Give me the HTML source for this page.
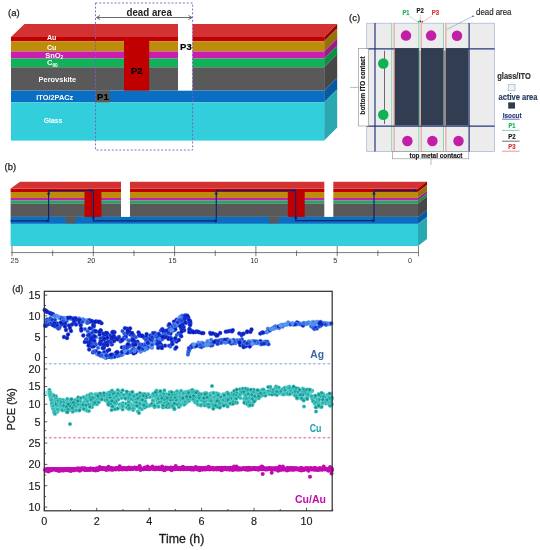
<!DOCTYPE html>
<html lang="en"><head><meta charset="utf-8"><title>Figure</title>
<style>
html,body{margin:0;padding:0;background:#fff;}
body{width:540px;height:550px;overflow:hidden;}
svg{display:block;font-family:'Liberation Sans', sans-serif;}
</style></head><body>
<svg width="540" height="550" viewBox="0 0 540 550">
<rect x="0" y="0" width="540" height="550" fill="#ffffff"/>
<polygon points="11.00,37.00 324.20,37.00 337.20,24.00 24.50,24.00" fill="#d23232" />
<rect x="11.00" y="37.00" width="313.20" height="4.30" fill="#c00000" />
<polygon points="324.20,37.00 337.20,24.00 337.20,28.30 324.20,41.30" fill="#9a0000" />
<rect x="11.00" y="41.30" width="313.20" height="10.20" fill="#bc8c0a" />
<polygon points="324.20,41.30 337.20,28.30 337.20,38.50 324.20,51.50" fill="#96700a" />
<rect x="11.00" y="51.50" width="313.20" height="7.00" fill="#c81fae" />
<polygon points="324.20,51.50 337.20,38.50 337.20,45.50 324.20,58.50" fill="#a0188a" />
<rect x="11.00" y="58.50" width="313.20" height="8.80" fill="#0fb257" />
<polygon points="324.20,58.50 337.20,45.50 337.20,54.30 324.20,67.30" fill="#0c8e46" />
<rect x="11.00" y="67.30" width="313.20" height="23.30" fill="#595959" />
<polygon points="324.20,67.30 337.20,54.30 337.20,77.60 324.20,90.60" fill="#474747" />
<rect x="11.00" y="90.60" width="313.20" height="11.70" fill="#0a6fc2" />
<polygon points="324.20,90.60 337.20,77.60 337.20,89.30 324.20,102.30" fill="#0859a0" />
<rect x="11.00" y="102.30" width="313.20" height="38.30" fill="#33cedb" />
<polygon points="324.20,102.30 337.20,89.30 337.20,127.60 324.20,140.60" fill="#29a8b2" />
<rect x="124.00" y="40.00" width="25.20" height="50.60" fill="#c00000" />
<rect x="178.00" y="22.00" width="14.50" height="68.60" fill="#ffffff" />
<rect x="95.60" y="90.60" width="14.30" height="11.70" fill="#595959" />
<rect x="95.5" y="3" width="97.1" height="147" fill="none" stroke="#8458c4" stroke-width="0.9" stroke-dasharray="2 1.8"/>
<line x1="97.00" y1="17.50" x2="191.50" y2="17.50" stroke="#444" stroke-width="0.8" />
<path d="M100 15.5 L96.5 17.5 L100 19.5 M188.5 15.5 L192 17.5 L188.5 19.5" fill="none" stroke="#444" stroke-width="0.8"/>
<text x="149.20" y="15.70" font-size="10.5" fill="#222" font-weight="bold" text-anchor="middle" textLength="45.5" lengthAdjust="spacingAndGlyphs">dead area</text>
<text x="51.60" y="40.40" font-size="7.5" fill="#fff" font-weight="bold" text-anchor="middle" textLength="9.4" lengthAdjust="spacingAndGlyphs">Au</text>
<text x="51.60" y="49.50" font-size="7.5" fill="#fff" font-weight="bold" text-anchor="middle" textLength="9.4" lengthAdjust="spacingAndGlyphs">Cu</text>
<text x="45.2" y="57.6" font-size="7.5" fill="#fff" font-weight="bold" text-anchor="start">SnO<tspan font-size="4.8" dy="1.5">2</tspan></text>
<text x="47" y="65" font-size="7.5" fill="#fff" font-weight="bold" text-anchor="start">C<tspan font-size="4.8" dy="1.5">60</tspan></text>
<text x="57.40" y="82.30" font-size="7.5" fill="#fff" font-weight="bold" text-anchor="middle" textLength="37.6" lengthAdjust="spacingAndGlyphs">Perovskite</text>
<text x="54.80" y="100.40" font-size="7.5" fill="#fff" font-weight="bold" text-anchor="middle" textLength="37" lengthAdjust="spacingAndGlyphs">ITO/2PACz</text>
<text x="53.00" y="123.00" font-size="7.5" fill="#fff" font-weight="bold" text-anchor="middle" textLength="18.6" lengthAdjust="spacingAndGlyphs">Glass</text>
<text x="136.70" y="73.50" font-size="9.5" fill="#000" font-weight="bold" text-anchor="middle" stroke="#000" stroke-width="0.2">P2</text>
<text x="185.90" y="49.80" font-size="9.5" fill="#000" font-weight="bold" text-anchor="middle" stroke="#000" stroke-width="0.2">P3</text>
<text x="102.90" y="100.00" font-size="9.5" fill="#000" font-weight="bold" text-anchor="middle" stroke="#000" stroke-width="0.2">P1</text>
<text x="8.00" y="16.30" font-size="9.5" fill="#222" font-weight="normal" text-anchor="start" stroke="#222" stroke-width="0.25">(a)</text>
<polygon points="10.60,188.60 418.00,188.60 427.00,181.80 20.10,181.80" fill="#d23232" />
<rect x="10.60" y="188.60" width="407.40" height="3.40" fill="#c00000" />
<polygon points="418.00,188.60 427.00,181.60 427.00,185.00 418.00,192.00" fill="#9a0000" />
<rect x="10.60" y="192.00" width="407.40" height="6.00" fill="#bc8c0a" />
<polygon points="418.00,192.00 427.00,185.00 427.00,191.00 418.00,198.00" fill="#96700a" />
<rect x="10.60" y="198.00" width="407.40" height="2.60" fill="#c81fae" />
<polygon points="418.00,198.00 427.00,191.00 427.00,193.60 418.00,200.60" fill="#a0188a" />
<rect x="10.60" y="200.60" width="407.40" height="2.80" fill="#0fb257" />
<polygon points="418.00,200.60 427.00,193.60 427.00,196.40 418.00,203.40" fill="#0c8e46" />
<rect x="10.60" y="203.40" width="407.40" height="13.50" fill="#595959" />
<polygon points="418.00,203.40 427.00,196.40 427.00,209.90 418.00,216.90" fill="#474747" />
<rect x="10.60" y="216.90" width="407.40" height="7.00" fill="#0a6fc2" />
<polygon points="418.00,216.90 427.00,209.90 427.00,216.90 418.00,223.90" fill="#0859a0" />
<rect x="10.60" y="223.90" width="407.40" height="22.10" fill="#33cedb" />
<polygon points="418.00,223.90 427.00,216.90 427.00,239.00 418.00,246.00" fill="#29a8b2" />
<rect x="65.70" y="216.90" width="9.80" height="6.40" fill="#595959" />
<rect x="84.50" y="190.00" width="16.90" height="26.90" fill="#c00000" />
<rect x="121.00" y="175.00" width="9.00" height="41.90" fill="#ffffff" />
<rect x="269.00" y="216.90" width="9.80" height="6.40" fill="#595959" />
<rect x="287.80" y="190.00" width="16.90" height="26.90" fill="#c00000" />
<rect x="324.30" y="175.00" width="9.00" height="41.90" fill="#ffffff" />
<polyline points="10.6,220.8 48.6,220.8 48.6,190.5 93.4,190.5 93.4,220.9 216.3,220.9 216.3,190.4 295.7,190.4 295.7,220.6 374,220.6 374,190.4 415,190.4" fill="none" stroke="#0b2272" stroke-width="1.15" stroke-linejoin="miter"/>
<polygon points="46.90,194.38 50.30,194.38 48.60,191.00" fill="#0b2272" />
<polygon points="214.60,194.38 218.00,194.38 216.30,191.00" fill="#0b2272" />
<polygon points="372.30,194.38 375.70,194.38 374.00,191.00" fill="#0b2272" />
<polygon points="91.70,217.22 95.10,217.22 93.40,220.60" fill="#0b2272" />
<polygon points="294.00,217.02 297.40,217.02 295.70,220.40" fill="#0b2272" />
<polygon points="89.82,188.80 89.82,192.20 93.20,190.50" fill="#0b2272" />
<polygon points="292.22,188.70 292.22,192.10 295.60,190.40" fill="#0b2272" />
<polygon points="414.12,188.70 414.12,192.10 417.50,190.40" fill="#0b2272" />
<circle cx="47.9" cy="220.8" r="1.3" fill="#0b2272"/>
<circle cx="215.6" cy="220.9" r="1.3" fill="#0b2272"/>
<circle cx="373.3" cy="220.6" r="1.3" fill="#0b2272"/>
<line x1="11.10" y1="252.60" x2="418.00" y2="252.60" stroke="#444" stroke-width="0.7" />
<line x1="12.00" y1="246.00" x2="12.00" y2="256.30" stroke="#444" stroke-width="0.7" />
<line x1="93.30" y1="246.00" x2="93.30" y2="256.30" stroke="#444" stroke-width="0.7" />
<line x1="174.60" y1="246.00" x2="174.60" y2="256.30" stroke="#444" stroke-width="0.7" />
<line x1="255.90" y1="246.00" x2="255.90" y2="256.30" stroke="#444" stroke-width="0.7" />
<line x1="337.20" y1="246.00" x2="337.20" y2="256.30" stroke="#444" stroke-width="0.7" />
<line x1="418.50" y1="246.00" x2="418.50" y2="256.30" stroke="#444" stroke-width="0.7" />
<line x1="52.65" y1="250.40" x2="52.65" y2="256.00" stroke="#444" stroke-width="0.7" />
<line x1="133.95" y1="250.40" x2="133.95" y2="256.00" stroke="#444" stroke-width="0.7" />
<line x1="215.25" y1="250.40" x2="215.25" y2="256.00" stroke="#444" stroke-width="0.7" />
<line x1="296.55" y1="250.40" x2="296.55" y2="256.00" stroke="#444" stroke-width="0.7" />
<line x1="377.85" y1="250.40" x2="377.85" y2="256.00" stroke="#444" stroke-width="0.7" />
<text x="10.60" y="263.40" font-size="7.3" fill="#333" font-weight="normal" text-anchor="start" >25</text>
<text x="91.20" y="263.40" font-size="7.3" fill="#333" font-weight="normal" text-anchor="middle" >20</text>
<text x="172.40" y="263.40" font-size="7.3" fill="#333" font-weight="normal" text-anchor="middle" >15</text>
<text x="254.20" y="263.40" font-size="7.3" fill="#333" font-weight="normal" text-anchor="middle" >10</text>
<text x="335.40" y="263.40" font-size="7.3" fill="#333" font-weight="normal" text-anchor="middle" >5</text>
<text x="410.00" y="263.40" font-size="7.3" fill="#333" font-weight="normal" text-anchor="middle" >0</text>
<text x="4.50" y="170.20" font-size="9.5" fill="#222" font-weight="normal" text-anchor="start" stroke="#222" stroke-width="0.25">(b)</text>
<rect x="366.70" y="23.20" width="127.90" height="128.20" fill="#ececec" stroke="#9fb3d3" stroke-width="0.7"/>
<line x1="392.90" y1="23.10" x2="392.90" y2="151.40" stroke="#fafafa" stroke-width="1.4" />
<line x1="391.75" y1="23.10" x2="391.75" y2="151.40" stroke="#62cf95" stroke-width="0.8" />
<line x1="394.05" y1="23.10" x2="394.05" y2="151.40" stroke="#e57878" stroke-width="0.8" />
<line x1="420.00" y1="23.10" x2="420.00" y2="151.40" stroke="#fafafa" stroke-width="1.4" />
<line x1="418.85" y1="23.10" x2="418.85" y2="151.40" stroke="#62cf95" stroke-width="0.8" />
<line x1="421.15" y1="23.10" x2="421.15" y2="151.40" stroke="#e57878" stroke-width="0.8" />
<line x1="444.70" y1="23.10" x2="444.70" y2="151.40" stroke="#fafafa" stroke-width="1.4" />
<line x1="443.55" y1="23.10" x2="443.55" y2="151.40" stroke="#62cf95" stroke-width="0.8" />
<line x1="445.85" y1="23.10" x2="445.85" y2="151.40" stroke="#e57878" stroke-width="0.8" />
<line x1="375.00" y1="23.10" x2="375.00" y2="151.40" stroke="#26377e" stroke-width="1.2" />
<line x1="469.10" y1="23.10" x2="469.10" y2="151.40" stroke="#26377e" stroke-width="1.2" />
<line x1="366.70" y1="48.90" x2="494.60" y2="48.90" stroke="#26377e" stroke-width="1.2" />
<line x1="366.70" y1="126.10" x2="494.60" y2="126.10" stroke="#26377e" stroke-width="1.2" />
<rect x="394.70" y="48.20" width="73.80" height="77.30" fill="#313d50" />
<line x1="419.30" y1="48.20" x2="419.30" y2="125.50" stroke="#a5dcc0" stroke-width="0.9" />
<line x1="420.50" y1="48.20" x2="420.50" y2="125.50" stroke="#eab0b0" stroke-width="0.9" />
<line x1="420.00" y1="48.20" x2="420.00" y2="50.60" stroke="#ffffff" stroke-width="1.2" />
<line x1="444.00" y1="48.20" x2="444.00" y2="125.50" stroke="#a5dcc0" stroke-width="0.9" />
<line x1="445.20" y1="48.20" x2="445.20" y2="125.50" stroke="#eab0b0" stroke-width="0.9" />
<line x1="444.70" y1="48.20" x2="444.70" y2="50.60" stroke="#ffffff" stroke-width="1.2" />
<line x1="394.40" y1="48.20" x2="394.40" y2="125.50" stroke="#d98080" stroke-width="0.7" />
<circle cx="406" cy="35.6" r="5.25" fill="#c31ea6"/>
<circle cx="431.1" cy="35.6" r="5.25" fill="#c31ea6"/>
<circle cx="457" cy="35.7" r="5.25" fill="#c31ea6"/>
<circle cx="407.4" cy="141" r="5.25" fill="#c31ea6"/>
<circle cx="432.4" cy="141" r="5.25" fill="#c31ea6"/>
<circle cx="458.5" cy="141" r="5.25" fill="#c31ea6"/>
<line x1="384.50" y1="50.70" x2="384.50" y2="124.00" stroke="#333" stroke-width="0.7" />
<circle cx="383.3" cy="63.5" r="5.25" fill="#10b053"/>
<circle cx="383.3" cy="114.8" r="5.25" fill="#10b053"/>
<rect x="358.30" y="48.60" width="10.30" height="77.40" fill="#ffffff" stroke="#8a8a8a" stroke-width="0.6"/>
<line x1="350.00" y1="87.40" x2="358.30" y2="87.40" stroke="#8a8a8a" stroke-width="0.6" />
<text transform="translate(365.1,85.4) rotate(-90)" font-size="7" fill="#151515" stroke="#151515" stroke-width="0.15" font-weight="bold" text-anchor="middle" textLength="58" lengthAdjust="spacingAndGlyphs">bottom ITO contact</text>
<rect x="392.60" y="151.60" width="76.20" height="7.20" fill="#ffffff" stroke="#8a8a8a" stroke-width="0.6"/>
<line x1="431.00" y1="158.80" x2="431.00" y2="165.00" stroke="#8a8a8a" stroke-width="0.6" />
<text x="436.00" y="157.80" font-size="7" fill="#151515" font-weight="bold" text-anchor="middle" textLength="53" lengthAdjust="spacingAndGlyphs" stroke="#151515" stroke-width="0.15">top metal contact</text>
<text x="406.00" y="15.40" font-size="6.9" fill="#10b053" font-weight="bold" text-anchor="middle" textLength="6.9" lengthAdjust="spacingAndGlyphs" stroke="#10b053" stroke-width="0.15">P1</text>
<text x="420.20" y="13.40" font-size="6.9" fill="#111" font-weight="bold" text-anchor="middle" textLength="7.3" lengthAdjust="spacingAndGlyphs" stroke="#111" stroke-width="0.15">P2</text>
<text x="435.40" y="15.40" font-size="6.9" fill="#d23232" font-weight="bold" text-anchor="middle" textLength="7.3" lengthAdjust="spacingAndGlyphs" stroke="#d23232" stroke-width="0.15">P3</text>
<line x1="408.50" y1="15.60" x2="418.30" y2="22.20" stroke="#55c98a" stroke-width="0.45" />
<line x1="420.20" y1="14.40" x2="420.20" y2="21.00" stroke="#888" stroke-width="0.4" />
<line x1="432.00" y1="15.80" x2="422.40" y2="22.20" stroke="#e06a6a" stroke-width="0.45" />
<rect x="417.90" y="20.90" width="1.40" height="1.60" fill="#10b053" />
<rect x="419.70" y="20.50" width="1.30" height="1.80" fill="#222" />
<rect x="421.60" y="20.90" width="1.40" height="1.60" fill="#d23232" />
<line x1="472.60" y1="16.30" x2="446.50" y2="29.60" stroke="#6f86b8" stroke-width="0.5" />
<circle cx="473" cy="16.2" r="0.8" fill="#2d3f86"/>
<text x="476.00" y="15.40" font-size="8.4" fill="#222" font-weight="normal" text-anchor="start" textLength="35.5" lengthAdjust="spacingAndGlyphs" stroke="#222" stroke-width="0.15">dead area</text>
<text x="514.00" y="79.30" font-size="8.4" fill="#333" font-weight="bold" text-anchor="middle" textLength="33.5" lengthAdjust="spacingAndGlyphs" stroke="#333" stroke-width="0.2">glass/ITO</text>
<rect x="508.20" y="84.40" width="6.80" height="6.40" fill="#eef1f5" stroke="#9fb3d3" stroke-width="0.7"/>
<text x="518.00" y="100.30" font-size="8.4" fill="#2b3f60" font-weight="bold" text-anchor="middle" textLength="39" lengthAdjust="spacingAndGlyphs" stroke="#2b3f60" stroke-width="0.2">active area</text>
<rect x="508.20" y="102.40" width="6.80" height="6.20" fill="#2f3b4f" />
<text x="512.20" y="117.60" font-size="6.8" fill="#26377e" font-weight="bold" text-anchor="middle" textLength="18.8" lengthAdjust="spacingAndGlyphs" stroke="#26377e" stroke-width="0.15">Isocut</text>
<line x1="502.00" y1="119.20" x2="519.60" y2="119.20" stroke="#26377e" stroke-width="0.7" />
<text x="512.00" y="127.80" font-size="6.9" fill="#10b053" font-weight="bold" text-anchor="middle" textLength="7" lengthAdjust="spacingAndGlyphs" stroke="#10b053" stroke-width="0.15">P1</text>
<line x1="502.00" y1="130.40" x2="519.60" y2="130.40" stroke="#55c98a" stroke-width="0.7" />
<text x="512.00" y="138.70" font-size="6.9" fill="#111" font-weight="bold" text-anchor="middle" textLength="7.3" lengthAdjust="spacingAndGlyphs" stroke="#111" stroke-width="0.15">P2</text>
<line x1="502.00" y1="141.20" x2="519.60" y2="141.20" stroke="#333" stroke-width="0.7" />
<text x="512.00" y="149.40" font-size="6.9" fill="#d23232" font-weight="bold" text-anchor="middle" textLength="7.3" lengthAdjust="spacingAndGlyphs" stroke="#d23232" stroke-width="0.15">P3</text>
<line x1="502.00" y1="151.20" x2="519.60" y2="151.20" stroke="#e06a6a" stroke-width="0.7" />
<text x="349.00" y="21.00" font-size="9.5" fill="#222" font-weight="normal" text-anchor="start" stroke="#222" stroke-width="0.25">(c)</text>
<g stroke-width="0.4">
<circle cx="132.3" cy="340.5" r="1.9" fill="#0a18b8" stroke="#2846d8"/>
<circle cx="227.7" cy="339.7" r="1.9" fill="#1232c8" stroke="#6a9ff2"/>
<circle cx="132.5" cy="338.4" r="1.9" fill="#0a18b8" stroke="#2846d8"/>
<circle cx="146.4" cy="344.5" r="1.9" fill="#1a44d4" stroke="#6a9ff2"/>
<circle cx="66.8" cy="320.9" r="1.9" fill="#2456dc" stroke="#6a9ff2"/>
<circle cx="167.8" cy="331.7" r="1.9" fill="#1a44d4" stroke="#6a9ff2"/>
<circle cx="161.2" cy="346.3" r="1.9" fill="#0b1cc0" stroke="#2846d8"/>
<circle cx="268.8" cy="329.7" r="1.9" fill="#3f7fe8" stroke="#6a9ff2"/>
<circle cx="122.9" cy="354.5" r="1.9" fill="#5a9af2" stroke="#6a9ff2"/>
<circle cx="89.2" cy="349.5" r="1.9" fill="#0e26c8" stroke="#2846d8"/>
<circle cx="151.1" cy="339.3" r="1.9" fill="#0d22c6" stroke="#2846d8"/>
<circle cx="184.4" cy="316.6" r="1.9" fill="#0a1ab0" stroke="#2846d8"/>
<circle cx="133.0" cy="337.2" r="1.9" fill="#1a44d4" stroke="#6a9ff2"/>
<circle cx="133.8" cy="348.9" r="1.9" fill="#0a18b8" stroke="#2846d8"/>
<circle cx="178.6" cy="320.7" r="1.9" fill="#2456dc" stroke="#6a9ff2"/>
<circle cx="51.6" cy="324.1" r="1.9" fill="#2456dc" stroke="#6a9ff2"/>
<circle cx="159.6" cy="338.2" r="1.9" fill="#0a1ab0" stroke="#2846d8"/>
<circle cx="312.8" cy="322.0" r="1.9" fill="#5a9af2" stroke="#6a9ff2"/>
<circle cx="202.6" cy="345.9" r="1.9" fill="#0b1cc0" stroke="#2846d8"/>
<circle cx="178.5" cy="333.4" r="1.9" fill="#0a1ab0" stroke="#2846d8"/>
<circle cx="138.3" cy="348.9" r="1.9" fill="#0a18b8" stroke="#2846d8"/>
<circle cx="300.5" cy="324.1" r="1.9" fill="#0a1ab0" stroke="#2846d8"/>
<circle cx="222.8" cy="341.7" r="1.9" fill="#2456dc" stroke="#6a9ff2"/>
<circle cx="249.8" cy="346.5" r="1.9" fill="#0d22c6" stroke="#2846d8"/>
<circle cx="221.2" cy="339.9" r="1.9" fill="#1a44d4" stroke="#6a9ff2"/>
<circle cx="133.1" cy="350.9" r="1.9" fill="#0a18b8" stroke="#2846d8"/>
<circle cx="176.7" cy="335.1" r="1.9" fill="#2456dc" stroke="#6a9ff2"/>
<circle cx="108.2" cy="334.7" r="1.9" fill="#0b1cc0" stroke="#2846d8"/>
<circle cx="232.9" cy="343.2" r="1.9" fill="#0a18b8" stroke="#2846d8"/>
<circle cx="296.9" cy="322.5" r="1.9" fill="#0b1cc0" stroke="#2846d8"/>
<circle cx="320.0" cy="326.3" r="1.9" fill="#2456dc" stroke="#6a9ff2"/>
<circle cx="104.2" cy="334.7" r="1.9" fill="#1232c8" stroke="#6a9ff2"/>
<circle cx="235.5" cy="343.2" r="1.9" fill="#2a6be4" stroke="#6a9ff2"/>
<circle cx="248.7" cy="341.3" r="1.9" fill="#2456dc" stroke="#6a9ff2"/>
<circle cx="132.7" cy="351.4" r="1.9" fill="#0e26c8" stroke="#2846d8"/>
<circle cx="317.7" cy="321.8" r="1.9" fill="#3f7fe8" stroke="#6a9ff2"/>
<circle cx="96.3" cy="321.3" r="1.9" fill="#0b1cc0" stroke="#2846d8"/>
<circle cx="184.2" cy="320.8" r="1.9" fill="#0a18b8" stroke="#2846d8"/>
<circle cx="60.6" cy="322.3" r="1.9" fill="#1a44d4" stroke="#6a9ff2"/>
<circle cx="250.5" cy="341.9" r="1.9" fill="#0b1cc0" stroke="#2846d8"/>
<circle cx="199.7" cy="346.4" r="1.9" fill="#1232c8" stroke="#6a9ff2"/>
<circle cx="163.8" cy="336.8" r="1.9" fill="#2a6be4" stroke="#6a9ff2"/>
<circle cx="132.8" cy="350.3" r="1.9" fill="#1232c8" stroke="#6a9ff2"/>
<circle cx="105.3" cy="342.9" r="1.9" fill="#0d22c6" stroke="#2846d8"/>
<circle cx="199.2" cy="332.3" r="1.9" fill="#0b1cc0" stroke="#2846d8"/>
<circle cx="215.7" cy="341.0" r="1.9" fill="#0a18b8" stroke="#2846d8"/>
<circle cx="105.4" cy="344.7" r="1.9" fill="#0b1cc0" stroke="#2846d8"/>
<circle cx="92.2" cy="346.5" r="1.9" fill="#0a1ab0" stroke="#2846d8"/>
<circle cx="252.8" cy="341.5" r="1.9" fill="#0a18b8" stroke="#2846d8"/>
<circle cx="172.9" cy="330.7" r="1.9" fill="#0a18b8" stroke="#2846d8"/>
<circle cx="108.8" cy="356.7" r="1.9" fill="#0a1ab0" stroke="#2846d8"/>
<circle cx="308.8" cy="323.1" r="1.9" fill="#2a6be4" stroke="#6a9ff2"/>
<circle cx="62.5" cy="324.0" r="1.9" fill="#0a18b8" stroke="#2846d8"/>
<circle cx="275.5" cy="326.3" r="1.9" fill="#1232c8" stroke="#6a9ff2"/>
<circle cx="132.6" cy="351.6" r="1.9" fill="#1232c8" stroke="#6a9ff2"/>
<circle cx="195.3" cy="346.3" r="1.9" fill="#0b1cc0" stroke="#2846d8"/>
<circle cx="324.5" cy="323.1" r="1.9" fill="#1a44d4" stroke="#6a9ff2"/>
<circle cx="121.9" cy="347.3" r="1.9" fill="#0a18b8" stroke="#2846d8"/>
<circle cx="166.0" cy="333.7" r="1.9" fill="#2a6be4" stroke="#6a9ff2"/>
<circle cx="114.9" cy="356.6" r="1.9" fill="#1a44d4" stroke="#6a9ff2"/>
<circle cx="96.9" cy="353.1" r="1.9" fill="#2a6be4" stroke="#6a9ff2"/>
<circle cx="162.3" cy="336.4" r="1.9" fill="#4f8ff0" stroke="#6a9ff2"/>
<circle cx="162.5" cy="336.2" r="1.9" fill="#2456dc" stroke="#6a9ff2"/>
<circle cx="188.3" cy="317.4" r="1.9" fill="#0d22c6" stroke="#2846d8"/>
<circle cx="195.9" cy="345.3" r="1.9" fill="#0e26c8" stroke="#2846d8"/>
<circle cx="277.1" cy="326.9" r="1.9" fill="#4f8ff0" stroke="#6a9ff2"/>
<circle cx="243.8" cy="342.6" r="1.9" fill="#1a44d4" stroke="#6a9ff2"/>
<circle cx="259.3" cy="342.6" r="1.9" fill="#2456dc" stroke="#6a9ff2"/>
<circle cx="115.5" cy="355.4" r="1.9" fill="#1232c8" stroke="#6a9ff2"/>
<circle cx="76.7" cy="319.9" r="1.9" fill="#0d22c6" stroke="#2846d8"/>
<circle cx="96.0" cy="336.9" r="1.9" fill="#2456dc" stroke="#6a9ff2"/>
<circle cx="130.3" cy="334.6" r="1.9" fill="#0d22c6" stroke="#2846d8"/>
<circle cx="164.0" cy="332.8" r="1.9" fill="#0b1cc0" stroke="#2846d8"/>
<circle cx="137.5" cy="341.6" r="1.9" fill="#0e26c8" stroke="#2846d8"/>
<circle cx="201.5" cy="347.1" r="1.9" fill="#1232c8" stroke="#6a9ff2"/>
<circle cx="134.2" cy="351.2" r="1.9" fill="#0a18b8" stroke="#2846d8"/>
<circle cx="314.2" cy="323.5" r="1.9" fill="#4f8ff0" stroke="#6a9ff2"/>
<circle cx="150.5" cy="345.2" r="1.9" fill="#4f8ff0" stroke="#6a9ff2"/>
<circle cx="52.6" cy="320.0" r="1.9" fill="#0d22c6" stroke="#2846d8"/>
<circle cx="46.5" cy="319.8" r="1.9" fill="#2456dc" stroke="#6a9ff2"/>
<circle cx="69.0" cy="325.5" r="1.9" fill="#0a18b8" stroke="#2846d8"/>
<circle cx="171.2" cy="325.7" r="1.9" fill="#1a44d4" stroke="#6a9ff2"/>
<circle cx="182.4" cy="324.2" r="1.9" fill="#0b1cc0" stroke="#2846d8"/>
<circle cx="138.9" cy="350.0" r="1.9" fill="#4f8ff0" stroke="#6a9ff2"/>
<circle cx="130.6" cy="351.3" r="1.9" fill="#5a9af2" stroke="#6a9ff2"/>
<circle cx="107.2" cy="351.0" r="1.9" fill="#0d22c6" stroke="#2846d8"/>
<circle cx="93.0" cy="352.4" r="1.9" fill="#0b1cc0" stroke="#2846d8"/>
<circle cx="87.3" cy="321.4" r="1.9" fill="#5a9af2" stroke="#6a9ff2"/>
<circle cx="164.6" cy="334.5" r="1.9" fill="#0d22c6" stroke="#2846d8"/>
<circle cx="207.5" cy="341.2" r="1.9" fill="#3f7fe8" stroke="#6a9ff2"/>
<circle cx="81.3" cy="330.5" r="1.9" fill="#0a18b8" stroke="#2846d8"/>
<circle cx="96.7" cy="331.7" r="1.9" fill="#1a44d4" stroke="#6a9ff2"/>
<circle cx="201.1" cy="343.6" r="1.9" fill="#0a1ab0" stroke="#2846d8"/>
<circle cx="186.3" cy="323.0" r="1.9" fill="#2456dc" stroke="#6a9ff2"/>
<circle cx="176.1" cy="340.4" r="1.9" fill="#0b1cc0" stroke="#2846d8"/>
<circle cx="70.2" cy="318.7" r="1.9" fill="#2a6be4" stroke="#6a9ff2"/>
<circle cx="271.4" cy="328.8" r="1.9" fill="#3f7fe8" stroke="#6a9ff2"/>
<circle cx="158.7" cy="346.7" r="1.9" fill="#2456dc" stroke="#6a9ff2"/>
<circle cx="159.2" cy="340.1" r="1.9" fill="#2456dc" stroke="#6a9ff2"/>
<circle cx="209.1" cy="344.7" r="1.9" fill="#0a1ab0" stroke="#2846d8"/>
<circle cx="160.8" cy="330.7" r="1.9" fill="#1a44d4" stroke="#6a9ff2"/>
<circle cx="161.3" cy="345.2" r="1.9" fill="#0a18b8" stroke="#2846d8"/>
<circle cx="152.3" cy="341.2" r="1.9" fill="#0a1ab0" stroke="#2846d8"/>
<circle cx="72.0" cy="324.5" r="1.9" fill="#0e26c8" stroke="#2846d8"/>
<circle cx="100.7" cy="330.5" r="1.9" fill="#0a1ab0" stroke="#2846d8"/>
<circle cx="46.7" cy="311.8" r="1.9" fill="#0a18b8" stroke="#2846d8"/>
<circle cx="149.1" cy="338.8" r="1.9" fill="#0a1ab0" stroke="#2846d8"/>
<circle cx="115.8" cy="352.9" r="1.9" fill="#1a44d4" stroke="#6a9ff2"/>
<circle cx="67.0" cy="338.0" r="1.9" fill="#0a1ab0" stroke="#2846d8"/>
<circle cx="65.0" cy="326.5" r="1.9" fill="#0a1ab0" stroke="#2846d8"/>
<circle cx="115.6" cy="338.2" r="1.9" fill="#0b1cc0" stroke="#2846d8"/>
<circle cx="115.3" cy="355.9" r="1.9" fill="#0b1cc0" stroke="#2846d8"/>
<circle cx="100.6" cy="330.5" r="1.9" fill="#0a1ab0" stroke="#2846d8"/>
<circle cx="60.8" cy="325.5" r="1.9" fill="#2456dc" stroke="#6a9ff2"/>
<circle cx="326.5" cy="324.8" r="1.9" fill="#3f7fe8" stroke="#6a9ff2"/>
<circle cx="184.2" cy="330.4" r="1.9" fill="#1a44d4" stroke="#6a9ff2"/>
<circle cx="170.9" cy="329.1" r="1.9" fill="#1a44d4" stroke="#6a9ff2"/>
<circle cx="117.5" cy="356.1" r="1.9" fill="#1a44d4" stroke="#6a9ff2"/>
<circle cx="56.8" cy="323.3" r="1.9" fill="#0d22c6" stroke="#2846d8"/>
<circle cx="190.2" cy="323.5" r="1.9" fill="#0d22c6" stroke="#2846d8"/>
<circle cx="62.5" cy="321.9" r="1.9" fill="#0a1ab0" stroke="#2846d8"/>
<circle cx="116.1" cy="354.3" r="1.9" fill="#0a1ab0" stroke="#2846d8"/>
<circle cx="314.5" cy="329.1" r="1.9" fill="#1a44d4" stroke="#6a9ff2"/>
<circle cx="64.0" cy="337.0" r="1.9" fill="#0d22c6" stroke="#2846d8"/>
<circle cx="230.0" cy="330.9" r="1.9" fill="#0e26c8" stroke="#2846d8"/>
<circle cx="50.8" cy="313.5" r="1.9" fill="#0a18b8" stroke="#2846d8"/>
<circle cx="326.9" cy="323.4" r="1.9" fill="#1a44d4" stroke="#6a9ff2"/>
<circle cx="316.9" cy="328.5" r="1.9" fill="#1232c8" stroke="#6a9ff2"/>
<circle cx="170.5" cy="333.7" r="1.9" fill="#0b1cc0" stroke="#2846d8"/>
<circle cx="308.5" cy="322.4" r="1.9" fill="#2456dc" stroke="#6a9ff2"/>
<circle cx="219.0" cy="343.1" r="1.9" fill="#4f8ff0" stroke="#6a9ff2"/>
<circle cx="130.2" cy="333.4" r="1.9" fill="#0e26c8" stroke="#2846d8"/>
<circle cx="86.5" cy="320.1" r="1.9" fill="#5a9af2" stroke="#6a9ff2"/>
<circle cx="62.0" cy="323.3" r="1.9" fill="#0a18b8" stroke="#2846d8"/>
<circle cx="65.1" cy="323.4" r="1.9" fill="#0a18b8" stroke="#2846d8"/>
<circle cx="167.1" cy="332.9" r="1.9" fill="#2456dc" stroke="#6a9ff2"/>
<circle cx="227.1" cy="339.3" r="1.9" fill="#1232c8" stroke="#6a9ff2"/>
<circle cx="268.0" cy="343.3" r="1.9" fill="#1a44d4" stroke="#6a9ff2"/>
<circle cx="152.9" cy="332.9" r="1.9" fill="#1a44d4" stroke="#6a9ff2"/>
<circle cx="72.8" cy="318.3" r="1.9" fill="#0e26c8" stroke="#2846d8"/>
<circle cx="180.9" cy="317.0" r="1.9" fill="#0b1cc0" stroke="#2846d8"/>
<circle cx="183.1" cy="316.4" r="1.9" fill="#1232c8" stroke="#6a9ff2"/>
<circle cx="257.6" cy="342.2" r="1.9" fill="#2a6be4" stroke="#6a9ff2"/>
<circle cx="260.3" cy="341.1" r="1.9" fill="#0b1cc0" stroke="#2846d8"/>
<circle cx="148.8" cy="346.8" r="1.9" fill="#0a18b8" stroke="#2846d8"/>
<circle cx="146.6" cy="335.3" r="1.9" fill="#1a44d4" stroke="#6a9ff2"/>
<circle cx="310.9" cy="323.0" r="1.9" fill="#5a9af2" stroke="#6a9ff2"/>
<circle cx="95.7" cy="352.1" r="1.9" fill="#0d22c6" stroke="#2846d8"/>
<circle cx="139.1" cy="335.6" r="1.9" fill="#0a1ab0" stroke="#2846d8"/>
<circle cx="311.2" cy="326.2" r="1.9" fill="#2456dc" stroke="#6a9ff2"/>
<circle cx="79.1" cy="318.3" r="1.9" fill="#4f8ff0" stroke="#6a9ff2"/>
<circle cx="180.3" cy="334.5" r="1.9" fill="#1a44d4" stroke="#6a9ff2"/>
<circle cx="170.3" cy="346.6" r="1.9" fill="#2456dc" stroke="#6a9ff2"/>
<circle cx="80.5" cy="322.4" r="1.9" fill="#0d22c6" stroke="#2846d8"/>
<circle cx="130.1" cy="328.3" r="1.9" fill="#0a18b8" stroke="#2846d8"/>
<circle cx="170.7" cy="328.6" r="1.9" fill="#4f8ff0" stroke="#6a9ff2"/>
<circle cx="95.6" cy="331.2" r="1.9" fill="#0d22c6" stroke="#2846d8"/>
<circle cx="109.5" cy="355.9" r="1.9" fill="#0d22c6" stroke="#2846d8"/>
<circle cx="120.5" cy="341.5" r="1.9" fill="#1a44d4" stroke="#6a9ff2"/>
<circle cx="100.7" cy="353.7" r="1.9" fill="#1a44d4" stroke="#6a9ff2"/>
<circle cx="240.6" cy="343.2" r="1.9" fill="#1232c8" stroke="#6a9ff2"/>
<circle cx="61.1" cy="322.6" r="1.9" fill="#0a1ab0" stroke="#2846d8"/>
<circle cx="259.0" cy="343.2" r="1.9" fill="#0a1ab0" stroke="#2846d8"/>
<circle cx="262.2" cy="332.5" r="1.9" fill="#0d22c6" stroke="#2846d8"/>
<circle cx="59.2" cy="318.1" r="1.9" fill="#4f8ff0" stroke="#6a9ff2"/>
<circle cx="66.5" cy="318.4" r="1.9" fill="#3f7fe8" stroke="#6a9ff2"/>
<circle cx="171.5" cy="327.1" r="1.9" fill="#3f7fe8" stroke="#6a9ff2"/>
<circle cx="127.4" cy="333.5" r="1.9" fill="#1232c8" stroke="#6a9ff2"/>
<circle cx="93.9" cy="326.7" r="1.9" fill="#2456dc" stroke="#6a9ff2"/>
<circle cx="140.6" cy="351.6" r="1.9" fill="#1232c8" stroke="#6a9ff2"/>
<circle cx="288.1" cy="322.5" r="1.9" fill="#3f7fe8" stroke="#6a9ff2"/>
<circle cx="80.5" cy="323.7" r="1.9" fill="#0e26c8" stroke="#2846d8"/>
<circle cx="68.4" cy="317.6" r="1.9" fill="#4f8ff0" stroke="#6a9ff2"/>
<circle cx="168.4" cy="325.6" r="1.9" fill="#2456dc" stroke="#6a9ff2"/>
<circle cx="102.9" cy="339.2" r="1.9" fill="#0e26c8" stroke="#2846d8"/>
<circle cx="311.3" cy="323.1" r="1.9" fill="#4f8ff0" stroke="#6a9ff2"/>
<circle cx="322.9" cy="323.0" r="1.9" fill="#2a6be4" stroke="#6a9ff2"/>
<circle cx="175.6" cy="325.1" r="1.9" fill="#4f8ff0" stroke="#6a9ff2"/>
<circle cx="204.5" cy="344.2" r="1.9" fill="#5a9af2" stroke="#6a9ff2"/>
<circle cx="142.4" cy="346.4" r="1.9" fill="#0d22c6" stroke="#2846d8"/>
<circle cx="99.7" cy="334.6" r="1.9" fill="#0a18b8" stroke="#2846d8"/>
<circle cx="147.3" cy="346.5" r="1.9" fill="#0d22c6" stroke="#2846d8"/>
<circle cx="174.7" cy="329.6" r="1.9" fill="#0b1cc0" stroke="#2846d8"/>
<circle cx="176.7" cy="319.6" r="1.9" fill="#0b1cc0" stroke="#2846d8"/>
<circle cx="90.1" cy="321.4" r="1.9" fill="#0a18b8" stroke="#2846d8"/>
<circle cx="100.5" cy="340.9" r="1.9" fill="#1232c8" stroke="#6a9ff2"/>
<circle cx="105.2" cy="334.6" r="1.9" fill="#0a1ab0" stroke="#2846d8"/>
<circle cx="306.1" cy="324.1" r="1.9" fill="#3f7fe8" stroke="#6a9ff2"/>
<circle cx="312.9" cy="327.4" r="1.9" fill="#2456dc" stroke="#6a9ff2"/>
<circle cx="173.8" cy="327.6" r="1.9" fill="#4f8ff0" stroke="#6a9ff2"/>
<circle cx="300.1" cy="324.1" r="1.9" fill="#0a18b8" stroke="#2846d8"/>
<circle cx="163.3" cy="335.0" r="1.9" fill="#2456dc" stroke="#6a9ff2"/>
<circle cx="178.8" cy="340.0" r="1.9" fill="#0a1ab0" stroke="#2846d8"/>
<circle cx="263.4" cy="332.6" r="1.9" fill="#0b1cc0" stroke="#2846d8"/>
<circle cx="288.9" cy="323.5" r="1.9" fill="#1a44d4" stroke="#6a9ff2"/>
<circle cx="92.5" cy="342.1" r="1.9" fill="#0d22c6" stroke="#2846d8"/>
<circle cx="217.3" cy="340.8" r="1.9" fill="#1232c8" stroke="#6a9ff2"/>
<circle cx="91.0" cy="338.4" r="1.9" fill="#0d22c6" stroke="#2846d8"/>
<circle cx="153.0" cy="342.5" r="1.9" fill="#1232c8" stroke="#6a9ff2"/>
<circle cx="189.3" cy="349.0" r="1.9" fill="#4f8ff0" stroke="#6a9ff2"/>
<circle cx="324.0" cy="323.6" r="1.9" fill="#3f7fe8" stroke="#6a9ff2"/>
<circle cx="109.2" cy="349.8" r="1.9" fill="#0a1ab0" stroke="#2846d8"/>
<circle cx="193.9" cy="345.5" r="1.9" fill="#3f7fe8" stroke="#6a9ff2"/>
<circle cx="111.8" cy="344.4" r="1.9" fill="#0b1cc0" stroke="#2846d8"/>
<circle cx="313.4" cy="322.8" r="1.9" fill="#1a44d4" stroke="#6a9ff2"/>
<circle cx="164.0" cy="331.4" r="1.9" fill="#0d22c6" stroke="#2846d8"/>
<circle cx="190.5" cy="347.7" r="1.9" fill="#0a1ab0" stroke="#2846d8"/>
<circle cx="210.2" cy="332.8" r="1.9" fill="#0b1cc0" stroke="#2846d8"/>
<circle cx="92.3" cy="344.6" r="1.9" fill="#0a18b8" stroke="#2846d8"/>
<circle cx="114.1" cy="354.8" r="1.9" fill="#2456dc" stroke="#6a9ff2"/>
<circle cx="192.1" cy="346.5" r="1.9" fill="#2a6be4" stroke="#6a9ff2"/>
<circle cx="287.4" cy="324.3" r="1.9" fill="#5a9af2" stroke="#6a9ff2"/>
<circle cx="240.3" cy="343.8" r="1.9" fill="#1232c8" stroke="#6a9ff2"/>
<circle cx="72.2" cy="318.9" r="1.9" fill="#4f8ff0" stroke="#6a9ff2"/>
<circle cx="255.6" cy="342.9" r="1.9" fill="#1232c8" stroke="#6a9ff2"/>
<circle cx="210.9" cy="345.3" r="1.9" fill="#1a44d4" stroke="#6a9ff2"/>
<circle cx="80.3" cy="322.8" r="1.9" fill="#1a44d4" stroke="#6a9ff2"/>
<circle cx="179.8" cy="317.2" r="1.9" fill="#5a9af2" stroke="#6a9ff2"/>
<circle cx="95.0" cy="344.1" r="1.9" fill="#1a44d4" stroke="#6a9ff2"/>
<circle cx="117.7" cy="339.3" r="1.9" fill="#0d22c6" stroke="#2846d8"/>
<circle cx="149.6" cy="346.8" r="1.9" fill="#5a9af2" stroke="#6a9ff2"/>
<circle cx="180.5" cy="321.5" r="1.9" fill="#0d22c6" stroke="#2846d8"/>
<circle cx="158.3" cy="338.1" r="1.9" fill="#1a44d4" stroke="#6a9ff2"/>
<circle cx="124.3" cy="333.6" r="1.9" fill="#2456dc" stroke="#6a9ff2"/>
<circle cx="266.6" cy="343.5" r="1.9" fill="#1a44d4" stroke="#6a9ff2"/>
<circle cx="236.1" cy="341.6" r="1.9" fill="#2456dc" stroke="#6a9ff2"/>
<circle cx="119.3" cy="355.6" r="1.9" fill="#1a44d4" stroke="#6a9ff2"/>
<circle cx="322.5" cy="323.6" r="1.9" fill="#2a6be4" stroke="#6a9ff2"/>
<circle cx="98.1" cy="347.8" r="1.9" fill="#2456dc" stroke="#6a9ff2"/>
<circle cx="236.1" cy="340.4" r="1.9" fill="#3f7fe8" stroke="#6a9ff2"/>
<circle cx="93.6" cy="330.9" r="1.9" fill="#1232c8" stroke="#6a9ff2"/>
<circle cx="191.5" cy="346.9" r="1.9" fill="#0d22c6" stroke="#2846d8"/>
<circle cx="100.8" cy="354.7" r="1.9" fill="#4f8ff0" stroke="#6a9ff2"/>
<circle cx="114.1" cy="356.5" r="1.9" fill="#0b1cc0" stroke="#2846d8"/>
<circle cx="182.0" cy="329.1" r="1.9" fill="#0a18b8" stroke="#2846d8"/>
<circle cx="133.5" cy="335.1" r="1.9" fill="#0b1cc0" stroke="#2846d8"/>
<circle cx="314.1" cy="328.4" r="1.9" fill="#1232c8" stroke="#6a9ff2"/>
<circle cx="107.8" cy="356.6" r="1.9" fill="#2456dc" stroke="#6a9ff2"/>
<circle cx="212.3" cy="345.3" r="1.9" fill="#1232c8" stroke="#6a9ff2"/>
<circle cx="298.7" cy="323.9" r="1.9" fill="#2456dc" stroke="#6a9ff2"/>
<circle cx="228.2" cy="341.6" r="1.9" fill="#2456dc" stroke="#6a9ff2"/>
<circle cx="110.0" cy="355.5" r="1.9" fill="#5a9af2" stroke="#6a9ff2"/>
<circle cx="305.0" cy="323.2" r="1.9" fill="#4f8ff0" stroke="#6a9ff2"/>
<circle cx="109.2" cy="356.6" r="1.9" fill="#0d22c6" stroke="#2846d8"/>
<circle cx="85.0" cy="329.1" r="1.9" fill="#1a44d4" stroke="#6a9ff2"/>
<circle cx="91.8" cy="341.1" r="1.9" fill="#1232c8" stroke="#6a9ff2"/>
<circle cx="325.6" cy="323.9" r="1.9" fill="#1a44d4" stroke="#6a9ff2"/>
<circle cx="84.8" cy="342.0" r="1.9" fill="#0d22c6" stroke="#2846d8"/>
<circle cx="112.4" cy="340.8" r="1.9" fill="#0a1ab0" stroke="#2846d8"/>
<circle cx="141.9" cy="348.8" r="1.9" fill="#4f8ff0" stroke="#6a9ff2"/>
<circle cx="121.8" cy="352.4" r="1.9" fill="#4f8ff0" stroke="#6a9ff2"/>
<circle cx="321.4" cy="325.2" r="1.9" fill="#1232c8" stroke="#6a9ff2"/>
<circle cx="92.4" cy="321.4" r="1.9" fill="#0b1cc0" stroke="#2846d8"/>
<circle cx="190.0" cy="324.5" r="1.9" fill="#0e26c8" stroke="#2846d8"/>
<circle cx="279.1" cy="328.1" r="1.9" fill="#2a6be4" stroke="#6a9ff2"/>
<circle cx="74.7" cy="319.2" r="1.9" fill="#0a18b8" stroke="#2846d8"/>
<circle cx="144.2" cy="349.3" r="1.9" fill="#1a44d4" stroke="#6a9ff2"/>
<circle cx="319.0" cy="326.3" r="1.9" fill="#1a44d4" stroke="#6a9ff2"/>
<circle cx="234.0" cy="341.3" r="1.9" fill="#2456dc" stroke="#6a9ff2"/>
<circle cx="80.7" cy="325.2" r="1.9" fill="#0b1cc0" stroke="#2846d8"/>
<circle cx="178.3" cy="325.3" r="1.9" fill="#1a44d4" stroke="#6a9ff2"/>
<circle cx="55.4" cy="324.1" r="1.9" fill="#1232c8" stroke="#6a9ff2"/>
<circle cx="101.5" cy="323.2" r="1.9" fill="#0a1ab0" stroke="#2846d8"/>
<circle cx="146.5" cy="348.5" r="1.9" fill="#0a1ab0" stroke="#2846d8"/>
<circle cx="155.5" cy="342.6" r="1.9" fill="#2a6be4" stroke="#6a9ff2"/>
<circle cx="302.0" cy="323.9" r="1.9" fill="#4f8ff0" stroke="#6a9ff2"/>
<circle cx="88.1" cy="335.2" r="1.9" fill="#0b1cc0" stroke="#2846d8"/>
<circle cx="215.6" cy="334.5" r="1.9" fill="#0d22c6" stroke="#2846d8"/>
<circle cx="177.7" cy="321.2" r="1.9" fill="#1232c8" stroke="#6a9ff2"/>
<circle cx="203.7" cy="345.9" r="1.9" fill="#2456dc" stroke="#6a9ff2"/>
<circle cx="275.9" cy="327.5" r="1.9" fill="#0a18b8" stroke="#2846d8"/>
<circle cx="170.5" cy="337.5" r="1.9" fill="#1a44d4" stroke="#6a9ff2"/>
<circle cx="106.6" cy="338.8" r="1.9" fill="#2456dc" stroke="#6a9ff2"/>
<circle cx="257.0" cy="343.0" r="1.9" fill="#1a44d4" stroke="#6a9ff2"/>
<circle cx="88.8" cy="343.4" r="1.9" fill="#0a18b8" stroke="#2846d8"/>
<circle cx="237.8" cy="341.7" r="1.9" fill="#2456dc" stroke="#6a9ff2"/>
<circle cx="155.0" cy="332.9" r="1.9" fill="#1a44d4" stroke="#6a9ff2"/>
<circle cx="184.0" cy="330.2" r="1.9" fill="#0d22c6" stroke="#2846d8"/>
<circle cx="262.9" cy="342.3" r="1.9" fill="#0b1cc0" stroke="#2846d8"/>
<circle cx="93.9" cy="322.6" r="1.9" fill="#0b1cc0" stroke="#2846d8"/>
<circle cx="266.2" cy="342.2" r="1.9" fill="#0a1ab0" stroke="#2846d8"/>
<circle cx="194.3" cy="346.6" r="1.9" fill="#3f7fe8" stroke="#6a9ff2"/>
<circle cx="90.3" cy="337.4" r="1.9" fill="#0e26c8" stroke="#2846d8"/>
<circle cx="163.6" cy="337.7" r="1.9" fill="#0a1ab0" stroke="#2846d8"/>
<circle cx="161.1" cy="338.1" r="1.9" fill="#2a6be4" stroke="#6a9ff2"/>
<circle cx="141.0" cy="351.0" r="1.9" fill="#3f7fe8" stroke="#6a9ff2"/>
<circle cx="146.0" cy="340.0" r="1.9" fill="#0a1ab0" stroke="#2846d8"/>
<circle cx="58.7" cy="328.5" r="1.9" fill="#1a44d4" stroke="#6a9ff2"/>
<circle cx="225.8" cy="331.7" r="1.9" fill="#0a1ab0" stroke="#2846d8"/>
<circle cx="126.7" cy="347.2" r="1.9" fill="#0e26c8" stroke="#2846d8"/>
<circle cx="47.1" cy="319.3" r="1.9" fill="#1232c8" stroke="#6a9ff2"/>
<circle cx="148.5" cy="347.0" r="1.9" fill="#1232c8" stroke="#6a9ff2"/>
<circle cx="145.9" cy="345.3" r="1.9" fill="#2456dc" stroke="#6a9ff2"/>
<circle cx="241.5" cy="335.1" r="1.9" fill="#0e26c8" stroke="#2846d8"/>
<circle cx="133.3" cy="345.2" r="1.9" fill="#0e26c8" stroke="#2846d8"/>
<circle cx="190.6" cy="332.1" r="1.9" fill="#0b1cc0" stroke="#2846d8"/>
<circle cx="56.0" cy="315.7" r="1.9" fill="#5a9af2" stroke="#6a9ff2"/>
<circle cx="105.2" cy="355.8" r="1.9" fill="#3f7fe8" stroke="#6a9ff2"/>
<circle cx="156.9" cy="342.6" r="1.9" fill="#2a6be4" stroke="#6a9ff2"/>
<circle cx="87.2" cy="322.7" r="1.9" fill="#0e26c8" stroke="#2846d8"/>
<circle cx="117.1" cy="339.2" r="1.9" fill="#0a1ab0" stroke="#2846d8"/>
<circle cx="140.4" cy="351.2" r="1.9" fill="#4f8ff0" stroke="#6a9ff2"/>
<circle cx="105.5" cy="343.1" r="1.9" fill="#0d22c6" stroke="#2846d8"/>
<circle cx="90.7" cy="340.8" r="1.9" fill="#0b1cc0" stroke="#2846d8"/>
<circle cx="147.0" cy="340.2" r="1.9" fill="#2456dc" stroke="#6a9ff2"/>
<circle cx="47.9" cy="320.6" r="1.9" fill="#2456dc" stroke="#6a9ff2"/>
<circle cx="55.0" cy="326.5" r="1.9" fill="#1232c8" stroke="#6a9ff2"/>
<circle cx="127.4" cy="348.1" r="1.9" fill="#2456dc" stroke="#6a9ff2"/>
<circle cx="250.5" cy="331.8" r="1.9" fill="#0a18b8" stroke="#2846d8"/>
<circle cx="110.8" cy="357.0" r="1.9" fill="#0a18b8" stroke="#2846d8"/>
<circle cx="289.6" cy="324.2" r="1.9" fill="#5a9af2" stroke="#6a9ff2"/>
<circle cx="152.6" cy="337.9" r="1.9" fill="#0b1cc0" stroke="#2846d8"/>
<circle cx="253.6" cy="341.3" r="1.9" fill="#2a6be4" stroke="#6a9ff2"/>
<circle cx="174.0" cy="321.6" r="1.9" fill="#0a18b8" stroke="#2846d8"/>
<circle cx="232.0" cy="331.4" r="1.9" fill="#0a1ab0" stroke="#2846d8"/>
<circle cx="281.7" cy="324.9" r="1.9" fill="#5a9af2" stroke="#6a9ff2"/>
<circle cx="95.8" cy="351.2" r="1.9" fill="#0d22c6" stroke="#2846d8"/>
<circle cx="46.2" cy="325.8" r="1.9" fill="#1232c8" stroke="#6a9ff2"/>
<circle cx="220.2" cy="333.0" r="1.9" fill="#0b1cc0" stroke="#2846d8"/>
<circle cx="238.5" cy="340.3" r="1.9" fill="#5a9af2" stroke="#6a9ff2"/>
<circle cx="91.6" cy="328.7" r="1.9" fill="#2456dc" stroke="#6a9ff2"/>
<circle cx="196.9" cy="345.0" r="1.9" fill="#1a44d4" stroke="#6a9ff2"/>
<circle cx="234.8" cy="341.9" r="1.9" fill="#2456dc" stroke="#6a9ff2"/>
<circle cx="70.2" cy="317.6" r="1.9" fill="#0a18b8" stroke="#2846d8"/>
<circle cx="45.8" cy="324.1" r="1.9" fill="#0b1cc0" stroke="#2846d8"/>
<circle cx="175.6" cy="326.3" r="1.9" fill="#0e26c8" stroke="#2846d8"/>
<circle cx="220.5" cy="342.3" r="1.9" fill="#0a1ab0" stroke="#2846d8"/>
<circle cx="109.9" cy="341.5" r="1.9" fill="#0a1ab0" stroke="#2846d8"/>
<circle cx="140.7" cy="335.6" r="1.9" fill="#0b1cc0" stroke="#2846d8"/>
<circle cx="139.1" cy="349.8" r="1.9" fill="#1232c8" stroke="#6a9ff2"/>
<circle cx="50.2" cy="319.7" r="1.9" fill="#1a44d4" stroke="#6a9ff2"/>
<circle cx="129.6" cy="346.1" r="1.9" fill="#0d22c6" stroke="#2846d8"/>
<circle cx="135.1" cy="343.0" r="1.9" fill="#1232c8" stroke="#6a9ff2"/>
<circle cx="242.5" cy="334.0" r="1.9" fill="#0d22c6" stroke="#2846d8"/>
<circle cx="196.7" cy="331.3" r="1.9" fill="#0a1ab0" stroke="#2846d8"/>
<circle cx="97.1" cy="354.3" r="1.9" fill="#5a9af2" stroke="#6a9ff2"/>
<circle cx="268.8" cy="329.8" r="1.9" fill="#2a6be4" stroke="#6a9ff2"/>
<circle cx="240.3" cy="345.1" r="1.9" fill="#0b1cc0" stroke="#2846d8"/>
<circle cx="51.4" cy="313.9" r="1.9" fill="#0b1cc0" stroke="#2846d8"/>
<circle cx="114.5" cy="332.2" r="1.9" fill="#0b1cc0" stroke="#2846d8"/>
<circle cx="153.7" cy="333.7" r="1.9" fill="#0d22c6" stroke="#2846d8"/>
<circle cx="135.7" cy="337.2" r="1.9" fill="#1a44d4" stroke="#6a9ff2"/>
<circle cx="143.5" cy="348.8" r="1.9" fill="#1a44d4" stroke="#6a9ff2"/>
<circle cx="103.7" cy="344.8" r="1.9" fill="#0e26c8" stroke="#2846d8"/>
<circle cx="148.0" cy="346.1" r="1.9" fill="#4f8ff0" stroke="#6a9ff2"/>
<circle cx="154.4" cy="343.4" r="1.9" fill="#5a9af2" stroke="#6a9ff2"/>
<circle cx="181.0" cy="328.0" r="1.9" fill="#0e26c8" stroke="#2846d8"/>
<circle cx="95.7" cy="344.6" r="1.9" fill="#0a1ab0" stroke="#2846d8"/>
<circle cx="188.5" cy="351.1" r="1.9" fill="#1232c8" stroke="#6a9ff2"/>
<circle cx="167.3" cy="337.2" r="1.9" fill="#0a18b8" stroke="#2846d8"/>
<circle cx="184.9" cy="318.4" r="1.9" fill="#0a1ab0" stroke="#2846d8"/>
<circle cx="107.7" cy="342.2" r="1.9" fill="#0e26c8" stroke="#2846d8"/>
<circle cx="112.8" cy="331.8" r="1.9" fill="#0a1ab0" stroke="#2846d8"/>
<circle cx="52.9" cy="314.2" r="1.9" fill="#0d22c6" stroke="#2846d8"/>
<circle cx="127.5" cy="352.4" r="1.9" fill="#2a6be4" stroke="#6a9ff2"/>
<circle cx="89.3" cy="320.1" r="1.9" fill="#0d22c6" stroke="#2846d8"/>
<circle cx="146.6" cy="334.1" r="1.9" fill="#0a1ab0" stroke="#2846d8"/>
<circle cx="165.1" cy="345.7" r="1.9" fill="#0d22c6" stroke="#2846d8"/>
<circle cx="50.3" cy="318.2" r="1.9" fill="#1a44d4" stroke="#6a9ff2"/>
<circle cx="262.9" cy="343.2" r="1.9" fill="#5a9af2" stroke="#6a9ff2"/>
<circle cx="231.2" cy="343.5" r="1.9" fill="#1232c8" stroke="#6a9ff2"/>
<circle cx="221.7" cy="342.6" r="1.9" fill="#1a44d4" stroke="#6a9ff2"/>
<circle cx="284.7" cy="324.6" r="1.9" fill="#4f8ff0" stroke="#6a9ff2"/>
<circle cx="298.0" cy="323.0" r="1.9" fill="#0a1ab0" stroke="#2846d8"/>
<circle cx="74.0" cy="322.0" r="1.9" fill="#0d22c6" stroke="#2846d8"/>
<circle cx="93.6" cy="335.3" r="1.9" fill="#1a44d4" stroke="#6a9ff2"/>
<circle cx="276.5" cy="327.1" r="1.9" fill="#2a6be4" stroke="#6a9ff2"/>
<circle cx="210.4" cy="345.4" r="1.9" fill="#1232c8" stroke="#6a9ff2"/>
<circle cx="265.1" cy="342.8" r="1.9" fill="#1232c8" stroke="#6a9ff2"/>
<circle cx="107.1" cy="333.2" r="1.9" fill="#0b1cc0" stroke="#2846d8"/>
<circle cx="162.3" cy="329.1" r="1.9" fill="#0b1cc0" stroke="#2846d8"/>
<circle cx="260.3" cy="333.6" r="1.9" fill="#0e26c8" stroke="#2846d8"/>
<circle cx="112.4" cy="332.5" r="1.9" fill="#0b1cc0" stroke="#2846d8"/>
<circle cx="182.0" cy="329.5" r="1.9" fill="#0d22c6" stroke="#2846d8"/>
<circle cx="274.5" cy="326.9" r="1.9" fill="#2a6be4" stroke="#6a9ff2"/>
<circle cx="125.3" cy="352.3" r="1.9" fill="#2a6be4" stroke="#6a9ff2"/>
<circle cx="87.9" cy="322.3" r="1.9" fill="#0b1cc0" stroke="#2846d8"/>
<circle cx="156.7" cy="336.8" r="1.9" fill="#0a18b8" stroke="#2846d8"/>
<circle cx="256.4" cy="341.3" r="1.9" fill="#1232c8" stroke="#6a9ff2"/>
<circle cx="254.6" cy="342.4" r="1.9" fill="#2456dc" stroke="#6a9ff2"/>
<circle cx="184.3" cy="317.7" r="1.9" fill="#3f7fe8" stroke="#6a9ff2"/>
<circle cx="75.5" cy="318.1" r="1.9" fill="#0b1cc0" stroke="#2846d8"/>
<circle cx="172.8" cy="343.8" r="1.9" fill="#1a44d4" stroke="#6a9ff2"/>
<circle cx="266.7" cy="332.2" r="1.9" fill="#0e26c8" stroke="#2846d8"/>
<circle cx="175.2" cy="348.8" r="1.9" fill="#1232c8" stroke="#6a9ff2"/>
<circle cx="181.0" cy="320.0" r="1.9" fill="#2456dc" stroke="#6a9ff2"/>
<circle cx="131.1" cy="351.9" r="1.9" fill="#0e26c8" stroke="#2846d8"/>
<circle cx="152.2" cy="337.2" r="1.9" fill="#0d22c6" stroke="#2846d8"/>
<circle cx="102.4" cy="337.9" r="1.9" fill="#0a18b8" stroke="#2846d8"/>
<circle cx="50.1" cy="323.2" r="1.9" fill="#1a44d4" stroke="#6a9ff2"/>
<circle cx="215.4" cy="342.0" r="1.9" fill="#3f7fe8" stroke="#6a9ff2"/>
<circle cx="247.0" cy="332.1" r="1.9" fill="#0b1cc0" stroke="#2846d8"/>
<circle cx="244.2" cy="342.0" r="1.9" fill="#1a44d4" stroke="#6a9ff2"/>
<circle cx="165.2" cy="333.7" r="1.9" fill="#1232c8" stroke="#6a9ff2"/>
<circle cx="267.3" cy="341.6" r="1.9" fill="#1a44d4" stroke="#6a9ff2"/>
<circle cx="80.7" cy="319.9" r="1.9" fill="#3f7fe8" stroke="#6a9ff2"/>
<circle cx="278.3" cy="326.7" r="1.9" fill="#4f8ff0" stroke="#6a9ff2"/>
<circle cx="130.1" cy="351.7" r="1.9" fill="#1a44d4" stroke="#6a9ff2"/>
<circle cx="168.9" cy="345.7" r="1.9" fill="#1a44d4" stroke="#6a9ff2"/>
<circle cx="248.3" cy="342.5" r="1.9" fill="#2456dc" stroke="#6a9ff2"/>
<circle cx="61.0" cy="317.7" r="1.9" fill="#0b1cc0" stroke="#2846d8"/>
<circle cx="68.0" cy="334.5" r="1.9" fill="#0a18b8" stroke="#2846d8"/>
<circle cx="107.4" cy="337.6" r="1.9" fill="#0a18b8" stroke="#2846d8"/>
<circle cx="267.9" cy="328.7" r="1.9" fill="#3f7fe8" stroke="#6a9ff2"/>
<circle cx="62.0" cy="318.5" r="1.9" fill="#0a18b8" stroke="#2846d8"/>
<circle cx="99.6" cy="331.9" r="1.9" fill="#0a18b8" stroke="#2846d8"/>
<circle cx="128.4" cy="340.3" r="1.9" fill="#1a44d4" stroke="#6a9ff2"/>
<circle cx="328.4" cy="323.7" r="1.9" fill="#4f8ff0" stroke="#6a9ff2"/>
<circle cx="160.6" cy="335.5" r="1.9" fill="#2456dc" stroke="#6a9ff2"/>
<circle cx="191.1" cy="346.3" r="1.9" fill="#0d22c6" stroke="#2846d8"/>
<circle cx="93.7" cy="346.3" r="1.9" fill="#0a18b8" stroke="#2846d8"/>
<circle cx="299.9" cy="323.9" r="1.9" fill="#2a6be4" stroke="#6a9ff2"/>
<circle cx="121.3" cy="355.0" r="1.9" fill="#2a6be4" stroke="#6a9ff2"/>
<circle cx="133.7" cy="353.4" r="1.9" fill="#0d22c6" stroke="#2846d8"/>
<circle cx="134.3" cy="350.4" r="1.9" fill="#2456dc" stroke="#6a9ff2"/>
<circle cx="195.6" cy="332.0" r="1.9" fill="#0a1ab0" stroke="#2846d8"/>
<circle cx="283.7" cy="324.9" r="1.9" fill="#2a6be4" stroke="#6a9ff2"/>
<circle cx="282.5" cy="326.7" r="1.9" fill="#2a6be4" stroke="#6a9ff2"/>
<circle cx="116.4" cy="354.5" r="1.9" fill="#1a44d4" stroke="#6a9ff2"/>
<circle cx="176.3" cy="347.3" r="1.9" fill="#0a18b8" stroke="#2846d8"/>
<circle cx="147.1" cy="348.6" r="1.9" fill="#2456dc" stroke="#6a9ff2"/>
<circle cx="303.0" cy="325.5" r="1.9" fill="#0b1cc0" stroke="#2846d8"/>
<circle cx="48.9" cy="324.1" r="1.9" fill="#0d22c6" stroke="#2846d8"/>
<circle cx="175.3" cy="329.3" r="1.9" fill="#0a18b8" stroke="#2846d8"/>
<circle cx="178.3" cy="322.0" r="1.9" fill="#1a44d4" stroke="#6a9ff2"/>
<circle cx="89.8" cy="334.3" r="1.9" fill="#1232c8" stroke="#6a9ff2"/>
<circle cx="67.5" cy="318.0" r="1.9" fill="#0a18b8" stroke="#2846d8"/>
<circle cx="226.2" cy="342.1" r="1.9" fill="#0d22c6" stroke="#2846d8"/>
<circle cx="190.2" cy="322.3" r="1.9" fill="#0b1cc0" stroke="#2846d8"/>
<circle cx="223.0" cy="340.6" r="1.9" fill="#0d22c6" stroke="#2846d8"/>
<circle cx="293.8" cy="324.1" r="1.9" fill="#2a6be4" stroke="#6a9ff2"/>
<circle cx="330.4" cy="324.1" r="1.9" fill="#5a9af2" stroke="#6a9ff2"/>
<circle cx="168.3" cy="330.5" r="1.9" fill="#1a44d4" stroke="#6a9ff2"/>
<circle cx="78.7" cy="319.8" r="1.9" fill="#0b1cc0" stroke="#2846d8"/>
<circle cx="175.1" cy="324.6" r="1.9" fill="#0e26c8" stroke="#2846d8"/>
<circle cx="216.2" cy="341.8" r="1.9" fill="#0e26c8" stroke="#2846d8"/>
<circle cx="168.5" cy="338.9" r="1.9" fill="#0a18b8" stroke="#2846d8"/>
<circle cx="192.5" cy="331.2" r="1.9" fill="#0b1cc0" stroke="#2846d8"/>
<circle cx="181.4" cy="321.3" r="1.9" fill="#1232c8" stroke="#6a9ff2"/>
<circle cx="247.3" cy="331.5" r="1.9" fill="#0a1ab0" stroke="#2846d8"/>
<circle cx="103.8" cy="347.3" r="1.9" fill="#0a1ab0" stroke="#2846d8"/>
<circle cx="46.0" cy="310.7" r="1.9" fill="#0d22c6" stroke="#2846d8"/>
<circle cx="272.7" cy="328.5" r="1.9" fill="#0a18b8" stroke="#2846d8"/>
<circle cx="284.3" cy="325.1" r="1.9" fill="#4f8ff0" stroke="#6a9ff2"/>
<circle cx="168.6" cy="332.0" r="1.9" fill="#2a6be4" stroke="#6a9ff2"/>
<circle cx="53.1" cy="325.2" r="1.9" fill="#0a18b8" stroke="#2846d8"/>
<circle cx="85.1" cy="321.1" r="1.9" fill="#5a9af2" stroke="#6a9ff2"/>
<circle cx="169.2" cy="329.2" r="1.9" fill="#0a18b8" stroke="#2846d8"/>
<circle cx="184.7" cy="315.8" r="1.9" fill="#3f7fe8" stroke="#6a9ff2"/>
<circle cx="56.3" cy="316.0" r="1.9" fill="#4f8ff0" stroke="#6a9ff2"/>
<circle cx="137.5" cy="349.6" r="1.9" fill="#4f8ff0" stroke="#6a9ff2"/>
<circle cx="89.6" cy="321.5" r="1.9" fill="#0a1ab0" stroke="#2846d8"/>
<circle cx="159.6" cy="346.3" r="1.9" fill="#0a1ab0" stroke="#2846d8"/>
<circle cx="141.5" cy="346.8" r="1.9" fill="#0b1cc0" stroke="#2846d8"/>
<circle cx="179.8" cy="318.7" r="1.9" fill="#3f7fe8" stroke="#6a9ff2"/>
<circle cx="172.9" cy="328.8" r="1.9" fill="#0a1ab0" stroke="#2846d8"/>
<circle cx="99.0" cy="321.9" r="1.9" fill="#0e26c8" stroke="#2846d8"/>
<circle cx="127.6" cy="331.7" r="1.9" fill="#0a1ab0" stroke="#2846d8"/>
<circle cx="158.6" cy="333.9" r="1.9" fill="#0b1cc0" stroke="#2846d8"/>
<circle cx="291.5" cy="323.8" r="1.9" fill="#3f7fe8" stroke="#6a9ff2"/>
<circle cx="160.0" cy="343.6" r="1.9" fill="#0b1cc0" stroke="#2846d8"/>
<circle cx="117.7" cy="352.3" r="1.9" fill="#0e26c8" stroke="#2846d8"/>
<circle cx="90.0" cy="345.3" r="1.9" fill="#0b1cc0" stroke="#2846d8"/>
<circle cx="189.2" cy="332.0" r="1.9" fill="#0a18b8" stroke="#2846d8"/>
<circle cx="167.5" cy="332.2" r="1.9" fill="#1232c8" stroke="#6a9ff2"/>
<circle cx="144.9" cy="344.1" r="1.9" fill="#2456dc" stroke="#6a9ff2"/>
<circle cx="254.6" cy="341.3" r="1.9" fill="#1a44d4" stroke="#6a9ff2"/>
<circle cx="82.6" cy="319.4" r="1.9" fill="#2a6be4" stroke="#6a9ff2"/>
<circle cx="165.4" cy="335.8" r="1.9" fill="#0e26c8" stroke="#2846d8"/>
<circle cx="295.6" cy="323.7" r="1.9" fill="#5a9af2" stroke="#6a9ff2"/>
<circle cx="318.6" cy="323.0" r="1.9" fill="#2a6be4" stroke="#6a9ff2"/>
<circle cx="103.6" cy="339.3" r="1.9" fill="#0a18b8" stroke="#2846d8"/>
<circle cx="144.1" cy="337.8" r="1.9" fill="#1a44d4" stroke="#6a9ff2"/>
<circle cx="151.2" cy="344.0" r="1.9" fill="#4f8ff0" stroke="#6a9ff2"/>
<circle cx="273.7" cy="328.6" r="1.9" fill="#3f7fe8" stroke="#6a9ff2"/>
<circle cx="233.5" cy="339.9" r="1.9" fill="#1a44d4" stroke="#6a9ff2"/>
<circle cx="293.3" cy="324.5" r="1.9" fill="#2a6be4" stroke="#6a9ff2"/>
<circle cx="168.2" cy="333.4" r="1.9" fill="#1a44d4" stroke="#6a9ff2"/>
<circle cx="310.1" cy="322.9" r="1.9" fill="#5a9af2" stroke="#6a9ff2"/>
<circle cx="128.8" cy="351.9" r="1.9" fill="#1232c8" stroke="#6a9ff2"/>
<circle cx="142.1" cy="336.0" r="1.9" fill="#0b1cc0" stroke="#2846d8"/>
<circle cx="168.8" cy="331.1" r="1.9" fill="#0b1cc0" stroke="#2846d8"/>
<circle cx="152.0" cy="347.8" r="1.9" fill="#4f8ff0" stroke="#6a9ff2"/>
<circle cx="224.1" cy="339.7" r="1.9" fill="#2456dc" stroke="#6a9ff2"/>
<circle cx="185.2" cy="322.5" r="1.9" fill="#0d22c6" stroke="#2846d8"/>
<circle cx="64.0" cy="317.9" r="1.9" fill="#4f8ff0" stroke="#6a9ff2"/>
<circle cx="210.9" cy="333.9" r="1.9" fill="#0b1cc0" stroke="#2846d8"/>
<circle cx="100.6" cy="355.6" r="1.9" fill="#0a18b8" stroke="#2846d8"/>
<circle cx="143.4" cy="347.4" r="1.9" fill="#1a44d4" stroke="#6a9ff2"/>
<circle cx="286.3" cy="324.2" r="1.9" fill="#5a9af2" stroke="#6a9ff2"/>
<circle cx="188.9" cy="348.2" r="1.9" fill="#2a6be4" stroke="#6a9ff2"/>
<circle cx="110.2" cy="335.3" r="1.9" fill="#1232c8" stroke="#6a9ff2"/>
<circle cx="246.2" cy="346.1" r="1.9" fill="#0d22c6" stroke="#2846d8"/>
<circle cx="111.7" cy="357.4" r="1.9" fill="#2456dc" stroke="#6a9ff2"/>
<circle cx="215.1" cy="342.4" r="1.9" fill="#2a6be4" stroke="#6a9ff2"/>
<circle cx="189.5" cy="328.9" r="1.9" fill="#0e26c8" stroke="#2846d8"/>
<circle cx="315.5" cy="327.2" r="1.9" fill="#1232c8" stroke="#6a9ff2"/>
<circle cx="178.5" cy="319.6" r="1.9" fill="#2a6be4" stroke="#6a9ff2"/>
<circle cx="103.1" cy="356.6" r="1.9" fill="#1a44d4" stroke="#6a9ff2"/>
<circle cx="230.4" cy="340.5" r="1.9" fill="#2a6be4" stroke="#6a9ff2"/>
<circle cx="190.1" cy="320.9" r="1.9" fill="#0a18b8" stroke="#2846d8"/>
<circle cx="232.6" cy="341.7" r="1.9" fill="#0d22c6" stroke="#2846d8"/>
<circle cx="107.7" cy="355.7" r="1.9" fill="#1a44d4" stroke="#6a9ff2"/>
<circle cx="172.0" cy="344.1" r="1.9" fill="#0d22c6" stroke="#2846d8"/>
<circle cx="312.1" cy="323.9" r="1.9" fill="#4f8ff0" stroke="#6a9ff2"/>
<circle cx="171.8" cy="339.1" r="1.9" fill="#1a44d4" stroke="#6a9ff2"/>
<circle cx="105.9" cy="357.9" r="1.9" fill="#1a44d4" stroke="#6a9ff2"/>
<circle cx="107.5" cy="345.1" r="1.9" fill="#0b1cc0" stroke="#2846d8"/>
<circle cx="102.6" cy="348.1" r="1.9" fill="#0a1ab0" stroke="#2846d8"/>
<circle cx="241.8" cy="343.1" r="1.9" fill="#3f7fe8" stroke="#6a9ff2"/>
<circle cx="180.8" cy="318.9" r="1.9" fill="#4f8ff0" stroke="#6a9ff2"/>
<circle cx="89.3" cy="344.9" r="1.9" fill="#0d22c6" stroke="#2846d8"/>
<circle cx="47.4" cy="311.9" r="1.9" fill="#0a18b8" stroke="#2846d8"/>
<circle cx="57.7" cy="327.4" r="1.9" fill="#1232c8" stroke="#6a9ff2"/>
<circle cx="306.8" cy="323.2" r="1.9" fill="#2a6be4" stroke="#6a9ff2"/>
<circle cx="57.3" cy="326.0" r="1.9" fill="#0a1ab0" stroke="#2846d8"/>
<circle cx="132.8" cy="344.6" r="1.9" fill="#0e26c8" stroke="#2846d8"/>
<circle cx="219.4" cy="340.4" r="1.9" fill="#2456dc" stroke="#6a9ff2"/>
<circle cx="133.5" cy="348.8" r="1.9" fill="#1a44d4" stroke="#6a9ff2"/>
<circle cx="216.7" cy="335.7" r="1.9" fill="#0a18b8" stroke="#2846d8"/>
<circle cx="110.2" cy="341.8" r="1.9" fill="#0a18b8" stroke="#2846d8"/>
<circle cx="159.8" cy="340.5" r="1.9" fill="#0e26c8" stroke="#2846d8"/>
<circle cx="181.6" cy="331.7" r="1.9" fill="#0a1ab0" stroke="#2846d8"/>
<circle cx="104.2" cy="338.6" r="1.9" fill="#0a1ab0" stroke="#2846d8"/>
<circle cx="132.4" cy="349.5" r="1.9" fill="#2456dc" stroke="#6a9ff2"/>
<circle cx="197.9" cy="345.2" r="1.9" fill="#1a44d4" stroke="#6a9ff2"/>
<circle cx="227.9" cy="331.4" r="1.9" fill="#0d22c6" stroke="#2846d8"/>
<circle cx="99.7" cy="343.3" r="1.9" fill="#0e26c8" stroke="#2846d8"/>
<circle cx="122.1" cy="352.0" r="1.9" fill="#0b1cc0" stroke="#2846d8"/>
<circle cx="269.7" cy="330.5" r="1.9" fill="#0a1ab0" stroke="#2846d8"/>
<circle cx="129.4" cy="340.8" r="1.9" fill="#2456dc" stroke="#6a9ff2"/>
<circle cx="106.1" cy="332.8" r="1.9" fill="#0a1ab0" stroke="#2846d8"/>
<circle cx="160.5" cy="337.4" r="1.9" fill="#0a1ab0" stroke="#2846d8"/>
<circle cx="127.6" cy="344.7" r="1.9" fill="#0d22c6" stroke="#2846d8"/>
<circle cx="171.0" cy="329.6" r="1.9" fill="#0e26c8" stroke="#2846d8"/>
<circle cx="226.3" cy="340.5" r="1.9" fill="#2456dc" stroke="#6a9ff2"/>
<circle cx="124.5" cy="349.5" r="1.9" fill="#1232c8" stroke="#6a9ff2"/>
<circle cx="76.0" cy="324.5" r="1.9" fill="#0d22c6" stroke="#2846d8"/>
<circle cx="59.4" cy="327.8" r="1.9" fill="#1232c8" stroke="#6a9ff2"/>
<circle cx="100.4" cy="344.2" r="1.9" fill="#0a18b8" stroke="#2846d8"/>
<circle cx="142.1" cy="344.6" r="1.9" fill="#1a44d4" stroke="#6a9ff2"/>
<circle cx="278.8" cy="326.4" r="1.9" fill="#0a1ab0" stroke="#2846d8"/>
<circle cx="218.2" cy="342.3" r="1.9" fill="#0a18b8" stroke="#2846d8"/>
<circle cx="328.2" cy="323.9" r="1.9" fill="#2a6be4" stroke="#6a9ff2"/>
<circle cx="251.1" cy="341.6" r="1.9" fill="#4f8ff0" stroke="#6a9ff2"/>
<circle cx="206.6" cy="345.3" r="1.9" fill="#3f7fe8" stroke="#6a9ff2"/>
<circle cx="58.4" cy="316.6" r="1.9" fill="#4f8ff0" stroke="#6a9ff2"/>
<circle cx="144.4" cy="350.2" r="1.9" fill="#3f7fe8" stroke="#6a9ff2"/>
<circle cx="261.2" cy="344.4" r="1.9" fill="#2456dc" stroke="#6a9ff2"/>
<circle cx="185.0" cy="318.0" r="1.9" fill="#0e26c8" stroke="#2846d8"/>
<circle cx="94.4" cy="336.5" r="1.9" fill="#0a18b8" stroke="#2846d8"/>
<circle cx="198.2" cy="331.9" r="1.9" fill="#0d22c6" stroke="#2846d8"/>
<circle cx="150.2" cy="335.5" r="1.9" fill="#1232c8" stroke="#6a9ff2"/>
<circle cx="202.0" cy="342.7" r="1.9" fill="#3f7fe8" stroke="#6a9ff2"/>
<circle cx="316.2" cy="322.8" r="1.9" fill="#2a6be4" stroke="#6a9ff2"/>
<circle cx="180.4" cy="326.2" r="1.9" fill="#0a1ab0" stroke="#2846d8"/>
<circle cx="64.8" cy="323.4" r="1.9" fill="#0e26c8" stroke="#2846d8"/>
<circle cx="268.6" cy="344.3" r="1.9" fill="#1a44d4" stroke="#6a9ff2"/>
<circle cx="155.4" cy="340.8" r="1.9" fill="#4f8ff0" stroke="#6a9ff2"/>
<circle cx="213.0" cy="333.4" r="1.9" fill="#0a1ab0" stroke="#2846d8"/>
<circle cx="113.1" cy="336.4" r="1.9" fill="#0a18b8" stroke="#2846d8"/>
<circle cx="317.0" cy="322.6" r="1.9" fill="#3f7fe8" stroke="#6a9ff2"/>
<circle cx="95.4" cy="321.7" r="1.9" fill="#0a18b8" stroke="#2846d8"/>
<circle cx="172.3" cy="341.3" r="1.9" fill="#0d22c6" stroke="#2846d8"/>
<circle cx="83.3" cy="335.5" r="1.9" fill="#0b1cc0" stroke="#2846d8"/>
<circle cx="148.0" cy="343.3" r="1.9" fill="#1232c8" stroke="#6a9ff2"/>
<circle cx="177.9" cy="322.1" r="1.9" fill="#3f7fe8" stroke="#6a9ff2"/>
<circle cx="145.0" cy="345.9" r="1.9" fill="#1232c8" stroke="#6a9ff2"/>
<circle cx="93.6" cy="325.2" r="1.9" fill="#0a18b8" stroke="#2846d8"/>
<circle cx="89.7" cy="334.3" r="1.9" fill="#0d22c6" stroke="#2846d8"/>
<circle cx="146.1" cy="336.9" r="1.9" fill="#0b1cc0" stroke="#2846d8"/>
<circle cx="157.6" cy="340.4" r="1.9" fill="#1232c8" stroke="#6a9ff2"/>
<circle cx="147.8" cy="342.5" r="1.9" fill="#0e26c8" stroke="#2846d8"/>
<circle cx="81.2" cy="328.6" r="1.9" fill="#0a1ab0" stroke="#2846d8"/>
<circle cx="198.5" cy="342.6" r="1.9" fill="#4f8ff0" stroke="#6a9ff2"/>
<circle cx="329.6" cy="323.7" r="1.9" fill="#4f8ff0" stroke="#6a9ff2"/>
<circle cx="91.5" cy="343.7" r="1.9" fill="#1a44d4" stroke="#6a9ff2"/>
<circle cx="111.6" cy="339.0" r="1.9" fill="#0a1ab0" stroke="#2846d8"/>
<circle cx="93.3" cy="325.0" r="1.9" fill="#0a1ab0" stroke="#2846d8"/>
<circle cx="128.3" cy="352.6" r="1.9" fill="#2a6be4" stroke="#6a9ff2"/>
<circle cx="159.0" cy="341.0" r="1.9" fill="#0d22c6" stroke="#2846d8"/>
<circle cx="245.9" cy="343.6" r="1.9" fill="#1a44d4" stroke="#6a9ff2"/>
<circle cx="225.1" cy="340.0" r="1.9" fill="#0b1cc0" stroke="#2846d8"/>
<circle cx="135.6" cy="344.7" r="1.9" fill="#0a1ab0" stroke="#2846d8"/>
<circle cx="134.3" cy="341.2" r="1.9" fill="#0e26c8" stroke="#2846d8"/>
<circle cx="212.8" cy="342.7" r="1.9" fill="#1a44d4" stroke="#6a9ff2"/>
<circle cx="251.7" cy="343.8" r="1.9" fill="#0a18b8" stroke="#2846d8"/>
<circle cx="166.2" cy="330.6" r="1.9" fill="#0d22c6" stroke="#2846d8"/>
<circle cx="139.9" cy="344.6" r="1.9" fill="#0a1ab0" stroke="#2846d8"/>
<circle cx="259.2" cy="343.2" r="1.9" fill="#5a9af2" stroke="#6a9ff2"/>
<circle cx="160.1" cy="346.2" r="1.9" fill="#1a44d4" stroke="#6a9ff2"/>
<circle cx="139.3" cy="334.3" r="1.9" fill="#0b1cc0" stroke="#2846d8"/>
<circle cx="190.1" cy="325.1" r="1.9" fill="#0e26c8" stroke="#2846d8"/>
<circle cx="197.9" cy="345.2" r="1.9" fill="#2a6be4" stroke="#6a9ff2"/>
<circle cx="231.8" cy="341.5" r="1.9" fill="#5a9af2" stroke="#6a9ff2"/>
<circle cx="54.4" cy="322.6" r="1.9" fill="#0a1ab0" stroke="#2846d8"/>
<circle cx="188.8" cy="319.9" r="1.9" fill="#0b1cc0" stroke="#2846d8"/>
<circle cx="182.7" cy="319.2" r="1.9" fill="#0b1cc0" stroke="#2846d8"/>
<circle cx="86.2" cy="339.3" r="1.9" fill="#0b1cc0" stroke="#2846d8"/>
<circle cx="95.1" cy="343.6" r="1.9" fill="#2456dc" stroke="#6a9ff2"/>
<circle cx="203.4" cy="333.1" r="1.9" fill="#0a18b8" stroke="#2846d8"/>
<circle cx="99.9" cy="321.8" r="1.9" fill="#0e26c8" stroke="#2846d8"/>
<circle cx="174.3" cy="324.1" r="1.9" fill="#2456dc" stroke="#6a9ff2"/>
<circle cx="241.9" cy="339.2" r="1.9" fill="#1a44d4" stroke="#6a9ff2"/>
<circle cx="98.9" cy="354.3" r="1.9" fill="#0a18b8" stroke="#2846d8"/>
<circle cx="171.2" cy="339.0" r="1.9" fill="#0d22c6" stroke="#2846d8"/>
<circle cx="100.9" cy="343.2" r="1.9" fill="#0e26c8" stroke="#2846d8"/>
<circle cx="133.1" cy="340.2" r="1.9" fill="#0a1ab0" stroke="#2846d8"/>
<circle cx="243.0" cy="345.0" r="1.9" fill="#1232c8" stroke="#6a9ff2"/>
<circle cx="124.3" cy="337.5" r="1.9" fill="#0b1cc0" stroke="#2846d8"/>
<circle cx="55.1" cy="319.8" r="1.9" fill="#1232c8" stroke="#6a9ff2"/>
<circle cx="211.1" cy="339.8" r="1.9" fill="#2a6be4" stroke="#6a9ff2"/>
<circle cx="243.6" cy="333.7" r="1.9" fill="#0d22c6" stroke="#2846d8"/>
<circle cx="104.5" cy="357.0" r="1.9" fill="#4f8ff0" stroke="#6a9ff2"/>
<circle cx="73.3" cy="319.0" r="1.9" fill="#0d22c6" stroke="#2846d8"/>
<circle cx="232.8" cy="330.1" r="1.9" fill="#0b1cc0" stroke="#2846d8"/>
<circle cx="89.7" cy="328.3" r="1.9" fill="#0a1ab0" stroke="#2846d8"/>
<circle cx="210.0" cy="343.7" r="1.9" fill="#1a44d4" stroke="#6a9ff2"/>
<circle cx="176.5" cy="341.6" r="1.9" fill="#0a18b8" stroke="#2846d8"/>
<circle cx="292.4" cy="324.3" r="1.9" fill="#4f8ff0" stroke="#6a9ff2"/>
<circle cx="93.4" cy="326.0" r="1.9" fill="#0e26c8" stroke="#2846d8"/>
<circle cx="239.6" cy="340.5" r="1.9" fill="#2456dc" stroke="#6a9ff2"/>
<circle cx="98.7" cy="321.8" r="1.9" fill="#0a18b8" stroke="#2846d8"/>
<circle cx="182.1" cy="315.7" r="1.9" fill="#2a6be4" stroke="#6a9ff2"/>
<circle cx="281.9" cy="325.0" r="1.9" fill="#3f7fe8" stroke="#6a9ff2"/>
<circle cx="245.0" cy="343.6" r="1.9" fill="#1a44d4" stroke="#6a9ff2"/>
<circle cx="103.6" cy="348.0" r="1.9" fill="#0d22c6" stroke="#2846d8"/>
<circle cx="79.4" cy="321.9" r="1.9" fill="#1a44d4" stroke="#6a9ff2"/>
<circle cx="203.7" cy="343.7" r="1.9" fill="#2456dc" stroke="#6a9ff2"/>
<circle cx="52.7" cy="314.4" r="1.9" fill="#0d22c6" stroke="#2846d8"/>
<circle cx="139.4" cy="344.2" r="1.9" fill="#2456dc" stroke="#6a9ff2"/>
<circle cx="165.1" cy="334.8" r="1.9" fill="#2456dc" stroke="#6a9ff2"/>
<circle cx="89.0" cy="342.9" r="1.9" fill="#0d22c6" stroke="#2846d8"/>
<circle cx="83.4" cy="319.7" r="1.9" fill="#2a6be4" stroke="#6a9ff2"/>
<circle cx="146.4" cy="347.7" r="1.9" fill="#5a9af2" stroke="#6a9ff2"/>
<circle cx="196.0" cy="345.8" r="1.9" fill="#0a1ab0" stroke="#2846d8"/>
<circle cx="92.6" cy="337.9" r="1.9" fill="#0d22c6" stroke="#2846d8"/>
<circle cx="185.5" cy="315.1" r="1.9" fill="#3f7fe8" stroke="#6a9ff2"/>
<circle cx="79.7" cy="321.9" r="1.9" fill="#0b1cc0" stroke="#2846d8"/>
<circle cx="141.6" cy="348.1" r="1.9" fill="#1a44d4" stroke="#6a9ff2"/>
<circle cx="161.9" cy="348.0" r="1.9" fill="#0a1ab0" stroke="#2846d8"/>
<circle cx="266.9" cy="332.1" r="1.9" fill="#4f8ff0" stroke="#6a9ff2"/>
<circle cx="151.8" cy="337.1" r="1.9" fill="#1232c8" stroke="#6a9ff2"/>
<circle cx="50.7" cy="323.2" r="1.9" fill="#1a44d4" stroke="#6a9ff2"/>
<circle cx="64.6" cy="318.9" r="1.9" fill="#4f8ff0" stroke="#6a9ff2"/>
<circle cx="174.8" cy="340.3" r="1.9" fill="#1a44d4" stroke="#6a9ff2"/>
<circle cx="172.4" cy="326.4" r="1.9" fill="#2456dc" stroke="#6a9ff2"/>
<circle cx="176.4" cy="324.5" r="1.9" fill="#2a6be4" stroke="#6a9ff2"/>
<circle cx="52.9" cy="324.9" r="1.9" fill="#0e26c8" stroke="#2846d8"/>
<circle cx="189.5" cy="329.3" r="1.9" fill="#0d22c6" stroke="#2846d8"/>
<circle cx="206.2" cy="344.2" r="1.9" fill="#2456dc" stroke="#6a9ff2"/>
<circle cx="249.7" cy="342.6" r="1.9" fill="#2456dc" stroke="#6a9ff2"/>
<circle cx="229.6" cy="341.1" r="1.9" fill="#2a6be4" stroke="#6a9ff2"/>
<circle cx="125.3" cy="347.3" r="1.9" fill="#0b1cc0" stroke="#2846d8"/>
<circle cx="88.5" cy="345.6" r="1.9" fill="#0b1cc0" stroke="#2846d8"/>
<circle cx="127.1" cy="328.7" r="1.9" fill="#0e26c8" stroke="#2846d8"/>
<circle cx="136.0" cy="351.4" r="1.9" fill="#1232c8" stroke="#6a9ff2"/>
<circle cx="126.0" cy="337.0" r="1.9" fill="#0d22c6" stroke="#2846d8"/>
<circle cx="318.3" cy="322.5" r="1.9" fill="#3f7fe8" stroke="#6a9ff2"/>
<circle cx="187.9" cy="354.6" r="1.9" fill="#2456dc" stroke="#6a9ff2"/>
<circle cx="63.3" cy="320.0" r="1.9" fill="#1a44d4" stroke="#6a9ff2"/>
<circle cx="98.8" cy="353.2" r="1.9" fill="#2a6be4" stroke="#6a9ff2"/>
<circle cx="133.5" cy="335.6" r="1.9" fill="#1a44d4" stroke="#6a9ff2"/>
<circle cx="261.8" cy="343.3" r="1.9" fill="#0e26c8" stroke="#2846d8"/>
<circle cx="101.1" cy="340.2" r="1.9" fill="#0a18b8" stroke="#2846d8"/>
<circle cx="187.5" cy="316.1" r="1.9" fill="#0e26c8" stroke="#2846d8"/>
<circle cx="251.5" cy="329.5" r="1.9" fill="#0a1ab0" stroke="#2846d8"/>
<circle cx="94.4" cy="340.6" r="1.9" fill="#0d22c6" stroke="#2846d8"/>
<circle cx="113.9" cy="336.0" r="1.9" fill="#0a1ab0" stroke="#2846d8"/>
<circle cx="124.6" cy="338.7" r="1.9" fill="#2456dc" stroke="#6a9ff2"/>
<circle cx="273.1" cy="328.9" r="1.9" fill="#4f8ff0" stroke="#6a9ff2"/>
<circle cx="142.7" cy="349.1" r="1.9" fill="#1232c8" stroke="#6a9ff2"/>
<circle cx="138.5" cy="332.3" r="1.9" fill="#0d22c6" stroke="#2846d8"/>
<circle cx="181.2" cy="336.3" r="1.9" fill="#0d22c6" stroke="#2846d8"/>
<circle cx="106.4" cy="355.1" r="1.9" fill="#0b1cc0" stroke="#2846d8"/>
<circle cx="44.6" cy="310.0" r="1.9" fill="#0a18b8" stroke="#2846d8"/>
<circle cx="54.4" cy="316.1" r="1.9" fill="#3f7fe8" stroke="#6a9ff2"/>
<circle cx="193.4" cy="332.3" r="1.9" fill="#0a18b8" stroke="#2846d8"/>
<circle cx="157.4" cy="335.3" r="1.9" fill="#0d22c6" stroke="#2846d8"/>
<circle cx="265.2" cy="341.6" r="1.9" fill="#1a44d4" stroke="#6a9ff2"/>
<circle cx="111.4" cy="337.9" r="1.9" fill="#0a18b8" stroke="#2846d8"/>
<circle cx="305.5" cy="323.4" r="1.9" fill="#4f8ff0" stroke="#6a9ff2"/>
<circle cx="180.7" cy="319.6" r="1.9" fill="#2a6be4" stroke="#6a9ff2"/>
<circle cx="180.2" cy="320.6" r="1.9" fill="#0a18b8" stroke="#2846d8"/>
<circle cx="176.2" cy="324.7" r="1.9" fill="#3f7fe8" stroke="#6a9ff2"/>
<circle cx="138.9" cy="347.8" r="1.9" fill="#0a1ab0" stroke="#2846d8"/>
<circle cx="217.6" cy="343.9" r="1.9" fill="#1232c8" stroke="#6a9ff2"/>
<circle cx="307.7" cy="323.5" r="1.9" fill="#3f7fe8" stroke="#6a9ff2"/>
<circle cx="95.0" cy="331.3" r="1.9" fill="#0b1cc0" stroke="#2846d8"/>
<circle cx="114.1" cy="341.1" r="1.9" fill="#0a1ab0" stroke="#2846d8"/>
<circle cx="92.0" cy="332.8" r="1.9" fill="#1232c8" stroke="#6a9ff2"/>
<circle cx="124.3" cy="346.9" r="1.9" fill="#2456dc" stroke="#6a9ff2"/>
<circle cx="93.6" cy="351.4" r="1.9" fill="#2456dc" stroke="#6a9ff2"/>
<circle cx="155.5" cy="335.4" r="1.9" fill="#2456dc" stroke="#6a9ff2"/>
<circle cx="212.9" cy="342.2" r="1.9" fill="#2456dc" stroke="#6a9ff2"/>
<circle cx="124.9" cy="328.2" r="1.9" fill="#0d22c6" stroke="#2846d8"/>
<circle cx="184.9" cy="315.8" r="1.9" fill="#0e26c8" stroke="#2846d8"/>
<circle cx="135.4" cy="352.4" r="1.9" fill="#0a1ab0" stroke="#2846d8"/>
<circle cx="91.5" cy="321.0" r="1.9" fill="#0d22c6" stroke="#2846d8"/>
<circle cx="321.8" cy="323.9" r="1.9" fill="#0d22c6" stroke="#2846d8"/>
<circle cx="237.5" cy="340.4" r="1.9" fill="#2a6be4" stroke="#6a9ff2"/>
<circle cx="106.3" cy="355.5" r="1.9" fill="#1232c8" stroke="#6a9ff2"/>
<circle cx="127.0" cy="352.8" r="1.9" fill="#0d22c6" stroke="#2846d8"/>
<circle cx="100.4" cy="338.3" r="1.9" fill="#1232c8" stroke="#6a9ff2"/>
<circle cx="217.7" cy="335.1" r="1.9" fill="#0a18b8" stroke="#2846d8"/>
<circle cx="192.7" cy="344.6" r="1.9" fill="#1232c8" stroke="#6a9ff2"/>
<circle cx="183.7" cy="327.0" r="1.9" fill="#0e26c8" stroke="#2846d8"/>
<circle cx="134.5" cy="351.1" r="1.9" fill="#3f7fe8" stroke="#6a9ff2"/>
<circle cx="162.1" cy="339.4" r="1.9" fill="#2456dc" stroke="#6a9ff2"/>
<circle cx="87.0" cy="341.4" r="1.9" fill="#0a1ab0" stroke="#2846d8"/>
<circle cx="70.0" cy="328.0" r="1.9" fill="#0a1ab0" stroke="#2846d8"/>
<circle cx="221.1" cy="342.7" r="1.9" fill="#1a44d4" stroke="#6a9ff2"/>
<circle cx="142.2" cy="335.7" r="1.9" fill="#0b1cc0" stroke="#2846d8"/>
<circle cx="81.1" cy="319.6" r="1.9" fill="#4f8ff0" stroke="#6a9ff2"/>
<circle cx="315.7" cy="322.1" r="1.9" fill="#4f8ff0" stroke="#6a9ff2"/>
<circle cx="258.1" cy="342.7" r="1.9" fill="#2a6be4" stroke="#6a9ff2"/>
<circle cx="177.6" cy="322.3" r="1.9" fill="#1232c8" stroke="#6a9ff2"/>
<circle cx="158.2" cy="347.8" r="1.9" fill="#0d22c6" stroke="#2846d8"/>
<circle cx="52.2" cy="319.7" r="1.9" fill="#1232c8" stroke="#6a9ff2"/>
<circle cx="99.2" cy="352.8" r="1.9" fill="#0a18b8" stroke="#2846d8"/>
<circle cx="239.3" cy="333.4" r="1.9" fill="#0e26c8" stroke="#2846d8"/>
<circle cx="132.1" cy="333.0" r="1.9" fill="#0a18b8" stroke="#2846d8"/>
<circle cx="129.1" cy="331.2" r="1.9" fill="#0a1ab0" stroke="#2846d8"/>
<circle cx="244.6" cy="342.0" r="1.9" fill="#1232c8" stroke="#6a9ff2"/>
<circle cx="252.5" cy="344.0" r="1.9" fill="#5a9af2" stroke="#6a9ff2"/>
<circle cx="303.7" cy="323.1" r="1.9" fill="#1a44d4" stroke="#6a9ff2"/>
<circle cx="146.8" cy="347.6" r="1.9" fill="#0b1cc0" stroke="#2846d8"/>
<circle cx="101.6" cy="355.2" r="1.9" fill="#2456dc" stroke="#6a9ff2"/>
<circle cx="159.5" cy="338.7" r="1.9" fill="#3f7fe8" stroke="#6a9ff2"/>
<circle cx="80.0" cy="320.1" r="1.9" fill="#0b1cc0" stroke="#2846d8"/>
<circle cx="62.9" cy="318.2" r="1.9" fill="#2a6be4" stroke="#6a9ff2"/>
<circle cx="303.5" cy="323.3" r="1.9" fill="#2a6be4" stroke="#6a9ff2"/>
<circle cx="170.1" cy="330.0" r="1.9" fill="#3f7fe8" stroke="#6a9ff2"/>
<circle cx="181.5" cy="320.7" r="1.9" fill="#1a44d4" stroke="#6a9ff2"/>
<circle cx="49.5" cy="312.8" r="1.9" fill="#0e26c8" stroke="#2846d8"/>
<circle cx="127.8" cy="330.8" r="1.9" fill="#0a18b8" stroke="#2846d8"/>
<circle cx="112.5" cy="354.5" r="1.9" fill="#1a44d4" stroke="#6a9ff2"/>
<circle cx="296.3" cy="324.4" r="1.9" fill="#2a6be4" stroke="#6a9ff2"/>
<circle cx="239.6" cy="342.5" r="1.9" fill="#0a1ab0" stroke="#2846d8"/>
<circle cx="86.9" cy="339.1" r="1.9" fill="#1a44d4" stroke="#6a9ff2"/>
<circle cx="263.7" cy="342.6" r="1.9" fill="#5a9af2" stroke="#6a9ff2"/>
<circle cx="189.0" cy="350.4" r="1.9" fill="#1232c8" stroke="#6a9ff2"/>
<circle cx="132.8" cy="339.7" r="1.9" fill="#0a18b8" stroke="#2846d8"/>
<circle cx="66.0" cy="330.0" r="1.9" fill="#0a1ab0" stroke="#2846d8"/>
<circle cx="129.5" cy="345.2" r="1.9" fill="#1a44d4" stroke="#6a9ff2"/>
<circle cx="122.0" cy="340.5" r="1.9" fill="#0d22c6" stroke="#2846d8"/>
<circle cx="87.5" cy="321.7" r="1.9" fill="#2456dc" stroke="#6a9ff2"/>
<circle cx="207.2" cy="343.5" r="1.9" fill="#2a6be4" stroke="#6a9ff2"/>
<circle cx="320.6" cy="321.8" r="1.9" fill="#1232c8" stroke="#6a9ff2"/>
<circle cx="169.4" cy="324.1" r="1.9" fill="#0b1cc0" stroke="#2846d8"/>
<circle cx="194.0" cy="344.5" r="1.9" fill="#5a9af2" stroke="#6a9ff2"/>
<circle cx="111.2" cy="342.6" r="1.9" fill="#1232c8" stroke="#6a9ff2"/>
<circle cx="243.7" cy="347.2" r="1.9" fill="#0e26c8" stroke="#2846d8"/>
<circle cx="225.2" cy="342.7" r="1.9" fill="#3f7fe8" stroke="#6a9ff2"/>
<circle cx="208.7" cy="344.3" r="1.9" fill="#4f8ff0" stroke="#6a9ff2"/>
<circle cx="280.2" cy="325.5" r="1.9" fill="#5a9af2" stroke="#6a9ff2"/>
<circle cx="263.9" cy="343.7" r="1.9" fill="#0e26c8" stroke="#2846d8"/>
<circle cx="82.4" cy="321.9" r="1.9" fill="#1a44d4" stroke="#6a9ff2"/>
<circle cx="270.8" cy="329.3" r="1.9" fill="#4f8ff0" stroke="#6a9ff2"/>
<circle cx="145.8" cy="348.2" r="1.9" fill="#3f7fe8" stroke="#6a9ff2"/>
<circle cx="290.4" cy="324.4" r="1.9" fill="#1232c8" stroke="#6a9ff2"/>
<circle cx="165.7" cy="337.2" r="1.9" fill="#0e26c8" stroke="#2846d8"/>
<circle cx="146.2" cy="339.2" r="1.9" fill="#1a44d4" stroke="#6a9ff2"/>
<circle cx="119.0" cy="336.9" r="1.9" fill="#0e26c8" stroke="#2846d8"/>
<circle cx="87.8" cy="331.2" r="1.9" fill="#2456dc" stroke="#6a9ff2"/>
<circle cx="58.2" cy="328.4" r="1.9" fill="#1a44d4" stroke="#6a9ff2"/>
<circle cx="122.5" cy="331.1" r="1.9" fill="#1a44d4" stroke="#6a9ff2"/>
<circle cx="325.6" cy="324.6" r="1.9" fill="#1a44d4" stroke="#6a9ff2"/>
<circle cx="189.0" cy="348.2" r="1.9" fill="#1232c8" stroke="#6a9ff2"/>
<circle cx="201.8" cy="333.1" r="1.9" fill="#0a18b8" stroke="#2846d8"/>
<circle cx="294.9" cy="324.3" r="1.9" fill="#0e26c8" stroke="#2846d8"/>
<circle cx="248.3" cy="343.4" r="1.9" fill="#1232c8" stroke="#6a9ff2"/>
<circle cx="104.1" cy="351.9" r="1.9" fill="#1232c8" stroke="#6a9ff2"/>
<circle cx="187.0" cy="315.7" r="1.9" fill="#0b1cc0" stroke="#2846d8"/>
<circle cx="331.2" cy="323.3" r="1.9" fill="#1232c8" stroke="#6a9ff2"/>
<circle cx="116.8" cy="352.1" r="1.9" fill="#0a1ab0" stroke="#2846d8"/>
<circle cx="124.9" cy="351.3" r="1.9" fill="#4f8ff0" stroke="#6a9ff2"/>
<circle cx="157.2" cy="343.9" r="1.9" fill="#0e26c8" stroke="#2846d8"/>
<circle cx="292.4" cy="323.2" r="1.9" fill="#4f8ff0" stroke="#6a9ff2"/>
<circle cx="205.6" cy="344.7" r="1.9" fill="#4f8ff0" stroke="#6a9ff2"/>
<circle cx="152.1" cy="344.8" r="1.9" fill="#1a44d4" stroke="#6a9ff2"/>
<circle cx="246.6" cy="343.2" r="1.9" fill="#1232c8" stroke="#6a9ff2"/>
<circle cx="46.5" cy="321.8" r="1.9" fill="#2456dc" stroke="#6a9ff2"/>
<circle cx="111.0" cy="354.7" r="1.9" fill="#0a18b8" stroke="#2846d8"/>
<circle cx="214.3" cy="341.8" r="1.9" fill="#0a1ab0" stroke="#2846d8"/>
<circle cx="122.0" cy="339.6" r="1.9" fill="#0b1cc0" stroke="#2846d8"/>
<circle cx="103.3" cy="333.7" r="1.9" fill="#0e26c8" stroke="#2846d8"/>
<circle cx="174.9" cy="325.6" r="1.9" fill="#2a6be4" stroke="#6a9ff2"/>
<circle cx="247.0" cy="343.3" r="1.9" fill="#1232c8" stroke="#6a9ff2"/>
<circle cx="200.3" cy="344.8" r="1.9" fill="#2456dc" stroke="#6a9ff2"/>
<circle cx="172.3" cy="330.3" r="1.9" fill="#4f8ff0" stroke="#6a9ff2"/>
<circle cx="175.3" cy="338.1" r="1.9" fill="#0a1ab0" stroke="#2846d8"/>
<circle cx="286.9" cy="324.6" r="1.9" fill="#4f8ff0" stroke="#6a9ff2"/>
<circle cx="163.1" cy="330.5" r="1.9" fill="#0e26c8" stroke="#2846d8"/>
<circle cx="229.5" cy="342.0" r="1.9" fill="#1232c8" stroke="#6a9ff2"/>
<circle cx="188.3" cy="352.6" r="1.9" fill="#2456dc" stroke="#6a9ff2"/>
<circle cx="71.0" cy="331.0" r="1.9" fill="#0a18b8" stroke="#2846d8"/>
<circle cx="162.8" cy="336.9" r="1.9" fill="#0a18b8" stroke="#2846d8"/>
<circle cx="127.9" cy="344.3" r="1.9" fill="#0a18b8" stroke="#2846d8"/>
<circle cx="45.1" cy="325.8" r="1.9" fill="#0d22c6" stroke="#2846d8"/>
<circle cx="319.7" cy="323.2" r="1.9" fill="#0b1cc0" stroke="#2846d8"/>
<circle cx="112.3" cy="337.5" r="1.9" fill="#0b1cc0" stroke="#2846d8"/>
</g>
<ellipse cx="46.2" cy="393.4" rx="2.9" ry="2.6" fill="#8fecec"/>
<g stroke-width="0.5" stroke="#7ce0da">
<circle cx="200.2" cy="404.6" r="1.85" fill="#139593"/>
<circle cx="112.7" cy="406.9" r="1.85" fill="#20aeaa"/>
<circle cx="77.8" cy="405.9" r="1.85" fill="#16a09d"/>
<circle cx="167.6" cy="399.3" r="1.85" fill="#10908f"/>
<circle cx="206.1" cy="397.3" r="1.85" fill="#1ba8a4"/>
<circle cx="95.5" cy="400.5" r="1.85" fill="#129896"/>
<circle cx="163.0" cy="407.3" r="1.85" fill="#10908f"/>
<circle cx="111.5" cy="397.6" r="1.85" fill="#139593"/>
<circle cx="170.9" cy="402.0" r="1.85" fill="#20aeaa"/>
<circle cx="173.6" cy="401.5" r="1.85" fill="#16a09d"/>
<circle cx="82.0" cy="402.7" r="1.85" fill="#10908f"/>
<circle cx="215.4" cy="396.6" r="1.85" fill="#1ba8a4"/>
<circle cx="194.4" cy="396.2" r="1.85" fill="#10908f"/>
<circle cx="189.2" cy="394.0" r="1.85" fill="#10908f"/>
<circle cx="155.9" cy="393.4" r="1.85" fill="#1ba8a4"/>
<circle cx="255.9" cy="396.8" r="1.85" fill="#1ba8a4"/>
<circle cx="179.2" cy="400.6" r="1.85" fill="#20aeaa"/>
<circle cx="182.5" cy="401.4" r="1.85" fill="#20aeaa"/>
<circle cx="223.3" cy="401.3" r="1.85" fill="#1ba8a4"/>
<circle cx="259.5" cy="394.8" r="1.85" fill="#139593"/>
<circle cx="225.3" cy="397.8" r="1.85" fill="#1ba8a4"/>
<circle cx="139.7" cy="397.8" r="1.85" fill="#20aeaa"/>
<circle cx="275.0" cy="391.7" r="1.85" fill="#129896"/>
<circle cx="232.2" cy="393.0" r="1.85" fill="#139593"/>
<circle cx="172.3" cy="400.3" r="1.85" fill="#20aeaa"/>
<circle cx="52.2" cy="404.3" r="1.85" fill="#139593"/>
<circle cx="79.7" cy="405.8" r="1.85" fill="#10908f"/>
<circle cx="225.8" cy="404.1" r="1.85" fill="#129896"/>
<circle cx="128.6" cy="407.8" r="1.85" fill="#10908f"/>
<circle cx="154.1" cy="395.5" r="1.85" fill="#20aeaa"/>
<circle cx="256.7" cy="393.0" r="1.85" fill="#10908f"/>
<circle cx="109.1" cy="393.3" r="1.85" fill="#129896"/>
<circle cx="77.1" cy="405.6" r="1.85" fill="#10908f"/>
<circle cx="57.9" cy="408.3" r="1.85" fill="#10908f"/>
<circle cx="167.0" cy="402.9" r="1.85" fill="#139593"/>
<circle cx="97.7" cy="396.4" r="1.85" fill="#129896"/>
<circle cx="70.5" cy="400.1" r="1.85" fill="#20aeaa"/>
<circle cx="140.0" cy="397.0" r="1.85" fill="#139593"/>
<circle cx="178.7" cy="395.5" r="1.85" fill="#139593"/>
<circle cx="103.0" cy="399.0" r="1.85" fill="#1ba8a4"/>
<circle cx="139.3" cy="401.4" r="1.85" fill="#1ba8a4"/>
<circle cx="184.3" cy="399.9" r="1.85" fill="#16a09d"/>
<circle cx="303.3" cy="398.7" r="1.85" fill="#16a09d"/>
<circle cx="233.4" cy="398.9" r="1.85" fill="#139593"/>
<circle cx="53.1" cy="405.1" r="1.85" fill="#10908f"/>
<circle cx="192.4" cy="390.2" r="1.85" fill="#139593"/>
<circle cx="91.2" cy="401.2" r="1.85" fill="#16a09d"/>
<circle cx="149.8" cy="396.2" r="1.85" fill="#139593"/>
<circle cx="155.1" cy="397.1" r="1.85" fill="#16a09d"/>
<circle cx="183.3" cy="404.5" r="1.85" fill="#10908f"/>
<circle cx="221.8" cy="400.5" r="1.85" fill="#16a09d"/>
<circle cx="139.6" cy="403.1" r="1.85" fill="#20aeaa"/>
<circle cx="275.0" cy="391.8" r="1.85" fill="#139593"/>
<circle cx="59.7" cy="400.4" r="1.85" fill="#16a09d"/>
<circle cx="164.7" cy="399.4" r="1.85" fill="#139593"/>
<circle cx="247.6" cy="398.7" r="1.85" fill="#20aeaa"/>
<circle cx="84.6" cy="408.5" r="1.85" fill="#1ba8a4"/>
<circle cx="219.4" cy="404.9" r="1.85" fill="#16a09d"/>
<circle cx="277.5" cy="390.8" r="1.85" fill="#1ba8a4"/>
<circle cx="151.6" cy="404.9" r="1.85" fill="#10908f"/>
<circle cx="131.9" cy="397.3" r="1.85" fill="#10908f"/>
<circle cx="269.6" cy="391.5" r="1.85" fill="#16a09d"/>
<circle cx="189.4" cy="398.4" r="1.85" fill="#10908f"/>
<circle cx="244.1" cy="393.1" r="1.85" fill="#20aeaa"/>
<circle cx="230.0" cy="400.7" r="1.85" fill="#129896"/>
<circle cx="278.0" cy="391.9" r="1.85" fill="#16a09d"/>
<circle cx="314.0" cy="401.5" r="1.85" fill="#1ba8a4"/>
<circle cx="291.3" cy="391.3" r="1.85" fill="#129896"/>
<circle cx="173.4" cy="393.4" r="1.85" fill="#1ba8a4"/>
<circle cx="108.0" cy="402.6" r="1.85" fill="#10908f"/>
<circle cx="69.5" cy="409.3" r="1.85" fill="#20aeaa"/>
<circle cx="120.8" cy="406.9" r="1.85" fill="#129896"/>
<circle cx="110.2" cy="395.0" r="1.85" fill="#16a09d"/>
<circle cx="120.6" cy="394.3" r="1.85" fill="#10908f"/>
<circle cx="330.8" cy="405.1" r="1.85" fill="#1ba8a4"/>
<circle cx="64.5" cy="406.8" r="1.85" fill="#129896"/>
<circle cx="322.6" cy="398.5" r="1.85" fill="#129896"/>
<circle cx="180.5" cy="392.9" r="1.85" fill="#20aeaa"/>
<circle cx="155.9" cy="399.2" r="1.85" fill="#16a09d"/>
<circle cx="197.7" cy="395.2" r="1.85" fill="#139593"/>
<circle cx="195.0" cy="394.4" r="1.85" fill="#16a09d"/>
<circle cx="303.0" cy="399.0" r="1.85" fill="#1ba8a4"/>
<circle cx="207.2" cy="399.9" r="1.85" fill="#20aeaa"/>
<circle cx="324.4" cy="397.2" r="1.85" fill="#139593"/>
<circle cx="73.7" cy="400.9" r="1.85" fill="#16a09d"/>
<circle cx="323.2" cy="396.7" r="1.85" fill="#10908f"/>
<circle cx="140.7" cy="397.1" r="1.85" fill="#10908f"/>
<circle cx="266.3" cy="391.9" r="1.85" fill="#20aeaa"/>
<circle cx="319.5" cy="398.6" r="1.85" fill="#139593"/>
<circle cx="244.9" cy="403.1" r="1.85" fill="#1ba8a4"/>
<circle cx="236.2" cy="392.4" r="1.85" fill="#139593"/>
<circle cx="100.8" cy="399.4" r="1.85" fill="#16a09d"/>
<circle cx="248.9" cy="396.3" r="1.85" fill="#129896"/>
<circle cx="106.3" cy="397.0" r="1.85" fill="#16a09d"/>
<circle cx="114.2" cy="396.6" r="1.85" fill="#139593"/>
<circle cx="75.2" cy="406.3" r="1.85" fill="#1ba8a4"/>
<circle cx="237.0" cy="402.6" r="1.85" fill="#16a09d"/>
<circle cx="71.5" cy="410.0" r="1.85" fill="#139593"/>
<circle cx="244.3" cy="394.2" r="1.85" fill="#20aeaa"/>
<circle cx="249.1" cy="392.5" r="1.85" fill="#20aeaa"/>
<circle cx="305.0" cy="390.9" r="1.85" fill="#16a09d"/>
<circle cx="81.2" cy="407.2" r="1.85" fill="#10908f"/>
<circle cx="319.4" cy="398.8" r="1.85" fill="#129896"/>
<circle cx="329.7" cy="400.1" r="1.85" fill="#16a09d"/>
<circle cx="245.5" cy="401.8" r="1.85" fill="#129896"/>
<circle cx="301.1" cy="392.9" r="1.85" fill="#1ba8a4"/>
<circle cx="294.9" cy="388.2" r="1.85" fill="#139593"/>
<circle cx="62.0" cy="405.8" r="1.85" fill="#1ba8a4"/>
<circle cx="156.4" cy="397.4" r="1.85" fill="#16a09d"/>
<circle cx="152.1" cy="395.3" r="1.85" fill="#139593"/>
<circle cx="89.8" cy="405.8" r="1.85" fill="#20aeaa"/>
<circle cx="82.1" cy="404.7" r="1.85" fill="#129896"/>
<circle cx="73.9" cy="405.0" r="1.85" fill="#1ba8a4"/>
<circle cx="113.9" cy="407.8" r="1.85" fill="#10908f"/>
<circle cx="148.5" cy="405.3" r="1.85" fill="#10908f"/>
<circle cx="214.5" cy="399.6" r="1.85" fill="#1ba8a4"/>
<circle cx="329.7" cy="405.0" r="1.85" fill="#20aeaa"/>
<circle cx="114.6" cy="407.7" r="1.85" fill="#129896"/>
<circle cx="103.1" cy="398.2" r="1.85" fill="#129896"/>
<circle cx="261.8" cy="390.2" r="1.85" fill="#20aeaa"/>
<circle cx="261.8" cy="395.0" r="1.85" fill="#16a09d"/>
<circle cx="174.0" cy="394.9" r="1.85" fill="#1ba8a4"/>
<circle cx="76.8" cy="410.2" r="1.85" fill="#16a09d"/>
<circle cx="214.0" cy="407.1" r="1.85" fill="#10908f"/>
<circle cx="127.8" cy="393.0" r="1.85" fill="#1ba8a4"/>
<circle cx="101.1" cy="394.3" r="1.85" fill="#129896"/>
<circle cx="106.3" cy="396.3" r="1.85" fill="#129896"/>
<circle cx="115.0" cy="403.8" r="1.85" fill="#129896"/>
<circle cx="235.3" cy="395.5" r="1.85" fill="#129896"/>
<circle cx="199.5" cy="397.6" r="1.85" fill="#10908f"/>
<circle cx="117.3" cy="397.3" r="1.85" fill="#20aeaa"/>
<circle cx="57.3" cy="409.9" r="1.85" fill="#10908f"/>
<circle cx="66.2" cy="400.3" r="1.85" fill="#139593"/>
<circle cx="101.3" cy="398.3" r="1.85" fill="#129896"/>
<circle cx="155.6" cy="395.8" r="1.85" fill="#129896"/>
<circle cx="207.0" cy="393.5" r="1.85" fill="#1ba8a4"/>
<circle cx="82.7" cy="402.8" r="1.85" fill="#10908f"/>
<circle cx="234.8" cy="392.8" r="1.85" fill="#129896"/>
<circle cx="115.0" cy="408.1" r="1.85" fill="#139593"/>
<circle cx="123.0" cy="405.5" r="1.85" fill="#1ba8a4"/>
<circle cx="162.5" cy="393.5" r="1.85" fill="#10908f"/>
<circle cx="171.4" cy="394.0" r="1.85" fill="#16a09d"/>
<circle cx="201.7" cy="396.0" r="1.85" fill="#10908f"/>
<circle cx="120.9" cy="405.3" r="1.85" fill="#1ba8a4"/>
<circle cx="72.7" cy="401.4" r="1.85" fill="#20aeaa"/>
<circle cx="295.9" cy="390.7" r="1.85" fill="#129896"/>
<circle cx="313.1" cy="400.9" r="1.85" fill="#10908f"/>
<circle cx="198.6" cy="394.9" r="1.85" fill="#129896"/>
<circle cx="254.0" cy="394.2" r="1.85" fill="#10908f"/>
<circle cx="223.3" cy="394.3" r="1.85" fill="#10908f"/>
<circle cx="52.9" cy="403.7" r="1.85" fill="#10908f"/>
<circle cx="58.9" cy="400.6" r="1.85" fill="#129896"/>
<circle cx="225.8" cy="397.5" r="1.85" fill="#139593"/>
<circle cx="182.4" cy="403.6" r="1.85" fill="#1ba8a4"/>
<circle cx="201.3" cy="396.9" r="1.85" fill="#16a09d"/>
<circle cx="283.3" cy="389.4" r="1.85" fill="#1ba8a4"/>
<circle cx="138.0" cy="406.0" r="1.85" fill="#129896"/>
<circle cx="176.3" cy="398.1" r="1.85" fill="#129896"/>
<circle cx="327.0" cy="401.9" r="1.85" fill="#10908f"/>
<circle cx="119.5" cy="391.9" r="1.85" fill="#10908f"/>
<circle cx="203.0" cy="398.6" r="1.85" fill="#10908f"/>
<circle cx="171.3" cy="406.1" r="1.85" fill="#10908f"/>
<circle cx="294.2" cy="394.4" r="1.85" fill="#139593"/>
<circle cx="143.6" cy="404.7" r="1.85" fill="#16a09d"/>
<circle cx="256.8" cy="391.3" r="1.85" fill="#139593"/>
<circle cx="58.8" cy="403.3" r="1.85" fill="#129896"/>
<circle cx="128.8" cy="395.0" r="1.85" fill="#10908f"/>
<circle cx="229.5" cy="396.6" r="1.85" fill="#10908f"/>
<circle cx="116.5" cy="394.6" r="1.85" fill="#1ba8a4"/>
<circle cx="61.9" cy="401.4" r="1.85" fill="#20aeaa"/>
<circle cx="78.3" cy="404.8" r="1.85" fill="#20aeaa"/>
<circle cx="328.0" cy="394.9" r="1.85" fill="#20aeaa"/>
<circle cx="79.0" cy="399.8" r="1.85" fill="#139593"/>
<circle cx="56.5" cy="400.9" r="1.85" fill="#1ba8a4"/>
<circle cx="211.8" cy="396.0" r="1.85" fill="#10908f"/>
<circle cx="288.7" cy="390.7" r="1.85" fill="#20aeaa"/>
<circle cx="81.1" cy="404.2" r="1.85" fill="#20aeaa"/>
<circle cx="289.1" cy="390.7" r="1.85" fill="#10908f"/>
<circle cx="114.2" cy="408.9" r="1.85" fill="#139593"/>
<circle cx="307.6" cy="390.9" r="1.85" fill="#139593"/>
<circle cx="141.2" cy="404.2" r="1.85" fill="#16a09d"/>
<circle cx="167.0" cy="395.3" r="1.85" fill="#16a09d"/>
<circle cx="227.3" cy="399.6" r="1.85" fill="#139593"/>
<circle cx="133.2" cy="404.9" r="1.85" fill="#20aeaa"/>
<circle cx="180.0" cy="402.0" r="1.85" fill="#1ba8a4"/>
<circle cx="178.3" cy="395.2" r="1.85" fill="#20aeaa"/>
<circle cx="217.5" cy="406.2" r="1.85" fill="#10908f"/>
<circle cx="297.0" cy="396.0" r="1.85" fill="#129896"/>
<circle cx="244.3" cy="402.5" r="1.85" fill="#10908f"/>
<circle cx="98.9" cy="397.2" r="1.85" fill="#1ba8a4"/>
<circle cx="145.7" cy="404.2" r="1.85" fill="#10908f"/>
<circle cx="75.1" cy="400.9" r="1.85" fill="#16a09d"/>
<circle cx="129.3" cy="396.2" r="1.85" fill="#10908f"/>
<circle cx="157.1" cy="400.9" r="1.85" fill="#129896"/>
<circle cx="206.1" cy="403.7" r="1.85" fill="#129896"/>
<circle cx="222.9" cy="403.9" r="1.85" fill="#139593"/>
<circle cx="229.6" cy="400.7" r="1.85" fill="#139593"/>
<circle cx="79.0" cy="398.5" r="1.85" fill="#10908f"/>
<circle cx="302.8" cy="388.6" r="1.85" fill="#139593"/>
<circle cx="331.4" cy="399.3" r="1.85" fill="#16a09d"/>
<circle cx="149.4" cy="396.0" r="1.85" fill="#139593"/>
<circle cx="247.5" cy="403.9" r="1.85" fill="#1ba8a4"/>
<circle cx="279.0" cy="390.3" r="1.85" fill="#139593"/>
<circle cx="299.7" cy="392.3" r="1.85" fill="#1ba8a4"/>
<circle cx="58.5" cy="409.1" r="1.85" fill="#129896"/>
<circle cx="201.0" cy="395.1" r="1.85" fill="#10908f"/>
<circle cx="294.6" cy="392.3" r="1.85" fill="#1ba8a4"/>
<circle cx="250.9" cy="391.4" r="1.85" fill="#139593"/>
<circle cx="124.6" cy="394.9" r="1.85" fill="#139593"/>
<circle cx="238.2" cy="393.5" r="1.85" fill="#20aeaa"/>
<circle cx="187.3" cy="392.5" r="1.85" fill="#139593"/>
<circle cx="69.5" cy="406.5" r="1.85" fill="#20aeaa"/>
<circle cx="243.0" cy="391.0" r="1.85" fill="#1ba8a4"/>
<circle cx="276.6" cy="394.2" r="1.85" fill="#20aeaa"/>
<circle cx="317.4" cy="402.1" r="1.85" fill="#1ba8a4"/>
<circle cx="112.1" cy="406.1" r="1.85" fill="#139593"/>
<circle cx="176.0" cy="395.2" r="1.85" fill="#10908f"/>
<circle cx="136.1" cy="403.7" r="1.85" fill="#10908f"/>
<circle cx="84.1" cy="409.0" r="1.85" fill="#129896"/>
<circle cx="52.9" cy="396.2" r="1.85" fill="#139593"/>
<circle cx="246.6" cy="393.9" r="1.85" fill="#10908f"/>
<circle cx="256.0" cy="392.2" r="1.85" fill="#1ba8a4"/>
<circle cx="320.9" cy="405.9" r="1.85" fill="#139593"/>
<circle cx="204.3" cy="393.5" r="1.85" fill="#16a09d"/>
<circle cx="128.2" cy="407.9" r="1.85" fill="#1ba8a4"/>
<circle cx="235.2" cy="398.1" r="1.85" fill="#16a09d"/>
<circle cx="298.5" cy="393.4" r="1.85" fill="#1ba8a4"/>
<circle cx="154.0" cy="404.7" r="1.85" fill="#10908f"/>
<circle cx="314.5" cy="395.9" r="1.85" fill="#10908f"/>
<circle cx="318.6" cy="395.8" r="1.85" fill="#129896"/>
<circle cx="133.7" cy="395.1" r="1.85" fill="#129896"/>
<circle cx="172.0" cy="399.3" r="1.85" fill="#139593"/>
<circle cx="145.8" cy="402.9" r="1.85" fill="#139593"/>
<circle cx="248.5" cy="392.0" r="1.85" fill="#129896"/>
<circle cx="312.8" cy="398.4" r="1.85" fill="#16a09d"/>
<circle cx="167.8" cy="407.2" r="1.85" fill="#129896"/>
<circle cx="233.0" cy="398.4" r="1.85" fill="#129896"/>
<circle cx="303.5" cy="392.5" r="1.85" fill="#139593"/>
<circle cx="81.1" cy="405.3" r="1.85" fill="#16a09d"/>
<circle cx="286.6" cy="393.1" r="1.85" fill="#10908f"/>
<circle cx="295.4" cy="394.7" r="1.85" fill="#129896"/>
<circle cx="85.8" cy="403.8" r="1.85" fill="#1ba8a4"/>
<circle cx="95.0" cy="394.5" r="1.85" fill="#1ba8a4"/>
<circle cx="323.5" cy="399.0" r="1.85" fill="#139593"/>
<circle cx="171.1" cy="394.3" r="1.85" fill="#20aeaa"/>
<circle cx="137.2" cy="401.2" r="1.85" fill="#1ba8a4"/>
<circle cx="125.7" cy="403.7" r="1.85" fill="#1ba8a4"/>
<circle cx="286.4" cy="391.6" r="1.85" fill="#129896"/>
<circle cx="185.2" cy="403.3" r="1.85" fill="#20aeaa"/>
<circle cx="295.1" cy="395.5" r="1.85" fill="#10908f"/>
<circle cx="230.8" cy="397.2" r="1.85" fill="#10908f"/>
<circle cx="226.4" cy="404.7" r="1.85" fill="#1ba8a4"/>
<circle cx="95.6" cy="394.4" r="1.85" fill="#1ba8a4"/>
<circle cx="91.5" cy="397.7" r="1.85" fill="#16a09d"/>
<circle cx="63.6" cy="410.0" r="1.85" fill="#20aeaa"/>
<circle cx="102.8" cy="394.0" r="1.85" fill="#129896"/>
<circle cx="284.3" cy="388.9" r="1.85" fill="#10908f"/>
<circle cx="110.2" cy="405.1" r="1.85" fill="#1ba8a4"/>
<circle cx="164.5" cy="405.2" r="1.85" fill="#16a09d"/>
<circle cx="175.5" cy="392.7" r="1.85" fill="#10908f"/>
<circle cx="110.8" cy="396.7" r="1.85" fill="#20aeaa"/>
<circle cx="157.3" cy="399.8" r="1.85" fill="#1ba8a4"/>
<circle cx="110.3" cy="401.2" r="1.85" fill="#20aeaa"/>
<circle cx="239.6" cy="395.9" r="1.85" fill="#129896"/>
<circle cx="262.6" cy="395.2" r="1.85" fill="#1ba8a4"/>
<circle cx="106.7" cy="394.0" r="1.85" fill="#129896"/>
<circle cx="330.4" cy="394.1" r="1.85" fill="#129896"/>
<circle cx="169.4" cy="395.8" r="1.85" fill="#129896"/>
<circle cx="185.8" cy="393.3" r="1.85" fill="#16a09d"/>
<circle cx="170.3" cy="406.7" r="1.85" fill="#10908f"/>
<circle cx="87.2" cy="395.5" r="1.85" fill="#20aeaa"/>
<circle cx="131.0" cy="404.6" r="1.85" fill="#10908f"/>
<circle cx="194.8" cy="391.4" r="1.85" fill="#1ba8a4"/>
<circle cx="60.3" cy="400.1" r="1.85" fill="#1ba8a4"/>
<circle cx="130.8" cy="404.1" r="1.85" fill="#20aeaa"/>
<circle cx="92.8" cy="402.7" r="1.85" fill="#16a09d"/>
<circle cx="330.5" cy="402.4" r="1.85" fill="#20aeaa"/>
<circle cx="222.3" cy="402.6" r="1.85" fill="#10908f"/>
<circle cx="301.9" cy="393.5" r="1.85" fill="#1ba8a4"/>
<circle cx="185.5" cy="392.3" r="1.85" fill="#16a09d"/>
<circle cx="310.6" cy="390.4" r="1.85" fill="#20aeaa"/>
<circle cx="183.5" cy="396.4" r="1.85" fill="#139593"/>
<circle cx="194.6" cy="399.9" r="1.85" fill="#129896"/>
<circle cx="213.8" cy="396.4" r="1.85" fill="#16a09d"/>
<circle cx="310.2" cy="392.1" r="1.85" fill="#16a09d"/>
<circle cx="220.4" cy="400.9" r="1.85" fill="#20aeaa"/>
<circle cx="95.4" cy="396.8" r="1.85" fill="#10908f"/>
<circle cx="285.6" cy="387.7" r="1.85" fill="#20aeaa"/>
<circle cx="69.8" cy="407.3" r="1.85" fill="#16a09d"/>
<circle cx="172.0" cy="393.6" r="1.85" fill="#16a09d"/>
<circle cx="274.8" cy="391.3" r="1.85" fill="#139593"/>
<circle cx="71.8" cy="405.4" r="1.85" fill="#129896"/>
<circle cx="204.2" cy="393.6" r="1.85" fill="#129896"/>
<circle cx="172.3" cy="396.9" r="1.85" fill="#129896"/>
<circle cx="321.6" cy="405.8" r="1.85" fill="#129896"/>
<circle cx="201.5" cy="397.1" r="1.85" fill="#139593"/>
<circle cx="63.2" cy="404.6" r="1.85" fill="#1ba8a4"/>
<circle cx="209.7" cy="404.8" r="1.85" fill="#10908f"/>
<circle cx="129.1" cy="392.9" r="1.85" fill="#16a09d"/>
<circle cx="176.7" cy="401.1" r="1.85" fill="#20aeaa"/>
<circle cx="228.7" cy="393.6" r="1.85" fill="#129896"/>
<circle cx="193.8" cy="394.2" r="1.85" fill="#1ba8a4"/>
<circle cx="136.8" cy="398.9" r="1.85" fill="#1ba8a4"/>
<circle cx="134.4" cy="408.3" r="1.85" fill="#20aeaa"/>
<circle cx="217.2" cy="398.8" r="1.85" fill="#129896"/>
<circle cx="85.0" cy="397.9" r="1.85" fill="#139593"/>
<circle cx="277.6" cy="389.5" r="1.85" fill="#129896"/>
<circle cx="247.2" cy="400.2" r="1.85" fill="#139593"/>
<circle cx="311.7" cy="391.0" r="1.85" fill="#10908f"/>
<circle cx="232.1" cy="401.6" r="1.85" fill="#1ba8a4"/>
<circle cx="99.1" cy="398.5" r="1.85" fill="#139593"/>
<circle cx="166.2" cy="406.9" r="1.85" fill="#10908f"/>
<circle cx="158.4" cy="394.2" r="1.85" fill="#129896"/>
<circle cx="236.7" cy="402.7" r="1.85" fill="#129896"/>
<circle cx="128.0" cy="398.8" r="1.85" fill="#10908f"/>
<circle cx="159.4" cy="393.1" r="1.85" fill="#20aeaa"/>
<circle cx="192.7" cy="395.4" r="1.85" fill="#20aeaa"/>
<circle cx="57.0" cy="407.7" r="1.85" fill="#1ba8a4"/>
<circle cx="68.2" cy="401.6" r="1.85" fill="#139593"/>
<circle cx="149.0" cy="406.0" r="1.85" fill="#1ba8a4"/>
<circle cx="177.5" cy="401.9" r="1.85" fill="#16a09d"/>
<circle cx="99.0" cy="394.4" r="1.85" fill="#1ba8a4"/>
<circle cx="197.7" cy="403.2" r="1.85" fill="#20aeaa"/>
<circle cx="196.2" cy="397.9" r="1.85" fill="#129896"/>
<circle cx="323.3" cy="394.2" r="1.85" fill="#10908f"/>
<circle cx="317.3" cy="400.2" r="1.85" fill="#10908f"/>
<circle cx="172.2" cy="404.5" r="1.85" fill="#16a09d"/>
<circle cx="161.5" cy="400.6" r="1.85" fill="#139593"/>
<circle cx="178.3" cy="402.8" r="1.85" fill="#10908f"/>
<circle cx="72.3" cy="402.1" r="1.85" fill="#10908f"/>
<circle cx="63.2" cy="400.0" r="1.85" fill="#1ba8a4"/>
<circle cx="215.1" cy="401.2" r="1.85" fill="#10908f"/>
<circle cx="298.8" cy="389.7" r="1.85" fill="#20aeaa"/>
<circle cx="160.2" cy="398.3" r="1.85" fill="#20aeaa"/>
<circle cx="145.1" cy="395.3" r="1.85" fill="#1ba8a4"/>
<circle cx="235.8" cy="395.7" r="1.85" fill="#1ba8a4"/>
<circle cx="101.8" cy="398.4" r="1.85" fill="#20aeaa"/>
<circle cx="60.0" cy="405.5" r="1.85" fill="#129896"/>
<circle cx="57.4" cy="408.5" r="1.85" fill="#10908f"/>
<circle cx="315.6" cy="397.4" r="1.85" fill="#10908f"/>
<circle cx="169.2" cy="398.9" r="1.85" fill="#139593"/>
<circle cx="179.8" cy="405.9" r="1.85" fill="#139593"/>
<circle cx="243.0" cy="390.5" r="1.85" fill="#16a09d"/>
<circle cx="248.0" cy="392.7" r="1.85" fill="#139593"/>
<circle cx="236.9" cy="394.1" r="1.85" fill="#10908f"/>
<circle cx="254.1" cy="390.6" r="1.85" fill="#10908f"/>
<circle cx="63.0" cy="400.4" r="1.85" fill="#10908f"/>
<circle cx="71.1" cy="401.2" r="1.85" fill="#129896"/>
<circle cx="60.8" cy="403.5" r="1.85" fill="#10908f"/>
<circle cx="226.4" cy="393.3" r="1.85" fill="#1ba8a4"/>
<circle cx="298.2" cy="388.5" r="1.85" fill="#139593"/>
<circle cx="54.2" cy="410.7" r="1.85" fill="#139593"/>
<circle cx="187.2" cy="391.8" r="1.85" fill="#129896"/>
<circle cx="154.5" cy="406.6" r="1.85" fill="#139593"/>
<circle cx="225.7" cy="405.0" r="1.85" fill="#10908f"/>
<circle cx="189.1" cy="391.4" r="1.85" fill="#139593"/>
<circle cx="74.4" cy="405.4" r="1.85" fill="#10908f"/>
<circle cx="169.8" cy="392.1" r="1.85" fill="#1ba8a4"/>
<circle cx="255.3" cy="397.9" r="1.85" fill="#129896"/>
<circle cx="288.3" cy="391.6" r="1.85" fill="#10908f"/>
<circle cx="166.7" cy="402.2" r="1.85" fill="#139593"/>
<circle cx="302.6" cy="393.7" r="1.85" fill="#20aeaa"/>
<circle cx="76.0" cy="406.4" r="1.85" fill="#20aeaa"/>
<circle cx="61.5" cy="402.3" r="1.85" fill="#16a09d"/>
<circle cx="234.8" cy="402.0" r="1.85" fill="#129896"/>
<circle cx="227.5" cy="394.5" r="1.85" fill="#129896"/>
<circle cx="255.8" cy="398.7" r="1.85" fill="#1ba8a4"/>
<circle cx="59.4" cy="407.4" r="1.85" fill="#129896"/>
<circle cx="88.7" cy="404.8" r="1.85" fill="#16a09d"/>
<circle cx="264.8" cy="395.4" r="1.85" fill="#10908f"/>
<circle cx="93.5" cy="403.7" r="1.85" fill="#139593"/>
<circle cx="280.3" cy="390.7" r="1.85" fill="#1ba8a4"/>
<circle cx="90.3" cy="406.3" r="1.85" fill="#129896"/>
<circle cx="321.0" cy="398.3" r="1.85" fill="#139593"/>
<circle cx="61.5" cy="409.3" r="1.85" fill="#10908f"/>
<circle cx="241.0" cy="393.2" r="1.85" fill="#1ba8a4"/>
<circle cx="66.8" cy="410.4" r="1.85" fill="#16a09d"/>
<circle cx="201.1" cy="405.4" r="1.85" fill="#16a09d"/>
<circle cx="285.3" cy="393.7" r="1.85" fill="#139593"/>
<circle cx="90.4" cy="407.0" r="1.85" fill="#129896"/>
<circle cx="120.2" cy="394.7" r="1.85" fill="#1ba8a4"/>
<circle cx="171.5" cy="404.8" r="1.85" fill="#1ba8a4"/>
<circle cx="83.4" cy="406.3" r="1.85" fill="#129896"/>
<circle cx="158.5" cy="402.0" r="1.85" fill="#10908f"/>
<circle cx="174.3" cy="401.8" r="1.85" fill="#16a09d"/>
<circle cx="98.8" cy="396.8" r="1.85" fill="#139593"/>
<circle cx="89.9" cy="395.0" r="1.85" fill="#129896"/>
<circle cx="295.6" cy="390.6" r="1.85" fill="#20aeaa"/>
<circle cx="200.7" cy="394.0" r="1.85" fill="#139593"/>
<circle cx="161.2" cy="394.2" r="1.85" fill="#10908f"/>
<circle cx="312.6" cy="399.5" r="1.85" fill="#129896"/>
<circle cx="161.0" cy="398.2" r="1.85" fill="#20aeaa"/>
<circle cx="225.1" cy="397.8" r="1.85" fill="#20aeaa"/>
<circle cx="170.8" cy="399.1" r="1.85" fill="#10908f"/>
<circle cx="296.6" cy="391.8" r="1.85" fill="#139593"/>
<circle cx="129.8" cy="399.8" r="1.85" fill="#139593"/>
<circle cx="173.3" cy="406.0" r="1.85" fill="#20aeaa"/>
<circle cx="273.4" cy="392.2" r="1.85" fill="#139593"/>
<circle cx="72.1" cy="400.3" r="1.85" fill="#1ba8a4"/>
<circle cx="173.2" cy="399.9" r="1.85" fill="#1ba8a4"/>
<circle cx="159.2" cy="402.3" r="1.85" fill="#10908f"/>
<circle cx="229.4" cy="394.6" r="1.85" fill="#10908f"/>
<circle cx="144.3" cy="402.2" r="1.85" fill="#20aeaa"/>
<circle cx="252.9" cy="395.1" r="1.85" fill="#16a09d"/>
<circle cx="91.0" cy="396.1" r="1.85" fill="#129896"/>
<circle cx="139.1" cy="398.9" r="1.85" fill="#139593"/>
<circle cx="214.7" cy="401.7" r="1.85" fill="#10908f"/>
<circle cx="95.9" cy="399.7" r="1.85" fill="#129896"/>
<circle cx="274.2" cy="391.6" r="1.85" fill="#139593"/>
<circle cx="295.8" cy="388.2" r="1.85" fill="#139593"/>
<circle cx="245.6" cy="390.6" r="1.85" fill="#16a09d"/>
<circle cx="135.0" cy="399.8" r="1.85" fill="#10908f"/>
<circle cx="235.4" cy="396.1" r="1.85" fill="#10908f"/>
<circle cx="170.1" cy="395.3" r="1.85" fill="#10908f"/>
<circle cx="134.5" cy="405.7" r="1.85" fill="#16a09d"/>
<circle cx="235.1" cy="398.6" r="1.85" fill="#20aeaa"/>
<circle cx="114.9" cy="400.4" r="1.85" fill="#10908f"/>
<circle cx="329.1" cy="397.5" r="1.85" fill="#129896"/>
<circle cx="57.1" cy="405.3" r="1.85" fill="#20aeaa"/>
<circle cx="62.6" cy="400.5" r="1.85" fill="#10908f"/>
<circle cx="108.0" cy="395.4" r="1.85" fill="#1ba8a4"/>
<circle cx="303.3" cy="389.4" r="1.85" fill="#16a09d"/>
<circle cx="255.3" cy="392.3" r="1.85" fill="#139593"/>
<circle cx="72.9" cy="405.7" r="1.85" fill="#129896"/>
<circle cx="259.7" cy="391.1" r="1.85" fill="#16a09d"/>
<circle cx="139.1" cy="396.4" r="1.85" fill="#16a09d"/>
<circle cx="69.0" cy="409.6" r="1.85" fill="#20aeaa"/>
<circle cx="161.5" cy="396.9" r="1.85" fill="#139593"/>
<circle cx="327.4" cy="398.5" r="1.85" fill="#20aeaa"/>
<circle cx="92.0" cy="407.1" r="1.85" fill="#1ba8a4"/>
<circle cx="84.8" cy="407.6" r="1.85" fill="#129896"/>
<circle cx="264.0" cy="391.2" r="1.85" fill="#129896"/>
<circle cx="150.0" cy="396.8" r="1.85" fill="#139593"/>
<circle cx="156.0" cy="396.7" r="1.85" fill="#20aeaa"/>
<circle cx="169.5" cy="397.6" r="1.85" fill="#139593"/>
<circle cx="188.9" cy="392.7" r="1.85" fill="#129896"/>
<circle cx="206.6" cy="397.8" r="1.85" fill="#1ba8a4"/>
<circle cx="210.6" cy="401.2" r="1.85" fill="#16a09d"/>
<circle cx="244.1" cy="398.6" r="1.85" fill="#129896"/>
<circle cx="188.5" cy="397.5" r="1.85" fill="#20aeaa"/>
<circle cx="217.1" cy="406.6" r="1.85" fill="#10908f"/>
<circle cx="139.6" cy="405.1" r="1.85" fill="#16a09d"/>
<circle cx="129.8" cy="394.9" r="1.85" fill="#129896"/>
<circle cx="127.8" cy="395.3" r="1.85" fill="#139593"/>
<circle cx="160.1" cy="395.5" r="1.85" fill="#129896"/>
<circle cx="307.7" cy="390.1" r="1.85" fill="#16a09d"/>
<circle cx="164.6" cy="397.2" r="1.85" fill="#10908f"/>
<circle cx="133.1" cy="400.1" r="1.85" fill="#10908f"/>
<circle cx="229.8" cy="403.4" r="1.85" fill="#139593"/>
<circle cx="309.2" cy="394.8" r="1.85" fill="#10908f"/>
<circle cx="109.9" cy="403.3" r="1.85" fill="#139593"/>
<circle cx="274.0" cy="390.1" r="1.85" fill="#129896"/>
<circle cx="126.9" cy="407.7" r="1.85" fill="#16a09d"/>
<circle cx="85.7" cy="404.9" r="1.85" fill="#129896"/>
<circle cx="144.2" cy="400.3" r="1.85" fill="#1ba8a4"/>
<circle cx="188.8" cy="396.0" r="1.85" fill="#1ba8a4"/>
<circle cx="280.7" cy="390.6" r="1.85" fill="#129896"/>
<circle cx="224.2" cy="395.0" r="1.85" fill="#16a09d"/>
<circle cx="116.2" cy="403.5" r="1.85" fill="#16a09d"/>
<circle cx="113.7" cy="395.9" r="1.85" fill="#1ba8a4"/>
<circle cx="83.8" cy="403.3" r="1.85" fill="#139593"/>
<circle cx="292.1" cy="388.2" r="1.85" fill="#20aeaa"/>
<circle cx="236.3" cy="396.7" r="1.85" fill="#10908f"/>
<circle cx="182.4" cy="396.4" r="1.85" fill="#16a09d"/>
<circle cx="70.9" cy="405.2" r="1.85" fill="#16a09d"/>
<circle cx="318.6" cy="400.6" r="1.85" fill="#10908f"/>
<circle cx="88.9" cy="399.2" r="1.85" fill="#139593"/>
<circle cx="212.7" cy="393.8" r="1.85" fill="#16a09d"/>
<circle cx="52.2" cy="400.7" r="1.85" fill="#129896"/>
<circle cx="323.6" cy="398.9" r="1.85" fill="#129896"/>
<circle cx="322.2" cy="403.0" r="1.85" fill="#129896"/>
<circle cx="142.7" cy="397.0" r="1.85" fill="#129896"/>
<circle cx="205.9" cy="397.9" r="1.85" fill="#129896"/>
<circle cx="68.8" cy="405.9" r="1.85" fill="#139593"/>
<circle cx="131.3" cy="406.0" r="1.85" fill="#16a09d"/>
<circle cx="178.6" cy="397.7" r="1.85" fill="#16a09d"/>
<circle cx="100.0" cy="394.4" r="1.85" fill="#139593"/>
<circle cx="144.7" cy="396.8" r="1.85" fill="#139593"/>
<circle cx="254.0" cy="397.9" r="1.85" fill="#20aeaa"/>
<circle cx="59.0" cy="405.6" r="1.85" fill="#129896"/>
<circle cx="235.0" cy="402.3" r="1.85" fill="#139593"/>
<circle cx="163.6" cy="399.7" r="1.85" fill="#16a09d"/>
<circle cx="123.8" cy="395.1" r="1.85" fill="#129896"/>
<circle cx="292.5" cy="388.0" r="1.85" fill="#1ba8a4"/>
<circle cx="227.9" cy="396.0" r="1.85" fill="#20aeaa"/>
<circle cx="185.4" cy="402.2" r="1.85" fill="#10908f"/>
<circle cx="170.5" cy="399.9" r="1.85" fill="#139593"/>
<circle cx="327.9" cy="400.0" r="1.85" fill="#10908f"/>
<circle cx="162.1" cy="403.5" r="1.85" fill="#129896"/>
<circle cx="161.8" cy="399.1" r="1.85" fill="#20aeaa"/>
<circle cx="312.2" cy="390.8" r="1.85" fill="#16a09d"/>
<circle cx="150.3" cy="405.2" r="1.85" fill="#1ba8a4"/>
<circle cx="199.1" cy="399.5" r="1.85" fill="#20aeaa"/>
<circle cx="85.7" cy="399.1" r="1.85" fill="#139593"/>
<circle cx="111.7" cy="394.7" r="1.85" fill="#10908f"/>
<circle cx="72.9" cy="409.7" r="1.85" fill="#129896"/>
<circle cx="106.7" cy="399.8" r="1.85" fill="#129896"/>
<circle cx="227.1" cy="401.3" r="1.85" fill="#129896"/>
<circle cx="178.8" cy="393.1" r="1.85" fill="#129896"/>
<circle cx="205.0" cy="397.5" r="1.85" fill="#20aeaa"/>
<circle cx="172.3" cy="403.9" r="1.85" fill="#139593"/>
<circle cx="141.9" cy="408.4" r="1.85" fill="#10908f"/>
<circle cx="211.6" cy="402.6" r="1.85" fill="#1ba8a4"/>
<circle cx="60.1" cy="399.7" r="1.85" fill="#10908f"/>
<circle cx="211.3" cy="393.4" r="1.85" fill="#139593"/>
<circle cx="140.6" cy="395.4" r="1.85" fill="#16a09d"/>
<circle cx="115.0" cy="400.6" r="1.85" fill="#129896"/>
<circle cx="88.6" cy="399.2" r="1.85" fill="#1ba8a4"/>
<circle cx="220.3" cy="397.1" r="1.85" fill="#20aeaa"/>
<circle cx="79.0" cy="400.4" r="1.85" fill="#10908f"/>
<circle cx="80.7" cy="405.0" r="1.85" fill="#20aeaa"/>
<circle cx="89.7" cy="404.6" r="1.85" fill="#16a09d"/>
<circle cx="113.6" cy="399.4" r="1.85" fill="#129896"/>
<circle cx="304.2" cy="389.9" r="1.85" fill="#10908f"/>
<circle cx="271.8" cy="390.2" r="1.85" fill="#16a09d"/>
<circle cx="322.7" cy="396.0" r="1.85" fill="#10908f"/>
<circle cx="253.2" cy="397.3" r="1.85" fill="#10908f"/>
<circle cx="264.7" cy="393.9" r="1.85" fill="#1ba8a4"/>
<circle cx="331.7" cy="398.1" r="1.85" fill="#1ba8a4"/>
<circle cx="72.3" cy="409.4" r="1.85" fill="#10908f"/>
<circle cx="254.2" cy="401.1" r="1.85" fill="#16a09d"/>
<circle cx="253.8" cy="400.4" r="1.85" fill="#16a09d"/>
<circle cx="96.5" cy="404.2" r="1.85" fill="#1ba8a4"/>
<circle cx="174.3" cy="395.4" r="1.85" fill="#10908f"/>
<circle cx="122.8" cy="403.1" r="1.85" fill="#129896"/>
<circle cx="173.9" cy="396.8" r="1.85" fill="#16a09d"/>
<circle cx="246.6" cy="398.7" r="1.85" fill="#1ba8a4"/>
<circle cx="214.1" cy="405.4" r="1.85" fill="#129896"/>
<circle cx="253.4" cy="400.1" r="1.85" fill="#1ba8a4"/>
<circle cx="133.5" cy="409.2" r="1.85" fill="#20aeaa"/>
<circle cx="90.7" cy="395.1" r="1.85" fill="#10908f"/>
<circle cx="141.7" cy="409.0" r="1.85" fill="#1ba8a4"/>
<circle cx="282.1" cy="394.0" r="1.85" fill="#10908f"/>
<circle cx="85.7" cy="409.8" r="1.85" fill="#16a09d"/>
<circle cx="266.1" cy="393.5" r="1.85" fill="#1ba8a4"/>
<circle cx="259.8" cy="396.6" r="1.85" fill="#129896"/>
<circle cx="72.6" cy="403.0" r="1.85" fill="#1ba8a4"/>
<circle cx="189.0" cy="401.0" r="1.85" fill="#1ba8a4"/>
<circle cx="239.7" cy="389.4" r="1.85" fill="#16a09d"/>
<circle cx="234.3" cy="390.8" r="1.85" fill="#10908f"/>
<circle cx="68.8" cy="409.6" r="1.85" fill="#139593"/>
<circle cx="101.5" cy="397.3" r="1.85" fill="#129896"/>
<circle cx="288.6" cy="394.2" r="1.85" fill="#10908f"/>
<circle cx="265.3" cy="394.4" r="1.85" fill="#20aeaa"/>
<circle cx="248.8" cy="405.0" r="1.85" fill="#129896"/>
<circle cx="249.3" cy="394.0" r="1.85" fill="#20aeaa"/>
<circle cx="220.6" cy="403.3" r="1.85" fill="#20aeaa"/>
<circle cx="70.7" cy="406.3" r="1.85" fill="#16a09d"/>
<circle cx="233.2" cy="394.4" r="1.85" fill="#129896"/>
<circle cx="320.6" cy="397.4" r="1.85" fill="#1ba8a4"/>
<circle cx="204.2" cy="398.0" r="1.85" fill="#20aeaa"/>
<circle cx="193.2" cy="399.9" r="1.85" fill="#10908f"/>
<circle cx="166.2" cy="394.0" r="1.85" fill="#16a09d"/>
<circle cx="152.7" cy="402.2" r="1.85" fill="#139593"/>
<circle cx="285.2" cy="388.0" r="1.85" fill="#10908f"/>
<circle cx="98.9" cy="402.1" r="1.85" fill="#10908f"/>
<circle cx="191.0" cy="398.8" r="1.85" fill="#1ba8a4"/>
<circle cx="231.6" cy="395.2" r="1.85" fill="#1ba8a4"/>
<circle cx="96.6" cy="398.8" r="1.85" fill="#16a09d"/>
<circle cx="98.0" cy="394.2" r="1.85" fill="#20aeaa"/>
<circle cx="139.0" cy="400.2" r="1.85" fill="#10908f"/>
<circle cx="219.4" cy="403.0" r="1.85" fill="#129896"/>
<circle cx="204.6" cy="405.3" r="1.85" fill="#139593"/>
<circle cx="208.4" cy="394.8" r="1.85" fill="#20aeaa"/>
<circle cx="140.2" cy="394.7" r="1.85" fill="#10908f"/>
<circle cx="74.4" cy="410.5" r="1.85" fill="#1ba8a4"/>
<circle cx="120.7" cy="404.3" r="1.85" fill="#16a09d"/>
<circle cx="124.5" cy="397.4" r="1.85" fill="#16a09d"/>
<circle cx="176.8" cy="393.2" r="1.85" fill="#20aeaa"/>
<circle cx="133.3" cy="395.1" r="1.85" fill="#10908f"/>
<circle cx="136.2" cy="405.4" r="1.85" fill="#20aeaa"/>
<circle cx="197.9" cy="396.5" r="1.85" fill="#10908f"/>
<circle cx="204.5" cy="399.2" r="1.85" fill="#16a09d"/>
<circle cx="85.9" cy="408.1" r="1.85" fill="#1ba8a4"/>
<circle cx="225.8" cy="401.1" r="1.85" fill="#10908f"/>
<circle cx="169.3" cy="406.5" r="1.85" fill="#139593"/>
<circle cx="127.2" cy="395.1" r="1.85" fill="#1ba8a4"/>
<circle cx="307.1" cy="390.0" r="1.85" fill="#20aeaa"/>
<circle cx="117.6" cy="408.0" r="1.85" fill="#20aeaa"/>
<circle cx="172.6" cy="405.2" r="1.85" fill="#139593"/>
<circle cx="110.8" cy="403.7" r="1.85" fill="#129896"/>
<circle cx="311.4" cy="396.9" r="1.85" fill="#129896"/>
<circle cx="277.3" cy="393.7" r="1.85" fill="#1ba8a4"/>
<circle cx="112.7" cy="401.4" r="1.85" fill="#16a09d"/>
<circle cx="56.4" cy="399.7" r="1.85" fill="#129896"/>
<circle cx="224.4" cy="400.5" r="1.85" fill="#1ba8a4"/>
<circle cx="235.1" cy="398.8" r="1.85" fill="#10908f"/>
<circle cx="247.8" cy="398.1" r="1.85" fill="#1ba8a4"/>
<circle cx="208.2" cy="399.8" r="1.85" fill="#129896"/>
<circle cx="307.7" cy="389.5" r="1.85" fill="#20aeaa"/>
<circle cx="160.7" cy="401.5" r="1.85" fill="#10908f"/>
<circle cx="231.3" cy="398.5" r="1.85" fill="#129896"/>
<circle cx="212.0" cy="400.5" r="1.85" fill="#129896"/>
<circle cx="327.8" cy="398.0" r="1.85" fill="#20aeaa"/>
<circle cx="164.4" cy="402.7" r="1.85" fill="#20aeaa"/>
<circle cx="236.6" cy="392.9" r="1.85" fill="#129896"/>
<circle cx="115.1" cy="398.6" r="1.85" fill="#10908f"/>
<circle cx="128.2" cy="399.2" r="1.85" fill="#16a09d"/>
<circle cx="157.7" cy="403.4" r="1.85" fill="#16a09d"/>
<circle cx="210.2" cy="395.1" r="1.85" fill="#1ba8a4"/>
<circle cx="176.1" cy="398.7" r="1.85" fill="#1ba8a4"/>
<circle cx="138.6" cy="402.4" r="1.85" fill="#10908f"/>
<circle cx="54.4" cy="412.0" r="1.85" fill="#1ba8a4"/>
<circle cx="294.1" cy="390.9" r="1.85" fill="#129896"/>
<circle cx="220.9" cy="397.1" r="1.85" fill="#139593"/>
<circle cx="157.0" cy="406.3" r="1.85" fill="#10908f"/>
<circle cx="298.7" cy="395.2" r="1.85" fill="#10908f"/>
<circle cx="279.3" cy="393.2" r="1.85" fill="#20aeaa"/>
<circle cx="327.0" cy="395.4" r="1.85" fill="#10908f"/>
<circle cx="189.7" cy="392.4" r="1.85" fill="#16a09d"/>
<circle cx="163.2" cy="396.4" r="1.85" fill="#129896"/>
<circle cx="199.1" cy="399.8" r="1.85" fill="#139593"/>
<circle cx="245.1" cy="390.2" r="1.85" fill="#139593"/>
<circle cx="205.1" cy="398.2" r="1.85" fill="#20aeaa"/>
<circle cx="262.6" cy="389.6" r="1.85" fill="#16a09d"/>
<circle cx="130.8" cy="393.7" r="1.85" fill="#20aeaa"/>
<circle cx="63.3" cy="405.7" r="1.85" fill="#129896"/>
<circle cx="177.3" cy="397.8" r="1.85" fill="#20aeaa"/>
<circle cx="198.4" cy="393.3" r="1.85" fill="#139593"/>
<circle cx="174.7" cy="395.1" r="1.85" fill="#129896"/>
<circle cx="250.6" cy="404.5" r="1.85" fill="#10908f"/>
<circle cx="143.5" cy="401.1" r="1.85" fill="#20aeaa"/>
<circle cx="269.1" cy="392.5" r="1.85" fill="#10908f"/>
<circle cx="210.3" cy="393.8" r="1.85" fill="#1ba8a4"/>
<circle cx="325.9" cy="403.4" r="1.85" fill="#16a09d"/>
<circle cx="282.4" cy="390.4" r="1.85" fill="#10908f"/>
<circle cx="288.1" cy="388.9" r="1.85" fill="#10908f"/>
<circle cx="201.9" cy="399.1" r="1.85" fill="#1ba8a4"/>
<circle cx="215.5" cy="403.0" r="1.85" fill="#20aeaa"/>
<circle cx="54.3" cy="402.0" r="1.85" fill="#10908f"/>
<circle cx="63.7" cy="402.4" r="1.85" fill="#1ba8a4"/>
<circle cx="76.7" cy="410.2" r="1.85" fill="#16a09d"/>
<circle cx="228.9" cy="395.2" r="1.85" fill="#10908f"/>
<circle cx="74.7" cy="400.9" r="1.85" fill="#129896"/>
<circle cx="180.9" cy="397.5" r="1.85" fill="#129896"/>
<circle cx="174.3" cy="402.9" r="1.85" fill="#20aeaa"/>
<circle cx="74.1" cy="405.3" r="1.85" fill="#139593"/>
<circle cx="67.4" cy="408.8" r="1.85" fill="#129896"/>
<circle cx="289.8" cy="392.1" r="1.85" fill="#1ba8a4"/>
<circle cx="154.2" cy="405.2" r="1.85" fill="#20aeaa"/>
<circle cx="128.6" cy="402.2" r="1.85" fill="#1ba8a4"/>
<circle cx="302.5" cy="392.6" r="1.85" fill="#129896"/>
<circle cx="216.6" cy="396.0" r="1.85" fill="#20aeaa"/>
<circle cx="173.7" cy="405.7" r="1.85" fill="#10908f"/>
<circle cx="190.2" cy="395.6" r="1.85" fill="#20aeaa"/>
<circle cx="271.3" cy="389.3" r="1.85" fill="#16a09d"/>
<circle cx="284.5" cy="388.1" r="1.85" fill="#10908f"/>
<circle cx="80.1" cy="403.8" r="1.85" fill="#10908f"/>
<circle cx="180.2" cy="400.6" r="1.85" fill="#20aeaa"/>
<circle cx="195.2" cy="402.2" r="1.85" fill="#129896"/>
<circle cx="314.6" cy="401.5" r="1.85" fill="#20aeaa"/>
<circle cx="144.7" cy="397.1" r="1.85" fill="#20aeaa"/>
<circle cx="231.8" cy="403.4" r="1.85" fill="#139593"/>
<circle cx="317.8" cy="406.4" r="1.85" fill="#129896"/>
<circle cx="259.4" cy="395.9" r="1.85" fill="#20aeaa"/>
<circle cx="224.1" cy="400.4" r="1.85" fill="#129896"/>
<circle cx="250.3" cy="398.9" r="1.85" fill="#16a09d"/>
<circle cx="180.1" cy="405.3" r="1.85" fill="#16a09d"/>
<circle cx="67.2" cy="408.7" r="1.85" fill="#1ba8a4"/>
<circle cx="285.4" cy="393.6" r="1.85" fill="#129896"/>
<circle cx="123.2" cy="406.3" r="1.85" fill="#129896"/>
<circle cx="198.1" cy="404.7" r="1.85" fill="#1ba8a4"/>
<circle cx="159.4" cy="402.0" r="1.85" fill="#1ba8a4"/>
<circle cx="219.9" cy="399.8" r="1.85" fill="#20aeaa"/>
<circle cx="208.5" cy="400.3" r="1.85" fill="#20aeaa"/>
<circle cx="227.4" cy="392.7" r="1.85" fill="#139593"/>
<circle cx="96.8" cy="395.0" r="1.85" fill="#139593"/>
<circle cx="331.2" cy="403.4" r="1.85" fill="#16a09d"/>
<circle cx="145.2" cy="401.2" r="1.85" fill="#20aeaa"/>
<circle cx="281.9" cy="389.7" r="1.85" fill="#20aeaa"/>
<circle cx="105.3" cy="400.2" r="1.85" fill="#16a09d"/>
<circle cx="112.8" cy="397.5" r="1.85" fill="#1ba8a4"/>
<circle cx="157.1" cy="406.1" r="1.85" fill="#1ba8a4"/>
<circle cx="156.3" cy="393.3" r="1.85" fill="#20aeaa"/>
<circle cx="201.0" cy="405.2" r="1.85" fill="#16a09d"/>
<circle cx="55.6" cy="399.3" r="1.85" fill="#129896"/>
<circle cx="299.2" cy="394.4" r="1.85" fill="#20aeaa"/>
<circle cx="166.6" cy="396.9" r="1.85" fill="#16a09d"/>
<circle cx="229.7" cy="397.9" r="1.85" fill="#10908f"/>
<circle cx="331.4" cy="404.7" r="1.85" fill="#139593"/>
<circle cx="108.7" cy="395.7" r="1.85" fill="#16a09d"/>
<circle cx="211.9" cy="400.7" r="1.85" fill="#16a09d"/>
<circle cx="231.8" cy="398.3" r="1.85" fill="#129896"/>
<circle cx="254.9" cy="400.6" r="1.85" fill="#1ba8a4"/>
<circle cx="287.7" cy="388.7" r="1.85" fill="#10908f"/>
<circle cx="201.2" cy="404.6" r="1.85" fill="#139593"/>
<circle cx="85.0" cy="400.7" r="1.85" fill="#1ba8a4"/>
<circle cx="88.4" cy="399.4" r="1.85" fill="#129896"/>
<circle cx="216.1" cy="402.0" r="1.85" fill="#1ba8a4"/>
<circle cx="69.4" cy="407.2" r="1.85" fill="#129896"/>
<circle cx="234.2" cy="398.1" r="1.85" fill="#20aeaa"/>
<circle cx="287.7" cy="393.6" r="1.85" fill="#16a09d"/>
<circle cx="79.5" cy="399.5" r="1.85" fill="#16a09d"/>
<circle cx="125.9" cy="398.5" r="1.85" fill="#10908f"/>
<circle cx="79.6" cy="401.2" r="1.85" fill="#20aeaa"/>
<circle cx="163.7" cy="399.7" r="1.85" fill="#16a09d"/>
<circle cx="89.3" cy="396.8" r="1.85" fill="#129896"/>
<circle cx="329.5" cy="404.6" r="1.85" fill="#1ba8a4"/>
<circle cx="105.5" cy="395.3" r="1.85" fill="#16a09d"/>
<circle cx="180.3" cy="396.8" r="1.85" fill="#129896"/>
<circle cx="261.9" cy="392.2" r="1.85" fill="#16a09d"/>
<circle cx="313.3" cy="401.4" r="1.85" fill="#16a09d"/>
<circle cx="153.2" cy="400.9" r="1.85" fill="#139593"/>
<circle cx="244.3" cy="399.2" r="1.85" fill="#20aeaa"/>
<circle cx="310.8" cy="391.2" r="1.85" fill="#20aeaa"/>
<circle cx="104.9" cy="395.1" r="1.85" fill="#16a09d"/>
<circle cx="305.7" cy="393.7" r="1.85" fill="#20aeaa"/>
<circle cx="256.4" cy="397.2" r="1.85" fill="#129896"/>
<circle cx="164.3" cy="396.0" r="1.85" fill="#10908f"/>
<circle cx="322.9" cy="402.5" r="1.85" fill="#16a09d"/>
<circle cx="249.1" cy="400.9" r="1.85" fill="#16a09d"/>
<circle cx="58.8" cy="405.3" r="1.85" fill="#129896"/>
<circle cx="233.0" cy="401.8" r="1.85" fill="#16a09d"/>
<circle cx="131.7" cy="394.4" r="1.85" fill="#20aeaa"/>
<circle cx="298.1" cy="397.4" r="1.85" fill="#10908f"/>
<circle cx="182.9" cy="396.1" r="1.85" fill="#139593"/>
<circle cx="223.1" cy="401.0" r="1.85" fill="#129896"/>
<circle cx="71.0" cy="401.3" r="1.85" fill="#20aeaa"/>
<circle cx="268.7" cy="391.0" r="1.85" fill="#129896"/>
<circle cx="304.9" cy="392.3" r="1.85" fill="#129896"/>
<circle cx="83.8" cy="404.6" r="1.85" fill="#16a09d"/>
<circle cx="194.7" cy="397.3" r="1.85" fill="#129896"/>
<circle cx="285.0" cy="392.3" r="1.85" fill="#1ba8a4"/>
<circle cx="252.0" cy="403.9" r="1.85" fill="#10908f"/>
<circle cx="134.5" cy="401.6" r="1.85" fill="#139593"/>
<circle cx="153.7" cy="395.4" r="1.85" fill="#16a09d"/>
<circle cx="193.9" cy="395.5" r="1.85" fill="#20aeaa"/>
<circle cx="97.3" cy="399.8" r="1.85" fill="#1ba8a4"/>
<circle cx="316.8" cy="405.4" r="1.85" fill="#10908f"/>
<circle cx="329.1" cy="401.3" r="1.85" fill="#16a09d"/>
<circle cx="119.5" cy="404.6" r="1.85" fill="#20aeaa"/>
<circle cx="75.2" cy="402.2" r="1.85" fill="#16a09d"/>
<circle cx="306.7" cy="397.3" r="1.85" fill="#16a09d"/>
<circle cx="245.7" cy="396.8" r="1.85" fill="#10908f"/>
<circle cx="218.3" cy="396.4" r="1.85" fill="#10908f"/>
<circle cx="252.7" cy="393.0" r="1.85" fill="#16a09d"/>
<circle cx="288.5" cy="388.3" r="1.85" fill="#1ba8a4"/>
<circle cx="129.6" cy="396.7" r="1.85" fill="#16a09d"/>
<circle cx="230.4" cy="403.5" r="1.85" fill="#139593"/>
<circle cx="318.6" cy="394.2" r="1.85" fill="#129896"/>
<circle cx="144.8" cy="407.5" r="1.85" fill="#129896"/>
<circle cx="61.2" cy="405.0" r="1.85" fill="#139593"/>
<circle cx="112.2" cy="394.3" r="1.85" fill="#10908f"/>
<circle cx="78.9" cy="410.5" r="1.85" fill="#20aeaa"/>
<circle cx="94.1" cy="397.9" r="1.85" fill="#16a09d"/>
<circle cx="154.6" cy="394.5" r="1.85" fill="#10908f"/>
<circle cx="318.8" cy="403.8" r="1.85" fill="#129896"/>
<circle cx="184.3" cy="392.3" r="1.85" fill="#10908f"/>
<circle cx="330.5" cy="401.9" r="1.85" fill="#1ba8a4"/>
<circle cx="76.3" cy="403.0" r="1.85" fill="#10908f"/>
<circle cx="321.8" cy="394.7" r="1.85" fill="#10908f"/>
<circle cx="245.5" cy="391.1" r="1.85" fill="#10908f"/>
<circle cx="191.6" cy="397.0" r="1.85" fill="#16a09d"/>
<circle cx="285.1" cy="389.8" r="1.85" fill="#16a09d"/>
<circle cx="71.0" cy="403.5" r="1.85" fill="#139593"/>
<circle cx="113.6" cy="401.3" r="1.85" fill="#139593"/>
<circle cx="59.9" cy="403.7" r="1.85" fill="#1ba8a4"/>
<circle cx="115.9" cy="395.3" r="1.85" fill="#1ba8a4"/>
<circle cx="244.0" cy="391.0" r="1.85" fill="#1ba8a4"/>
<circle cx="319.8" cy="396.0" r="1.85" fill="#10908f"/>
<circle cx="210.2" cy="406.0" r="1.85" fill="#1ba8a4"/>
<circle cx="73.3" cy="402.4" r="1.85" fill="#10908f"/>
<circle cx="98.3" cy="397.7" r="1.85" fill="#20aeaa"/>
<circle cx="191.2" cy="390.8" r="1.85" fill="#16a09d"/>
<circle cx="97.4" cy="402.3" r="1.85" fill="#16a09d"/>
<circle cx="128.9" cy="398.7" r="1.85" fill="#139593"/>
<circle cx="160.3" cy="391.2" r="1.85" fill="#10908f"/>
<circle cx="306.2" cy="393.4" r="1.85" fill="#129896"/>
<circle cx="178.8" cy="401.6" r="1.85" fill="#1ba8a4"/>
<circle cx="167.1" cy="405.0" r="1.85" fill="#10908f"/>
<circle cx="212.7" cy="394.8" r="1.85" fill="#16a09d"/>
<circle cx="294.5" cy="392.3" r="1.85" fill="#16a09d"/>
<circle cx="306.7" cy="389.8" r="1.85" fill="#139593"/>
<circle cx="83.8" cy="408.5" r="1.85" fill="#16a09d"/>
<circle cx="156.4" cy="395.4" r="1.85" fill="#16a09d"/>
<circle cx="140.5" cy="399.0" r="1.85" fill="#10908f"/>
<circle cx="240.4" cy="392.9" r="1.85" fill="#129896"/>
<circle cx="213.9" cy="393.0" r="1.85" fill="#129896"/>
<circle cx="298.6" cy="394.2" r="1.85" fill="#20aeaa"/>
<circle cx="121.6" cy="398.0" r="1.85" fill="#20aeaa"/>
<circle cx="112.0" cy="399.7" r="1.85" fill="#1ba8a4"/>
<circle cx="270.7" cy="391.5" r="1.85" fill="#16a09d"/>
<circle cx="291.4" cy="392.3" r="1.85" fill="#129896"/>
<circle cx="186.0" cy="399.4" r="1.85" fill="#139593"/>
<circle cx="166.6" cy="397.0" r="1.85" fill="#16a09d"/>
<circle cx="55.5" cy="411.9" r="1.85" fill="#20aeaa"/>
<circle cx="158.7" cy="406.6" r="1.85" fill="#20aeaa"/>
<circle cx="71.1" cy="405.9" r="1.85" fill="#10908f"/>
<circle cx="148.5" cy="395.9" r="1.85" fill="#10908f"/>
<circle cx="158.2" cy="397.3" r="1.85" fill="#139593"/>
<circle cx="75.6" cy="399.9" r="1.85" fill="#16a09d"/>
<circle cx="155.8" cy="392.1" r="1.85" fill="#129896"/>
<circle cx="88.4" cy="404.6" r="1.85" fill="#16a09d"/>
<circle cx="164.1" cy="394.0" r="1.85" fill="#16a09d"/>
<circle cx="212.1" cy="394.3" r="1.85" fill="#129896"/>
<circle cx="314.8" cy="397.0" r="1.85" fill="#16a09d"/>
<circle cx="108.1" cy="392.9" r="1.85" fill="#20aeaa"/>
<circle cx="154.5" cy="407.0" r="1.85" fill="#10908f"/>
<circle cx="254.9" cy="395.9" r="1.85" fill="#10908f"/>
<circle cx="119.4" cy="395.4" r="1.85" fill="#139593"/>
<circle cx="134.1" cy="396.3" r="1.85" fill="#16a09d"/>
<circle cx="131.1" cy="399.1" r="1.85" fill="#20aeaa"/>
<circle cx="228.1" cy="393.8" r="1.85" fill="#16a09d"/>
<circle cx="317.6" cy="404.4" r="1.85" fill="#1ba8a4"/>
<circle cx="67.4" cy="407.3" r="1.85" fill="#129896"/>
<circle cx="130.0" cy="406.0" r="1.85" fill="#10908f"/>
<circle cx="233.7" cy="395.7" r="1.85" fill="#1ba8a4"/>
<circle cx="119.7" cy="392.8" r="1.85" fill="#139593"/>
<circle cx="151.9" cy="396.5" r="1.85" fill="#20aeaa"/>
<circle cx="171.7" cy="394.4" r="1.85" fill="#139593"/>
<circle cx="327.3" cy="396.3" r="1.85" fill="#1ba8a4"/>
<circle cx="287.7" cy="387.7" r="1.85" fill="#1ba8a4"/>
<circle cx="151.9" cy="403.9" r="1.85" fill="#10908f"/>
<circle cx="209.5" cy="399.0" r="1.85" fill="#16a09d"/>
<circle cx="192.2" cy="390.2" r="1.85" fill="#139593"/>
<circle cx="67.2" cy="400.3" r="1.85" fill="#10908f"/>
<circle cx="275.5" cy="387.8" r="1.85" fill="#10908f"/>
<circle cx="224.6" cy="397.1" r="1.85" fill="#129896"/>
<circle cx="218.8" cy="394.0" r="1.85" fill="#16a09d"/>
<circle cx="129.4" cy="394.6" r="1.85" fill="#139593"/>
<circle cx="178.8" cy="407.0" r="1.85" fill="#16a09d"/>
<circle cx="251.9" cy="393.3" r="1.85" fill="#1ba8a4"/>
<circle cx="241.0" cy="391.7" r="1.85" fill="#16a09d"/>
<circle cx="327.9" cy="397.3" r="1.85" fill="#16a09d"/>
<circle cx="271.1" cy="391.7" r="1.85" fill="#16a09d"/>
<circle cx="205.4" cy="401.1" r="1.85" fill="#20aeaa"/>
<circle cx="186.9" cy="399.2" r="1.85" fill="#10908f"/>
<circle cx="105.7" cy="396.6" r="1.85" fill="#16a09d"/>
<circle cx="194.4" cy="400.1" r="1.85" fill="#139593"/>
<circle cx="85.1" cy="398.7" r="1.85" fill="#16a09d"/>
<circle cx="66.2" cy="408.2" r="1.85" fill="#129896"/>
<circle cx="200.1" cy="399.4" r="1.85" fill="#129896"/>
<circle cx="254.4" cy="392.1" r="1.85" fill="#20aeaa"/>
<circle cx="329.6" cy="393.5" r="1.85" fill="#10908f"/>
<circle cx="202.6" cy="400.7" r="1.85" fill="#10908f"/>
<circle cx="233.0" cy="403.9" r="1.85" fill="#129896"/>
<circle cx="70.9" cy="400.1" r="1.85" fill="#10908f"/>
<circle cx="162.9" cy="405.0" r="1.85" fill="#1ba8a4"/>
<circle cx="189.9" cy="394.9" r="1.85" fill="#139593"/>
<circle cx="249.8" cy="402.8" r="1.85" fill="#16a09d"/>
<circle cx="290.0" cy="391.0" r="1.85" fill="#1ba8a4"/>
<circle cx="247.3" cy="403.9" r="1.85" fill="#129896"/>
<circle cx="101.7" cy="395.3" r="1.85" fill="#16a09d"/>
<circle cx="282.5" cy="394.1" r="1.85" fill="#1ba8a4"/>
<circle cx="308.6" cy="393.8" r="1.85" fill="#1ba8a4"/>
<circle cx="186.8" cy="394.6" r="1.85" fill="#139593"/>
<circle cx="110.3" cy="397.1" r="1.85" fill="#129896"/>
<circle cx="166.9" cy="399.2" r="1.85" fill="#129896"/>
<circle cx="146.2" cy="406.5" r="1.85" fill="#16a09d"/>
<circle cx="261.6" cy="395.5" r="1.85" fill="#10908f"/>
<circle cx="178.6" cy="403.9" r="1.85" fill="#16a09d"/>
<circle cx="262.1" cy="390.1" r="1.85" fill="#1ba8a4"/>
<circle cx="79.9" cy="403.0" r="1.85" fill="#1ba8a4"/>
<circle cx="329.2" cy="403.5" r="1.85" fill="#16a09d"/>
<circle cx="114.3" cy="408.5" r="1.85" fill="#20aeaa"/>
<circle cx="176.5" cy="399.2" r="1.85" fill="#139593"/>
<circle cx="290.8" cy="390.2" r="1.85" fill="#20aeaa"/>
<circle cx="128.3" cy="397.5" r="1.85" fill="#20aeaa"/>
<circle cx="85.8" cy="405.2" r="1.85" fill="#129896"/>
<circle cx="187.2" cy="393.9" r="1.85" fill="#20aeaa"/>
<circle cx="168.8" cy="403.9" r="1.85" fill="#139593"/>
<circle cx="58.4" cy="409.6" r="1.85" fill="#16a09d"/>
<circle cx="91.0" cy="395.1" r="1.85" fill="#10908f"/>
<circle cx="153.9" cy="395.3" r="1.85" fill="#1ba8a4"/>
<circle cx="60.4" cy="401.2" r="1.85" fill="#129896"/>
<circle cx="201.3" cy="400.1" r="1.85" fill="#1ba8a4"/>
<circle cx="247.3" cy="400.2" r="1.85" fill="#16a09d"/>
<circle cx="203.8" cy="403.0" r="1.85" fill="#139593"/>
<circle cx="296.5" cy="396.4" r="1.85" fill="#10908f"/>
<circle cx="200.6" cy="405.1" r="1.85" fill="#1ba8a4"/>
<circle cx="328.7" cy="397.5" r="1.85" fill="#10908f"/>
<circle cx="284.2" cy="394.3" r="1.85" fill="#16a09d"/>
<circle cx="78.6" cy="403.8" r="1.85" fill="#10908f"/>
<circle cx="96.9" cy="403.4" r="1.85" fill="#20aeaa"/>
<circle cx="70.1" cy="408.8" r="1.85" fill="#129896"/>
<circle cx="213.8" cy="393.2" r="1.85" fill="#1ba8a4"/>
<circle cx="176.4" cy="400.0" r="1.85" fill="#129896"/>
<circle cx="70.1" cy="406.3" r="1.85" fill="#139593"/>
<circle cx="180.2" cy="397.5" r="1.85" fill="#139593"/>
<circle cx="189.3" cy="396.2" r="1.85" fill="#129896"/>
<circle cx="114.5" cy="392.7" r="1.85" fill="#129896"/>
<circle cx="80.0" cy="404.7" r="1.85" fill="#20aeaa"/>
<circle cx="50.9" cy="399.1" r="1.85" fill="#10908f"/>
<circle cx="129.7" cy="406.3" r="1.85" fill="#1ba8a4"/>
<circle cx="223.7" cy="405.6" r="1.85" fill="#10908f"/>
<circle cx="115.2" cy="400.8" r="1.85" fill="#16a09d"/>
<circle cx="82.9" cy="404.8" r="1.85" fill="#129896"/>
<circle cx="72.9" cy="408.4" r="1.85" fill="#129896"/>
<circle cx="53.8" cy="408.3" r="1.85" fill="#10908f"/>
<circle cx="78.1" cy="400.8" r="1.85" fill="#139593"/>
<circle cx="225.4" cy="398.9" r="1.85" fill="#1ba8a4"/>
<circle cx="152.8" cy="400.4" r="1.85" fill="#20aeaa"/>
<circle cx="217.9" cy="399.2" r="1.85" fill="#20aeaa"/>
<circle cx="104.1" cy="395.2" r="1.85" fill="#129896"/>
<circle cx="325.9" cy="397.8" r="1.85" fill="#16a09d"/>
<circle cx="170.6" cy="405.5" r="1.85" fill="#10908f"/>
<circle cx="107.5" cy="402.0" r="1.85" fill="#20aeaa"/>
<circle cx="128.9" cy="409.1" r="1.85" fill="#139593"/>
<circle cx="72.7" cy="411.7" r="1.85" fill="#1ba8a4"/>
<circle cx="72.3" cy="407.9" r="1.85" fill="#129896"/>
<circle cx="308.3" cy="395.7" r="1.85" fill="#20aeaa"/>
<circle cx="205.9" cy="393.1" r="1.85" fill="#139593"/>
<circle cx="235.1" cy="398.5" r="1.85" fill="#20aeaa"/>
<circle cx="276.0" cy="391.9" r="1.85" fill="#129896"/>
<circle cx="300.9" cy="397.5" r="1.85" fill="#139593"/>
<circle cx="197.2" cy="391.5" r="1.85" fill="#139593"/>
<circle cx="258.7" cy="394.1" r="1.85" fill="#10908f"/>
<circle cx="302.2" cy="394.4" r="1.85" fill="#10908f"/>
<circle cx="121.8" cy="404.3" r="1.85" fill="#16a09d"/>
<circle cx="89.8" cy="406.8" r="1.85" fill="#129896"/>
<circle cx="252.6" cy="403.4" r="1.85" fill="#20aeaa"/>
<circle cx="206.3" cy="393.5" r="1.85" fill="#10908f"/>
<circle cx="67.5" cy="399.0" r="1.85" fill="#20aeaa"/>
<circle cx="101.7" cy="399.3" r="1.85" fill="#129896"/>
<circle cx="107.2" cy="397.6" r="1.85" fill="#1ba8a4"/>
<circle cx="83.6" cy="397.1" r="1.85" fill="#1ba8a4"/>
<circle cx="67.2" cy="399.1" r="1.85" fill="#20aeaa"/>
<circle cx="113.5" cy="393.4" r="1.85" fill="#10908f"/>
<circle cx="108.4" cy="401.8" r="1.85" fill="#139593"/>
<circle cx="141.8" cy="394.1" r="1.85" fill="#139593"/>
<circle cx="149.8" cy="397.0" r="1.85" fill="#20aeaa"/>
<circle cx="121.2" cy="406.4" r="1.85" fill="#20aeaa"/>
<circle cx="283.2" cy="394.3" r="1.85" fill="#20aeaa"/>
<circle cx="122.6" cy="390.3" r="1.85" fill="#10908f"/>
<circle cx="193.3" cy="399.0" r="1.85" fill="#1ba8a4"/>
<circle cx="330.4" cy="405.4" r="1.85" fill="#20aeaa"/>
<circle cx="246.2" cy="390.8" r="1.85" fill="#1ba8a4"/>
<circle cx="179.5" cy="404.3" r="1.85" fill="#10908f"/>
<circle cx="122.6" cy="409.4" r="1.85" fill="#16a09d"/>
<circle cx="180.6" cy="399.5" r="1.85" fill="#20aeaa"/>
<circle cx="205.1" cy="394.2" r="1.85" fill="#10908f"/>
<circle cx="188.5" cy="392.7" r="1.85" fill="#139593"/>
<circle cx="78.2" cy="397.4" r="1.85" fill="#129896"/>
<circle cx="276.1" cy="386.5" r="1.85" fill="#10908f"/>
<circle cx="200.6" cy="398.1" r="1.85" fill="#20aeaa"/>
<circle cx="320.9" cy="394.8" r="1.85" fill="#20aeaa"/>
<circle cx="222.8" cy="400.0" r="1.85" fill="#1ba8a4"/>
<circle cx="318.2" cy="395.2" r="1.85" fill="#1ba8a4"/>
<circle cx="143.4" cy="394.1" r="1.85" fill="#129896"/>
<circle cx="228.6" cy="399.1" r="1.85" fill="#139593"/>
<circle cx="308.1" cy="392.8" r="1.85" fill="#20aeaa"/>
<circle cx="146.4" cy="397.4" r="1.85" fill="#10908f"/>
<circle cx="176.2" cy="396.6" r="1.85" fill="#20aeaa"/>
<circle cx="216.7" cy="393.4" r="1.85" fill="#20aeaa"/>
<circle cx="193.5" cy="395.9" r="1.85" fill="#10908f"/>
<circle cx="145.2" cy="394.1" r="1.85" fill="#16a09d"/>
<circle cx="253.3" cy="389.8" r="1.85" fill="#20aeaa"/>
<circle cx="253.7" cy="389.9" r="1.85" fill="#139593"/>
<circle cx="116.2" cy="394.8" r="1.85" fill="#10908f"/>
<circle cx="171.6" cy="392.2" r="1.85" fill="#129896"/>
<circle cx="307.7" cy="394.4" r="1.85" fill="#20aeaa"/>
<circle cx="79.8" cy="400.7" r="1.85" fill="#16a09d"/>
<circle cx="260.4" cy="395.9" r="1.85" fill="#129896"/>
<circle cx="210.8" cy="400.6" r="1.85" fill="#16a09d"/>
<circle cx="192.5" cy="392.2" r="1.85" fill="#20aeaa"/>
<circle cx="331.6" cy="404.5" r="1.85" fill="#1ba8a4"/>
<circle cx="263.1" cy="394.8" r="1.85" fill="#16a09d"/>
<circle cx="128.8" cy="405.1" r="1.85" fill="#1ba8a4"/>
<circle cx="148.2" cy="394.1" r="1.85" fill="#20aeaa"/>
<circle cx="297.6" cy="398.5" r="1.85" fill="#20aeaa"/>
<circle cx="139.6" cy="408.0" r="1.85" fill="#16a09d"/>
<circle cx="241.8" cy="392.2" r="1.85" fill="#10908f"/>
<circle cx="303.0" cy="394.8" r="1.85" fill="#139593"/>
<circle cx="54.4" cy="409.0" r="1.85" fill="#10908f"/>
<circle cx="199.3" cy="395.9" r="1.85" fill="#16a09d"/>
<circle cx="207.5" cy="405.7" r="1.85" fill="#16a09d"/>
<circle cx="85.7" cy="409.4" r="1.85" fill="#20aeaa"/>
<circle cx="300.3" cy="394.9" r="1.85" fill="#129896"/>
<circle cx="187.0" cy="398.3" r="1.85" fill="#10908f"/>
<circle cx="78.0" cy="404.4" r="1.85" fill="#20aeaa"/>
<circle cx="81.0" cy="398.1" r="1.85" fill="#16a09d"/>
<circle cx="213.4" cy="405.2" r="1.85" fill="#16a09d"/>
<circle cx="260.7" cy="393.3" r="1.85" fill="#129896"/>
<circle cx="95.7" cy="401.9" r="1.85" fill="#139593"/>
<circle cx="324.3" cy="400.8" r="1.85" fill="#1ba8a4"/>
<circle cx="122.1" cy="406.2" r="1.85" fill="#20aeaa"/>
<circle cx="177.1" cy="403.5" r="1.85" fill="#1ba8a4"/>
<circle cx="280.3" cy="391.5" r="1.85" fill="#129896"/>
<circle cx="247.3" cy="389.1" r="1.85" fill="#10908f"/>
<circle cx="177.0" cy="391.2" r="1.85" fill="#20aeaa"/>
<circle cx="58.9" cy="409.2" r="1.85" fill="#10908f"/>
<circle cx="163.6" cy="393.8" r="1.85" fill="#1ba8a4"/>
<circle cx="320.5" cy="396.1" r="1.85" fill="#1ba8a4"/>
<circle cx="135.2" cy="402.0" r="1.85" fill="#20aeaa"/>
<circle cx="136.9" cy="398.4" r="1.85" fill="#129896"/>
<circle cx="244.6" cy="398.5" r="1.85" fill="#20aeaa"/>
<circle cx="171.6" cy="404.9" r="1.85" fill="#20aeaa"/>
<circle cx="164.7" cy="399.4" r="1.85" fill="#1ba8a4"/>
<circle cx="86.4" cy="399.7" r="1.85" fill="#1ba8a4"/>
<circle cx="234.2" cy="394.2" r="1.85" fill="#10908f"/>
<circle cx="117.8" cy="390.2" r="1.85" fill="#1ba8a4"/>
<circle cx="299.6" cy="389.9" r="1.85" fill="#10908f"/>
<circle cx="227.2" cy="400.9" r="1.85" fill="#1ba8a4"/>
<circle cx="111.6" cy="410.0" r="1.85" fill="#139593"/>
<circle cx="91.5" cy="394.1" r="1.85" fill="#16a09d"/>
<circle cx="71.5" cy="399.2" r="1.85" fill="#10908f"/>
<circle cx="236.3" cy="398.6" r="1.85" fill="#129896"/>
<circle cx="132.6" cy="392.0" r="1.85" fill="#129896"/>
<circle cx="128.4" cy="405.5" r="1.85" fill="#139593"/>
<circle cx="57.3" cy="399.0" r="1.85" fill="#1ba8a4"/>
<circle cx="154.0" cy="405.3" r="1.85" fill="#129896"/>
<circle cx="247.1" cy="390.3" r="1.85" fill="#139593"/>
<circle cx="254.7" cy="396.2" r="1.85" fill="#139593"/>
<circle cx="311.1" cy="390.3" r="1.85" fill="#20aeaa"/>
<circle cx="181.9" cy="398.1" r="1.85" fill="#20aeaa"/>
<circle cx="93.2" cy="401.8" r="1.85" fill="#1ba8a4"/>
<circle cx="297.5" cy="391.8" r="1.85" fill="#129896"/>
<circle cx="326.2" cy="398.3" r="1.85" fill="#20aeaa"/>
<circle cx="100.2" cy="393.6" r="1.85" fill="#139593"/>
<circle cx="276.8" cy="395.0" r="1.85" fill="#129896"/>
<circle cx="274.1" cy="393.3" r="1.85" fill="#129896"/>
<circle cx="110.5" cy="391.8" r="1.85" fill="#139593"/>
<circle cx="108.3" cy="404.6" r="1.85" fill="#139593"/>
<circle cx="247.6" cy="389.7" r="1.85" fill="#139593"/>
<circle cx="287.3" cy="388.0" r="1.85" fill="#1ba8a4"/>
<circle cx="287.8" cy="387.6" r="1.85" fill="#1ba8a4"/>
<circle cx="204.1" cy="401.7" r="1.85" fill="#20aeaa"/>
<circle cx="278.0" cy="392.0" r="1.85" fill="#139593"/>
<circle cx="122.2" cy="405.5" r="1.85" fill="#129896"/>
<circle cx="331.7" cy="397.5" r="1.85" fill="#16a09d"/>
<circle cx="321.6" cy="392.9" r="1.85" fill="#129896"/>
<circle cx="320.0" cy="406.5" r="1.85" fill="#10908f"/>
<circle cx="126.9" cy="392.3" r="1.85" fill="#10908f"/>
<circle cx="227.9" cy="399.7" r="1.85" fill="#139593"/>
<circle cx="87.3" cy="410.7" r="1.85" fill="#1ba8a4"/>
<circle cx="98.2" cy="402.5" r="1.85" fill="#10908f"/>
<circle cx="270.2" cy="386.8" r="1.85" fill="#139593"/>
<circle cx="210.3" cy="395.4" r="1.85" fill="#139593"/>
<circle cx="194.9" cy="392.1" r="1.85" fill="#139593"/>
<circle cx="58.2" cy="408.8" r="1.85" fill="#20aeaa"/>
<circle cx="218.5" cy="401.3" r="1.85" fill="#129896"/>
<circle cx="203.9" cy="398.1" r="1.85" fill="#10908f"/>
<circle cx="115.1" cy="409.2" r="1.85" fill="#129896"/>
<circle cx="118.4" cy="399.6" r="1.85" fill="#20aeaa"/>
<circle cx="248.1" cy="398.5" r="1.85" fill="#1ba8a4"/>
<circle cx="62.4" cy="410.3" r="1.85" fill="#1ba8a4"/>
<circle cx="83.9" cy="408.9" r="1.85" fill="#16a09d"/>
<circle cx="210.7" cy="398.2" r="1.85" fill="#20aeaa"/>
<circle cx="116.1" cy="401.7" r="1.85" fill="#139593"/>
<circle cx="321.0" cy="406.7" r="1.85" fill="#1ba8a4"/>
<circle cx="324.8" cy="396.9" r="1.85" fill="#16a09d"/>
<circle cx="65.7" cy="410.5" r="1.85" fill="#20aeaa"/>
<circle cx="54.6" cy="407.9" r="1.85" fill="#16a09d"/>
<circle cx="139.8" cy="393.2" r="1.85" fill="#10908f"/>
<circle cx="146.0" cy="395.8" r="1.85" fill="#10908f"/>
<circle cx="141.7" cy="409.1" r="1.85" fill="#20aeaa"/>
<circle cx="224.3" cy="400.4" r="1.85" fill="#1ba8a4"/>
<circle cx="182.8" cy="398.2" r="1.85" fill="#10908f"/>
<circle cx="249.0" cy="405.7" r="1.85" fill="#1ba8a4"/>
<circle cx="293.6" cy="386.5" r="1.85" fill="#10908f"/>
<circle cx="301.7" cy="398.8" r="1.85" fill="#1ba8a4"/>
<circle cx="121.2" cy="393.1" r="1.85" fill="#16a09d"/>
<circle cx="295.3" cy="391.4" r="1.85" fill="#1ba8a4"/>
<circle cx="197.3" cy="403.6" r="1.85" fill="#1ba8a4"/>
<circle cx="269.7" cy="394.2" r="1.85" fill="#20aeaa"/>
<circle cx="164.4" cy="390.4" r="1.85" fill="#1ba8a4"/>
<circle cx="107.0" cy="399.8" r="1.85" fill="#1ba8a4"/>
<circle cx="290.0" cy="394.1" r="1.85" fill="#16a09d"/>
<circle cx="119.9" cy="394.9" r="1.85" fill="#139593"/>
<circle cx="139.2" cy="403.1" r="1.85" fill="#20aeaa"/>
<circle cx="274.7" cy="394.1" r="1.85" fill="#10908f"/>
<circle cx="141.5" cy="400.2" r="1.85" fill="#1ba8a4"/>
<circle cx="186.2" cy="402.7" r="1.85" fill="#1ba8a4"/>
<circle cx="243.9" cy="391.7" r="1.85" fill="#139593"/>
<circle cx="137.9" cy="411.3" r="1.85" fill="#20aeaa"/>
<circle cx="301.7" cy="398.4" r="1.85" fill="#139593"/>
<circle cx="240.4" cy="397.9" r="1.85" fill="#20aeaa"/>
<circle cx="217.1" cy="400.8" r="1.85" fill="#10908f"/>
<circle cx="67.0" cy="403.4" r="1.85" fill="#1ba8a4"/>
<circle cx="220.2" cy="406.9" r="1.85" fill="#139593"/>
<circle cx="170.9" cy="397.4" r="1.85" fill="#1ba8a4"/>
<circle cx="96.9" cy="404.2" r="1.85" fill="#20aeaa"/>
<circle cx="136.7" cy="399.1" r="1.85" fill="#10908f"/>
<circle cx="327.4" cy="401.8" r="1.85" fill="#20aeaa"/>
<circle cx="139.6" cy="403.5" r="1.85" fill="#1ba8a4"/>
<circle cx="265.5" cy="395.5" r="1.85" fill="#129896"/>
<circle cx="263.6" cy="389.6" r="1.85" fill="#1ba8a4"/>
<circle cx="173.0" cy="406.6" r="1.85" fill="#129896"/>
<circle cx="212.9" cy="393.6" r="1.85" fill="#1ba8a4"/>
<circle cx="277.0" cy="387.8" r="1.85" fill="#1ba8a4"/>
<circle cx="174.4" cy="409.2" r="1.85" fill="#129896"/>
<circle cx="133.0" cy="410.0" r="1.85" fill="#139593"/>
<circle cx="289.3" cy="386.7" r="1.85" fill="#1ba8a4"/>
<circle cx="76.8" cy="400.2" r="1.85" fill="#16a09d"/>
<circle cx="53.4" cy="399.1" r="1.85" fill="#139593"/>
<circle cx="309.6" cy="390.5" r="1.85" fill="#1ba8a4"/>
<circle cx="143.9" cy="405.2" r="1.85" fill="#129896"/>
<circle cx="63.7" cy="405.7" r="1.85" fill="#16a09d"/>
<circle cx="114.4" cy="397.5" r="1.85" fill="#20aeaa"/>
<circle cx="89.8" cy="398.2" r="1.85" fill="#10908f"/>
<circle cx="180.4" cy="392.7" r="1.85" fill="#1ba8a4"/>
<circle cx="175.0" cy="397.6" r="1.85" fill="#16a09d"/>
<circle cx="238.5" cy="396.8" r="1.85" fill="#1ba8a4"/>
<circle cx="119.1" cy="394.8" r="1.85" fill="#20aeaa"/>
<circle cx="142.4" cy="399.8" r="1.85" fill="#139593"/>
<circle cx="103.9" cy="393.1" r="1.85" fill="#139593"/>
<circle cx="90.6" cy="394.1" r="1.85" fill="#20aeaa"/>
<circle cx="248.5" cy="401.9" r="1.85" fill="#20aeaa"/>
<circle cx="318.9" cy="394.6" r="1.85" fill="#139593"/>
<circle cx="325.7" cy="401.5" r="1.85" fill="#16a09d"/>
<circle cx="89.6" cy="395.1" r="1.85" fill="#20aeaa"/>
<circle cx="307.2" cy="398.9" r="1.85" fill="#10908f"/>
<circle cx="174.3" cy="408.5" r="1.85" fill="#139593"/>
<circle cx="117.8" cy="393.6" r="1.85" fill="#16a09d"/>
<circle cx="322.8" cy="399.4" r="1.85" fill="#10908f"/>
<circle cx="185.2" cy="401.8" r="1.85" fill="#1ba8a4"/>
<circle cx="160.6" cy="395.8" r="1.85" fill="#20aeaa"/>
<circle cx="112.4" cy="406.4" r="1.85" fill="#139593"/>
<circle cx="87.4" cy="401.3" r="1.85" fill="#20aeaa"/>
<circle cx="90.4" cy="397.6" r="1.85" fill="#10908f"/>
<circle cx="245.4" cy="388.7" r="1.85" fill="#16a09d"/>
<circle cx="109.8" cy="395.9" r="1.85" fill="#10908f"/>
<circle cx="254.1" cy="401.2" r="1.85" fill="#10908f"/>
<circle cx="209.7" cy="396.8" r="1.85" fill="#16a09d"/>
<circle cx="132.1" cy="392.1" r="1.85" fill="#139593"/>
<circle cx="93.1" cy="398.7" r="1.85" fill="#10908f"/>
<circle cx="159.0" cy="398.6" r="1.85" fill="#1ba8a4"/>
<circle cx="144.4" cy="394.3" r="1.85" fill="#139593"/>
<circle cx="122.7" cy="406.4" r="1.85" fill="#20aeaa"/>
<circle cx="129.5" cy="408.2" r="1.85" fill="#16a09d"/>
<circle cx="137.0" cy="405.8" r="1.85" fill="#10908f"/>
<circle cx="315.3" cy="395.8" r="1.85" fill="#139593"/>
<circle cx="138.5" cy="395.8" r="1.85" fill="#16a09d"/>
<circle cx="125.4" cy="398.5" r="1.85" fill="#129896"/>
<circle cx="248.1" cy="393.9" r="1.85" fill="#16a09d"/>
<circle cx="156.5" cy="390.6" r="1.85" fill="#1ba8a4"/>
<circle cx="186.7" cy="396.7" r="1.85" fill="#10908f"/>
<circle cx="93.4" cy="404.3" r="1.85" fill="#20aeaa"/>
<circle cx="329.7" cy="398.4" r="1.85" fill="#16a09d"/>
<circle cx="107.4" cy="394.6" r="1.85" fill="#1ba8a4"/>
<circle cx="158.0" cy="398.8" r="1.85" fill="#1ba8a4"/>
<circle cx="66.6" cy="406.8" r="1.85" fill="#139593"/>
<circle cx="91.5" cy="399.0" r="1.85" fill="#10908f"/>
<circle cx="154.4" cy="405.9" r="1.85" fill="#129896"/>
<circle cx="213.3" cy="408.7" r="1.85" fill="#139593"/>
<circle cx="239.9" cy="394.5" r="1.85" fill="#20aeaa"/>
<circle cx="184.5" cy="393.5" r="1.85" fill="#16a09d"/>
<circle cx="178.6" cy="403.6" r="1.85" fill="#20aeaa"/>
<circle cx="66.7" cy="411.9" r="1.85" fill="#1ba8a4"/>
<circle cx="181.1" cy="390.9" r="1.85" fill="#1ba8a4"/>
<circle cx="126.7" cy="393.6" r="1.85" fill="#20aeaa"/>
<circle cx="331.3" cy="404.7" r="1.85" fill="#20aeaa"/>
<circle cx="257.6" cy="390.2" r="1.85" fill="#10908f"/>
<circle cx="136.9" cy="394.7" r="1.85" fill="#16a09d"/>
<circle cx="246.5" cy="398.7" r="1.85" fill="#20aeaa"/>
<circle cx="110.0" cy="397.3" r="1.85" fill="#10908f"/>
<circle cx="272.3" cy="393.7" r="1.85" fill="#1ba8a4"/>
<circle cx="215.4" cy="405.4" r="1.85" fill="#129896"/>
<circle cx="109.5" cy="394.8" r="1.85" fill="#1ba8a4"/>
<circle cx="251.9" cy="394.7" r="1.85" fill="#129896"/>
<circle cx="153.2" cy="393.7" r="1.85" fill="#1ba8a4"/>
<circle cx="321.5" cy="407.0" r="1.85" fill="#129896"/>
<circle cx="98.0" cy="395.9" r="1.85" fill="#10908f"/>
<circle cx="268.2" cy="387.0" r="1.85" fill="#129896"/>
<circle cx="176.9" cy="404.3" r="1.85" fill="#16a09d"/>
<circle cx="272.1" cy="394.5" r="1.85" fill="#10908f"/>
<circle cx="143.3" cy="395.5" r="1.85" fill="#139593"/>
<circle cx="208.4" cy="404.5" r="1.85" fill="#129896"/>
<circle cx="92.3" cy="397.9" r="1.85" fill="#10908f"/>
<circle cx="209.0" cy="406.9" r="1.85" fill="#1ba8a4"/>
<circle cx="183.0" cy="393.6" r="1.85" fill="#1ba8a4"/>
<circle cx="258.7" cy="398.2" r="1.85" fill="#16a09d"/>
<circle cx="209.3" cy="396.2" r="1.85" fill="#20aeaa"/>
<circle cx="273.2" cy="390.0" r="1.85" fill="#139593"/>
<circle cx="161.9" cy="398.2" r="1.85" fill="#139593"/>
<circle cx="223.0" cy="400.1" r="1.85" fill="#20aeaa"/>
<circle cx="219.7" cy="407.6" r="1.85" fill="#139593"/>
<circle cx="168.9" cy="394.7" r="1.85" fill="#16a09d"/>
<circle cx="114.5" cy="402.8" r="1.85" fill="#1ba8a4"/>
<circle cx="139.7" cy="396.6" r="1.85" fill="#1ba8a4"/>
<circle cx="213.6" cy="393.0" r="1.85" fill="#1ba8a4"/>
<circle cx="112.1" cy="390.6" r="1.85" fill="#1ba8a4"/>
<circle cx="68.2" cy="409.4" r="1.85" fill="#139593"/>
<circle cx="236.0" cy="394.9" r="1.85" fill="#1ba8a4"/>
<circle cx="116.3" cy="396.1" r="1.85" fill="#20aeaa"/>
<circle cx="309.5" cy="389.7" r="1.85" fill="#10908f"/>
<circle cx="236.7" cy="389.6" r="1.85" fill="#10908f"/>
<circle cx="272.7" cy="392.0" r="1.85" fill="#20aeaa"/>
<circle cx="314.8" cy="403.6" r="1.85" fill="#20aeaa"/>
<circle cx="264.5" cy="393.0" r="1.85" fill="#20aeaa"/>
<circle cx="126.7" cy="391.6" r="1.85" fill="#10908f"/>
<circle cx="252.1" cy="405.2" r="1.85" fill="#139593"/>
<circle cx="315.4" cy="402.2" r="1.85" fill="#20aeaa"/>
<circle cx="68.3" cy="404.3" r="1.85" fill="#10908f"/>
<circle cx="167.4" cy="398.1" r="1.85" fill="#129896"/>
<circle cx="210.1" cy="395.4" r="1.85" fill="#20aeaa"/>
<circle cx="163.0" cy="405.6" r="1.85" fill="#129896"/>
<circle cx="183.5" cy="393.2" r="1.85" fill="#20aeaa"/>
<circle cx="133.0" cy="408.5" r="1.85" fill="#20aeaa"/>
<circle cx="242.6" cy="388.6" r="1.85" fill="#1ba8a4"/>
<circle cx="68.0" cy="409.7" r="1.85" fill="#139593"/>
<circle cx="199.1" cy="398.1" r="1.85" fill="#16a09d"/>
<circle cx="188.6" cy="400.8" r="1.85" fill="#129896"/>
<circle cx="137.8" cy="398.3" r="1.85" fill="#16a09d"/>
<circle cx="91.0" cy="399.7" r="1.85" fill="#16a09d"/>
<circle cx="249.9" cy="405.2" r="1.85" fill="#139593"/>
<circle cx="296.9" cy="398.0" r="1.85" fill="#139593"/>
<circle cx="323.5" cy="396.6" r="1.85" fill="#1ba8a4"/>
<circle cx="207.2" cy="397.3" r="1.85" fill="#139593"/>
<circle cx="303.7" cy="400.4" r="1.85" fill="#139593"/>
<circle cx="253.4" cy="392.0" r="1.85" fill="#20aeaa"/>
<circle cx="77.8" cy="401.0" r="1.85" fill="#10908f"/>
<circle cx="224.2" cy="395.1" r="1.85" fill="#139593"/>
<circle cx="184.4" cy="404.6" r="1.85" fill="#20aeaa"/>
<circle cx="315.8" cy="407.3" r="1.85" fill="#139593"/>
<circle cx="252.3" cy="398.9" r="1.85" fill="#16a09d"/>
<circle cx="197.1" cy="401.1" r="1.85" fill="#20aeaa"/>
<circle cx="196.1" cy="392.6" r="1.85" fill="#10908f"/>
<circle cx="227.6" cy="406.5" r="1.85" fill="#1ba8a4"/>
<circle cx="188.0" cy="399.6" r="1.85" fill="#20aeaa"/>
<circle cx="117.7" cy="408.6" r="1.85" fill="#139593"/>
<circle cx="67.4" cy="412.2" r="1.85" fill="#10908f"/>
<circle cx="319.1" cy="399.7" r="1.85" fill="#1ba8a4"/>
<circle cx="327.0" cy="400.7" r="1.85" fill="#129896"/>
<circle cx="311.7" cy="396.1" r="1.85" fill="#20aeaa"/>
<circle cx="174.3" cy="403.4" r="1.85" fill="#139593"/>
<circle cx="289.5" cy="388.0" r="1.85" fill="#20aeaa"/>
<circle cx="278.8" cy="387.5" r="1.85" fill="#1ba8a4"/>
<circle cx="218.1" cy="394.9" r="1.85" fill="#16a09d"/>
<circle cx="250.8" cy="389.7" r="1.85" fill="#129896"/>
<circle cx="155.6" cy="392.3" r="1.85" fill="#10908f"/>
<circle cx="136.5" cy="402.3" r="1.85" fill="#1ba8a4"/>
<circle cx="276.7" cy="391.5" r="1.85" fill="#16a09d"/>
<circle cx="329.9" cy="405.6" r="1.85" fill="#1ba8a4"/>
<circle cx="318.7" cy="405.7" r="1.85" fill="#139593"/>
<circle cx="327.0" cy="399.8" r="1.85" fill="#129896"/>
<circle cx="79.6" cy="410.1" r="1.85" fill="#10908f"/>
<circle cx="56.0" cy="398.6" r="1.85" fill="#139593"/>
<circle cx="60.9" cy="401.9" r="1.85" fill="#1ba8a4"/>
<circle cx="94.8" cy="402.8" r="1.85" fill="#129896"/>
<circle cx="112.0" cy="400.9" r="1.85" fill="#10908f"/>
<circle cx="258.7" cy="396.3" r="1.85" fill="#139593"/>
<circle cx="190.1" cy="397.0" r="1.85" fill="#10908f"/>
<circle cx="50.4" cy="393.5" r="1.85" fill="#1ba8a4"/>
<circle cx="56.0" cy="401.3" r="1.85" fill="#10908f"/>
<circle cx="51.7" cy="400.6" r="1.85" fill="#1ba8a4"/>
<circle cx="54.1" cy="401.1" r="1.85" fill="#129896"/>
<circle cx="57.2" cy="403.3" r="1.85" fill="#129896"/>
<circle cx="52.7" cy="402.7" r="1.85" fill="#16a09d"/>
<circle cx="52.0" cy="394.5" r="1.85" fill="#10908f"/>
<circle cx="56.0" cy="396.2" r="1.85" fill="#1ba8a4"/>
<circle cx="54.1" cy="403.6" r="1.85" fill="#139593"/>
<circle cx="51.8" cy="398.3" r="1.85" fill="#16a09d"/>
<circle cx="57.5" cy="411.8" r="1.85" fill="#16a09d"/>
<circle cx="55.4" cy="400.9" r="1.85" fill="#1ba8a4"/>
<circle cx="56.8" cy="411.3" r="1.85" fill="#139593"/>
<circle cx="54.7" cy="404.8" r="1.85" fill="#20aeaa"/>
<circle cx="53.2" cy="403.8" r="1.85" fill="#1ba8a4"/>
<circle cx="56.8" cy="411.5" r="1.85" fill="#20aeaa"/>
<circle cx="51.8" cy="397.3" r="1.85" fill="#20aeaa"/>
<circle cx="50.6" cy="394.0" r="1.85" fill="#16a09d"/>
<circle cx="56.5" cy="404.7" r="1.85" fill="#16a09d"/>
<circle cx="54.2" cy="405.8" r="1.85" fill="#139593"/>
<circle cx="55.5" cy="408.7" r="1.85" fill="#16a09d"/>
<circle cx="53.2" cy="395.3" r="1.85" fill="#1ba8a4"/>
<circle cx="57.6" cy="408.6" r="1.85" fill="#1ba8a4"/>
<circle cx="56.6" cy="407.7" r="1.85" fill="#20aeaa"/>
<circle cx="53.9" cy="403.8" r="1.85" fill="#10908f"/>
<circle cx="53.7" cy="395.7" r="1.85" fill="#10908f"/>
<circle cx="57.6" cy="405.8" r="1.85" fill="#20aeaa"/>
<circle cx="52.1" cy="396.9" r="1.85" fill="#139593"/>
<circle cx="55.6" cy="404.7" r="1.85" fill="#16a09d"/>
<circle cx="53.8" cy="405.0" r="1.85" fill="#139593"/>
<circle cx="54.7" cy="409.5" r="1.85" fill="#129896"/>
<circle cx="55.2" cy="402.1" r="1.85" fill="#16a09d"/>
<circle cx="56.8" cy="405.2" r="1.85" fill="#20aeaa"/>
<circle cx="57.4" cy="409.5" r="1.85" fill="#20aeaa"/>
<circle cx="55.5" cy="404.1" r="1.85" fill="#139593"/>
<circle cx="52.7" cy="402.1" r="1.85" fill="#20aeaa"/>
<circle cx="50.4" cy="393.5" r="1.85" fill="#20aeaa"/>
<circle cx="58.0" cy="400.5" r="1.85" fill="#20aeaa"/>
<circle cx="49.4" cy="389.9" r="1.85" fill="#139593"/>
<circle cx="49.7" cy="392.0" r="1.85" fill="#1ba8a4"/>
<circle cx="49.9" cy="392.1" r="1.85" fill="#1ba8a4"/>
<circle cx="50.2" cy="393.8" r="1.85" fill="#139593"/>
<circle cx="50.1" cy="395.1" r="1.85" fill="#10908f"/>
<circle cx="50.0" cy="394.7" r="1.85" fill="#20aeaa"/>
<circle cx="50.3" cy="396.7" r="1.85" fill="#20aeaa"/>
<circle cx="51.2" cy="397.9" r="1.85" fill="#1ba8a4"/>
<circle cx="51.5" cy="399.2" r="1.85" fill="#129896"/>
<circle cx="51.2" cy="399.3" r="1.85" fill="#129896"/>
<circle cx="52.0" cy="400.5" r="1.85" fill="#10908f"/>
<circle cx="51.7" cy="400.8" r="1.85" fill="#10908f"/>
<circle cx="52.2" cy="402.4" r="1.85" fill="#16a09d"/>
<circle cx="52.5" cy="403.0" r="1.85" fill="#1ba8a4"/>
<circle cx="52.0" cy="403.6" r="1.85" fill="#139593"/>
<circle cx="52.3" cy="405.7" r="1.85" fill="#129896"/>
<circle cx="52.9" cy="405.2" r="1.85" fill="#1ba8a4"/>
<circle cx="52.6" cy="406.8" r="1.85" fill="#10908f"/>
<circle cx="53.0" cy="406.8" r="1.85" fill="#129896"/>
<circle cx="53.1" cy="408.5" r="1.85" fill="#20aeaa"/>
<circle cx="53.4" cy="408.9" r="1.85" fill="#20aeaa"/>
<circle cx="54.3" cy="410.7" r="1.85" fill="#139593"/>
<circle cx="54.4" cy="411.6" r="1.85" fill="#20aeaa"/>
<circle cx="54.3" cy="411.7" r="1.85" fill="#10908f"/>
<circle cx="54.5" cy="412.6" r="1.85" fill="#129896"/>
<circle cx="55.0" cy="413.9" r="1.85" fill="#1ba8a4"/>
<circle cx="70.0" cy="424.0" r="1.85" fill="#10908f"/>
<circle cx="139.0" cy="413.0" r="1.85" fill="#10908f"/>
<circle cx="212.0" cy="386.0" r="1.85" fill="#129896"/>
<circle cx="304.0" cy="406.5" r="1.85" fill="#20aeaa"/>
<circle cx="316.0" cy="411.5" r="1.85" fill="#16a09d"/>
<circle cx="89.0" cy="411.0" r="1.85" fill="#1ba8a4"/>
</g>
<g fill="#c10db0">
<circle cx="45.3" cy="469.6" r="2.0"/>
<circle cx="45.5" cy="470.2" r="2.0"/>
<circle cx="46.1" cy="470.7" r="2.0"/>
<circle cx="46.3" cy="469.5" r="2.0"/>
<circle cx="46.9" cy="469.2" r="2.0"/>
<circle cx="47.1" cy="469.1" r="2.0"/>
<circle cx="47.7" cy="469.1" r="2.0"/>
<circle cx="47.9" cy="470.8" r="2.0"/>
<circle cx="48.5" cy="470.3" r="2.0"/>
<circle cx="48.7" cy="469.0" r="2.0"/>
<circle cx="48.5" cy="471.5" r="2.0"/>
<circle cx="49.3" cy="468.9" r="2.0"/>
<circle cx="49.5" cy="469.0" r="2.0"/>
<circle cx="50.1" cy="470.4" r="2.0"/>
<circle cx="50.3" cy="469.9" r="2.0"/>
<circle cx="50.9" cy="470.2" r="2.0"/>
<circle cx="51.1" cy="469.5" r="2.0"/>
<circle cx="51.7" cy="470.0" r="2.0"/>
<circle cx="51.9" cy="469.5" r="2.0"/>
<circle cx="52.5" cy="469.6" r="2.0"/>
<circle cx="52.7" cy="468.8" r="2.0"/>
<circle cx="53.3" cy="469.1" r="2.0"/>
<circle cx="53.5" cy="468.9" r="2.0"/>
<circle cx="54.1" cy="469.2" r="2.0"/>
<circle cx="54.3" cy="469.6" r="2.0"/>
<circle cx="54.9" cy="469.4" r="2.0"/>
<circle cx="55.1" cy="468.9" r="2.0"/>
<circle cx="55.7" cy="469.1" r="2.0"/>
<circle cx="55.9" cy="469.2" r="2.0"/>
<circle cx="56.5" cy="470.2" r="2.0"/>
<circle cx="56.7" cy="469.8" r="2.0"/>
<circle cx="57.3" cy="469.1" r="2.0"/>
<circle cx="57.5" cy="469.2" r="2.0"/>
<circle cx="58.1" cy="469.4" r="2.0"/>
<circle cx="58.3" cy="469.0" r="2.0"/>
<circle cx="58.9" cy="469.2" r="2.0"/>
<circle cx="59.1" cy="470.0" r="2.0"/>
<circle cx="58.9" cy="471.1" r="2.0"/>
<circle cx="59.7" cy="470.1" r="2.0"/>
<circle cx="59.9" cy="470.2" r="2.0"/>
<circle cx="60.5" cy="470.3" r="2.0"/>
<circle cx="60.7" cy="469.1" r="2.0"/>
<circle cx="61.3" cy="469.5" r="2.0"/>
<circle cx="61.5" cy="470.4" r="2.0"/>
<circle cx="62.1" cy="469.6" r="2.0"/>
<circle cx="62.3" cy="469.6" r="2.0"/>
<circle cx="62.9" cy="469.2" r="2.0"/>
<circle cx="63.1" cy="470.2" r="2.0"/>
<circle cx="63.7" cy="470.5" r="2.0"/>
<circle cx="63.9" cy="469.0" r="2.0"/>
<circle cx="64.5" cy="469.8" r="2.0"/>
<circle cx="64.7" cy="469.2" r="2.0"/>
<circle cx="65.3" cy="468.9" r="2.0"/>
<circle cx="65.5" cy="469.8" r="2.0"/>
<circle cx="66.1" cy="469.6" r="2.0"/>
<circle cx="66.3" cy="469.3" r="2.0"/>
<circle cx="66.9" cy="470.2" r="2.0"/>
<circle cx="67.1" cy="469.2" r="2.0"/>
<circle cx="67.7" cy="469.7" r="2.0"/>
<circle cx="67.9" cy="468.7" r="2.0"/>
<circle cx="68.5" cy="469.0" r="2.0"/>
<circle cx="68.7" cy="470.2" r="2.0"/>
<circle cx="69.3" cy="470.4" r="2.0"/>
<circle cx="69.5" cy="469.9" r="2.0"/>
<circle cx="70.1" cy="469.3" r="2.0"/>
<circle cx="70.3" cy="469.7" r="2.0"/>
<circle cx="70.9" cy="468.9" r="2.0"/>
<circle cx="71.1" cy="470.2" r="2.0"/>
<circle cx="70.9" cy="471.1" r="2.0"/>
<circle cx="71.7" cy="469.1" r="2.0"/>
<circle cx="71.9" cy="469.5" r="2.0"/>
<circle cx="72.5" cy="469.1" r="2.0"/>
<circle cx="72.7" cy="468.9" r="2.0"/>
<circle cx="73.3" cy="470.0" r="2.0"/>
<circle cx="73.5" cy="470.2" r="2.0"/>
<circle cx="74.1" cy="470.1" r="2.0"/>
<circle cx="74.3" cy="470.2" r="2.0"/>
<circle cx="74.9" cy="468.9" r="2.0"/>
<circle cx="75.1" cy="469.3" r="2.0"/>
<circle cx="75.7" cy="469.1" r="2.0"/>
<circle cx="75.9" cy="469.2" r="2.0"/>
<circle cx="76.5" cy="469.4" r="2.0"/>
<circle cx="76.7" cy="468.6" r="2.0"/>
<circle cx="77.3" cy="469.3" r="2.0"/>
<circle cx="77.5" cy="469.4" r="2.0"/>
<circle cx="78.1" cy="470.0" r="2.0"/>
<circle cx="78.3" cy="468.6" r="2.0"/>
<circle cx="78.9" cy="468.5" r="2.0"/>
<circle cx="79.1" cy="468.9" r="2.0"/>
<circle cx="79.7" cy="469.8" r="2.0"/>
<circle cx="79.9" cy="469.8" r="2.0"/>
<circle cx="79.7" cy="470.8" r="2.0"/>
<circle cx="80.5" cy="469.5" r="2.0"/>
<circle cx="80.7" cy="470.0" r="2.0"/>
<circle cx="81.3" cy="468.4" r="2.0"/>
<circle cx="81.5" cy="468.6" r="2.0"/>
<circle cx="82.1" cy="468.4" r="2.0"/>
<circle cx="82.3" cy="468.5" r="2.0"/>
<circle cx="82.9" cy="469.0" r="2.0"/>
<circle cx="83.1" cy="468.6" r="2.0"/>
<circle cx="83.7" cy="469.3" r="2.0"/>
<circle cx="83.9" cy="469.8" r="2.0"/>
<circle cx="84.5" cy="468.5" r="2.0"/>
<circle cx="84.7" cy="468.4" r="2.0"/>
<circle cx="85.3" cy="468.5" r="2.0"/>
<circle cx="85.5" cy="469.9" r="2.0"/>
<circle cx="86.1" cy="470.1" r="2.0"/>
<circle cx="86.3" cy="469.5" r="2.0"/>
<circle cx="86.9" cy="469.0" r="2.0"/>
<circle cx="87.1" cy="469.9" r="2.0"/>
<circle cx="87.7" cy="469.1" r="2.0"/>
<circle cx="87.9" cy="468.8" r="2.0"/>
<circle cx="88.5" cy="469.4" r="2.0"/>
<circle cx="88.7" cy="469.5" r="2.0"/>
<circle cx="89.3" cy="469.3" r="2.0"/>
<circle cx="89.5" cy="469.4" r="2.0"/>
<circle cx="90.1" cy="469.9" r="2.0"/>
<circle cx="90.3" cy="468.6" r="2.0"/>
<circle cx="90.9" cy="468.6" r="2.0"/>
<circle cx="91.1" cy="469.1" r="2.0"/>
<circle cx="91.7" cy="469.2" r="2.0"/>
<circle cx="91.9" cy="469.1" r="2.0"/>
<circle cx="92.5" cy="469.3" r="2.0"/>
<circle cx="92.7" cy="468.8" r="2.0"/>
<circle cx="93.3" cy="469.9" r="2.0"/>
<circle cx="93.5" cy="468.8" r="2.0"/>
<circle cx="94.1" cy="468.9" r="2.0"/>
<circle cx="94.3" cy="469.0" r="2.0"/>
<circle cx="94.9" cy="469.1" r="2.0"/>
<circle cx="95.1" cy="469.4" r="2.0"/>
<circle cx="95.7" cy="469.2" r="2.0"/>
<circle cx="95.9" cy="468.9" r="2.0"/>
<circle cx="95.7" cy="470.6" r="2.0"/>
<circle cx="96.5" cy="469.2" r="2.0"/>
<circle cx="96.7" cy="468.2" r="2.0"/>
<circle cx="97.3" cy="469.9" r="2.0"/>
<circle cx="97.5" cy="469.0" r="2.0"/>
<circle cx="98.1" cy="469.9" r="2.0"/>
<circle cx="98.3" cy="468.5" r="2.0"/>
<circle cx="98.9" cy="469.1" r="2.0"/>
<circle cx="99.1" cy="468.7" r="2.0"/>
<circle cx="99.7" cy="468.1" r="2.0"/>
<circle cx="99.9" cy="468.7" r="2.0"/>
<circle cx="99.7" cy="467.1" r="2.0"/>
<circle cx="100.5" cy="468.0" r="2.0"/>
<circle cx="100.7" cy="469.0" r="2.0"/>
<circle cx="101.3" cy="468.6" r="2.0"/>
<circle cx="101.5" cy="468.7" r="2.0"/>
<circle cx="102.1" cy="468.6" r="2.0"/>
<circle cx="102.3" cy="468.1" r="2.0"/>
<circle cx="102.9" cy="468.7" r="2.0"/>
<circle cx="103.1" cy="468.5" r="2.0"/>
<circle cx="103.7" cy="468.5" r="2.0"/>
<circle cx="103.9" cy="468.4" r="2.0"/>
<circle cx="104.5" cy="469.1" r="2.0"/>
<circle cx="104.7" cy="468.2" r="2.0"/>
<circle cx="105.3" cy="468.9" r="2.0"/>
<circle cx="105.5" cy="469.4" r="2.0"/>
<circle cx="106.1" cy="469.7" r="2.0"/>
<circle cx="106.3" cy="468.5" r="2.0"/>
<circle cx="106.9" cy="468.0" r="2.0"/>
<circle cx="107.1" cy="469.7" r="2.0"/>
<circle cx="107.7" cy="468.9" r="2.0"/>
<circle cx="107.9" cy="469.1" r="2.0"/>
<circle cx="108.5" cy="468.2" r="2.0"/>
<circle cx="108.7" cy="469.3" r="2.0"/>
<circle cx="108.5" cy="466.7" r="2.0"/>
<circle cx="109.3" cy="469.1" r="2.0"/>
<circle cx="109.5" cy="469.4" r="2.0"/>
<circle cx="110.1" cy="468.5" r="2.0"/>
<circle cx="110.3" cy="468.5" r="2.0"/>
<circle cx="110.9" cy="468.1" r="2.0"/>
<circle cx="111.1" cy="468.1" r="2.0"/>
<circle cx="111.7" cy="469.7" r="2.0"/>
<circle cx="111.9" cy="468.7" r="2.0"/>
<circle cx="112.5" cy="468.9" r="2.0"/>
<circle cx="112.7" cy="469.6" r="2.0"/>
<circle cx="113.3" cy="468.2" r="2.0"/>
<circle cx="113.5" cy="469.6" r="2.0"/>
<circle cx="114.1" cy="468.9" r="2.0"/>
<circle cx="114.3" cy="469.0" r="2.0"/>
<circle cx="114.9" cy="468.8" r="2.0"/>
<circle cx="115.1" cy="469.0" r="2.0"/>
<circle cx="115.7" cy="468.5" r="2.0"/>
<circle cx="115.9" cy="469.6" r="2.0"/>
<circle cx="116.5" cy="468.3" r="2.0"/>
<circle cx="116.7" cy="468.1" r="2.0"/>
<circle cx="117.3" cy="468.8" r="2.0"/>
<circle cx="117.5" cy="468.2" r="2.0"/>
<circle cx="118.1" cy="468.3" r="2.0"/>
<circle cx="118.3" cy="468.1" r="2.0"/>
<circle cx="118.9" cy="469.5" r="2.0"/>
<circle cx="119.1" cy="469.2" r="2.0"/>
<circle cx="119.7" cy="468.2" r="2.0"/>
<circle cx="119.9" cy="468.7" r="2.0"/>
<circle cx="119.7" cy="466.3" r="2.0"/>
<circle cx="120.5" cy="467.9" r="2.0"/>
<circle cx="120.7" cy="468.8" r="2.0"/>
<circle cx="121.3" cy="468.5" r="2.0"/>
<circle cx="121.5" cy="468.6" r="2.0"/>
<circle cx="122.1" cy="469.4" r="2.0"/>
<circle cx="122.3" cy="468.6" r="2.0"/>
<circle cx="122.9" cy="468.5" r="2.0"/>
<circle cx="123.1" cy="469.0" r="2.0"/>
<circle cx="123.7" cy="468.1" r="2.0"/>
<circle cx="123.9" cy="468.9" r="2.0"/>
<circle cx="124.5" cy="468.1" r="2.0"/>
<circle cx="124.7" cy="469.3" r="2.0"/>
<circle cx="125.3" cy="468.7" r="2.0"/>
<circle cx="125.5" cy="469.0" r="2.0"/>
<circle cx="126.1" cy="468.7" r="2.0"/>
<circle cx="126.3" cy="468.4" r="2.0"/>
<circle cx="126.9" cy="469.4" r="2.0"/>
<circle cx="127.1" cy="468.2" r="2.0"/>
<circle cx="127.7" cy="468.9" r="2.0"/>
<circle cx="127.9" cy="467.9" r="2.0"/>
<circle cx="128.5" cy="467.6" r="2.0"/>
<circle cx="128.7" cy="467.7" r="2.0"/>
<circle cx="129.3" cy="468.2" r="2.0"/>
<circle cx="129.5" cy="468.8" r="2.0"/>
<circle cx="130.1" cy="468.8" r="2.0"/>
<circle cx="130.3" cy="468.9" r="2.0"/>
<circle cx="130.9" cy="469.3" r="2.0"/>
<circle cx="131.1" cy="467.7" r="2.0"/>
<circle cx="131.7" cy="468.8" r="2.0"/>
<circle cx="131.9" cy="468.7" r="2.0"/>
<circle cx="132.5" cy="468.6" r="2.0"/>
<circle cx="132.7" cy="469.0" r="2.0"/>
<circle cx="133.3" cy="468.8" r="2.0"/>
<circle cx="133.5" cy="468.4" r="2.0"/>
<circle cx="134.1" cy="468.1" r="2.0"/>
<circle cx="134.3" cy="467.6" r="2.0"/>
<circle cx="134.9" cy="467.7" r="2.0"/>
<circle cx="135.1" cy="468.1" r="2.0"/>
<circle cx="135.7" cy="467.7" r="2.0"/>
<circle cx="135.9" cy="468.2" r="2.0"/>
<circle cx="136.5" cy="469.2" r="2.0"/>
<circle cx="136.7" cy="467.9" r="2.0"/>
<circle cx="137.3" cy="468.6" r="2.0"/>
<circle cx="137.5" cy="467.8" r="2.0"/>
<circle cx="138.1" cy="467.8" r="2.0"/>
<circle cx="138.3" cy="468.4" r="2.0"/>
<circle cx="138.9" cy="468.5" r="2.0"/>
<circle cx="139.1" cy="467.9" r="2.0"/>
<circle cx="139.7" cy="468.8" r="2.0"/>
<circle cx="139.9" cy="467.6" r="2.0"/>
<circle cx="139.7" cy="466.0" r="2.0"/>
<circle cx="140.5" cy="468.4" r="2.0"/>
<circle cx="140.7" cy="468.4" r="2.0"/>
<circle cx="140.5" cy="469.9" r="2.0"/>
<circle cx="141.3" cy="469.0" r="2.0"/>
<circle cx="141.5" cy="468.6" r="2.0"/>
<circle cx="142.1" cy="468.9" r="2.0"/>
<circle cx="142.3" cy="469.0" r="2.0"/>
<circle cx="142.9" cy="468.7" r="2.0"/>
<circle cx="143.1" cy="469.2" r="2.0"/>
<circle cx="143.7" cy="469.2" r="2.0"/>
<circle cx="143.9" cy="469.1" r="2.0"/>
<circle cx="144.5" cy="468.3" r="2.0"/>
<circle cx="144.7" cy="467.8" r="2.0"/>
<circle cx="145.3" cy="467.6" r="2.0"/>
<circle cx="145.5" cy="468.8" r="2.0"/>
<circle cx="146.1" cy="469.0" r="2.0"/>
<circle cx="146.3" cy="468.4" r="2.0"/>
<circle cx="146.9" cy="468.6" r="2.0"/>
<circle cx="147.1" cy="467.5" r="2.0"/>
<circle cx="147.7" cy="468.1" r="2.0"/>
<circle cx="147.9" cy="467.8" r="2.0"/>
<circle cx="147.7" cy="466.5" r="2.0"/>
<circle cx="148.5" cy="469.3" r="2.0"/>
<circle cx="148.7" cy="469.1" r="2.0"/>
<circle cx="149.3" cy="468.8" r="2.0"/>
<circle cx="149.5" cy="469.3" r="2.0"/>
<circle cx="150.1" cy="468.2" r="2.0"/>
<circle cx="150.3" cy="468.7" r="2.0"/>
<circle cx="150.9" cy="467.8" r="2.0"/>
<circle cx="151.1" cy="468.3" r="2.0"/>
<circle cx="151.7" cy="467.7" r="2.0"/>
<circle cx="151.9" cy="468.3" r="2.0"/>
<circle cx="152.5" cy="468.5" r="2.0"/>
<circle cx="152.7" cy="467.8" r="2.0"/>
<circle cx="152.5" cy="466.5" r="2.0"/>
<circle cx="153.3" cy="468.7" r="2.0"/>
<circle cx="153.5" cy="468.6" r="2.0"/>
<circle cx="154.1" cy="469.2" r="2.0"/>
<circle cx="154.3" cy="468.0" r="2.0"/>
<circle cx="154.9" cy="468.6" r="2.0"/>
<circle cx="155.1" cy="469.2" r="2.0"/>
<circle cx="155.7" cy="467.7" r="2.0"/>
<circle cx="155.9" cy="469.2" r="2.0"/>
<circle cx="156.5" cy="467.6" r="2.0"/>
<circle cx="156.7" cy="468.1" r="2.0"/>
<circle cx="157.3" cy="468.7" r="2.0"/>
<circle cx="157.5" cy="469.1" r="2.0"/>
<circle cx="158.1" cy="468.4" r="2.0"/>
<circle cx="158.3" cy="468.7" r="2.0"/>
<circle cx="158.9" cy="467.6" r="2.0"/>
<circle cx="159.1" cy="469.2" r="2.0"/>
<circle cx="159.7" cy="468.2" r="2.0"/>
<circle cx="159.9" cy="467.7" r="2.0"/>
<circle cx="160.5" cy="467.7" r="2.0"/>
<circle cx="160.7" cy="468.4" r="2.0"/>
<circle cx="161.3" cy="468.7" r="2.0"/>
<circle cx="161.5" cy="469.3" r="2.0"/>
<circle cx="162.1" cy="468.8" r="2.0"/>
<circle cx="162.3" cy="469.2" r="2.0"/>
<circle cx="162.1" cy="466.4" r="2.0"/>
<circle cx="162.9" cy="468.4" r="2.0"/>
<circle cx="163.1" cy="468.9" r="2.0"/>
<circle cx="163.7" cy="467.7" r="2.0"/>
<circle cx="163.9" cy="467.8" r="2.0"/>
<circle cx="163.7" cy="469.8" r="2.0"/>
<circle cx="164.5" cy="468.1" r="2.0"/>
<circle cx="164.7" cy="469.3" r="2.0"/>
<circle cx="164.5" cy="470.2" r="2.0"/>
<circle cx="165.3" cy="467.7" r="2.0"/>
<circle cx="165.5" cy="469.2" r="2.0"/>
<circle cx="166.1" cy="469.3" r="2.0"/>
<circle cx="166.3" cy="467.6" r="2.0"/>
<circle cx="166.9" cy="468.2" r="2.0"/>
<circle cx="167.1" cy="468.0" r="2.0"/>
<circle cx="167.7" cy="468.3" r="2.0"/>
<circle cx="167.9" cy="468.3" r="2.0"/>
<circle cx="168.5" cy="468.2" r="2.0"/>
<circle cx="168.7" cy="468.6" r="2.0"/>
<circle cx="169.3" cy="468.6" r="2.0"/>
<circle cx="169.5" cy="468.6" r="2.0"/>
<circle cx="170.1" cy="469.2" r="2.0"/>
<circle cx="170.3" cy="468.6" r="2.0"/>
<circle cx="170.9" cy="467.5" r="2.0"/>
<circle cx="171.1" cy="469.0" r="2.0"/>
<circle cx="171.7" cy="467.8" r="2.0"/>
<circle cx="171.9" cy="468.9" r="2.0"/>
<circle cx="171.7" cy="470.3" r="2.0"/>
<circle cx="172.5" cy="468.7" r="2.0"/>
<circle cx="172.7" cy="468.9" r="2.0"/>
<circle cx="173.3" cy="467.9" r="2.0"/>
<circle cx="173.5" cy="469.0" r="2.0"/>
<circle cx="174.1" cy="468.2" r="2.0"/>
<circle cx="174.3" cy="469.3" r="2.0"/>
<circle cx="174.9" cy="468.6" r="2.0"/>
<circle cx="175.1" cy="467.8" r="2.0"/>
<circle cx="175.7" cy="468.1" r="2.0"/>
<circle cx="175.9" cy="467.7" r="2.0"/>
<circle cx="175.7" cy="466.1" r="2.0"/>
<circle cx="176.5" cy="469.0" r="2.0"/>
<circle cx="176.7" cy="469.0" r="2.0"/>
<circle cx="177.3" cy="468.2" r="2.0"/>
<circle cx="177.5" cy="468.2" r="2.0"/>
<circle cx="178.1" cy="469.2" r="2.0"/>
<circle cx="178.3" cy="468.5" r="2.0"/>
<circle cx="178.9" cy="469.0" r="2.0"/>
<circle cx="179.1" cy="468.2" r="2.0"/>
<circle cx="179.7" cy="468.0" r="2.0"/>
<circle cx="179.9" cy="468.4" r="2.0"/>
<circle cx="180.5" cy="469.3" r="2.0"/>
<circle cx="180.7" cy="469.3" r="2.0"/>
<circle cx="181.3" cy="468.0" r="2.0"/>
<circle cx="181.5" cy="468.6" r="2.0"/>
<circle cx="182.1" cy="468.8" r="2.0"/>
<circle cx="182.3" cy="468.5" r="2.0"/>
<circle cx="182.9" cy="467.6" r="2.0"/>
<circle cx="183.1" cy="469.3" r="2.0"/>
<circle cx="182.9" cy="466.8" r="2.0"/>
<circle cx="183.7" cy="468.4" r="2.0"/>
<circle cx="183.9" cy="469.2" r="2.0"/>
<circle cx="184.5" cy="467.8" r="2.0"/>
<circle cx="184.7" cy="468.6" r="2.0"/>
<circle cx="185.3" cy="468.2" r="2.0"/>
<circle cx="185.5" cy="468.8" r="2.0"/>
<circle cx="186.1" cy="468.3" r="2.0"/>
<circle cx="186.3" cy="469.2" r="2.0"/>
<circle cx="186.9" cy="468.7" r="2.0"/>
<circle cx="187.1" cy="468.1" r="2.0"/>
<circle cx="187.7" cy="467.7" r="2.0"/>
<circle cx="187.9" cy="468.7" r="2.0"/>
<circle cx="188.5" cy="469.0" r="2.0"/>
<circle cx="188.7" cy="469.0" r="2.0"/>
<circle cx="189.3" cy="468.4" r="2.0"/>
<circle cx="189.5" cy="468.3" r="2.0"/>
<circle cx="190.1" cy="468.5" r="2.0"/>
<circle cx="190.3" cy="467.8" r="2.0"/>
<circle cx="190.9" cy="469.4" r="2.0"/>
<circle cx="191.1" cy="468.6" r="2.0"/>
<circle cx="191.7" cy="469.3" r="2.0"/>
<circle cx="191.9" cy="467.7" r="2.0"/>
<circle cx="192.5" cy="468.6" r="2.0"/>
<circle cx="192.7" cy="469.4" r="2.0"/>
<circle cx="193.3" cy="469.2" r="2.0"/>
<circle cx="193.5" cy="468.6" r="2.0"/>
<circle cx="194.1" cy="469.5" r="2.0"/>
<circle cx="194.3" cy="468.7" r="2.0"/>
<circle cx="194.9" cy="468.5" r="2.0"/>
<circle cx="195.1" cy="467.9" r="2.0"/>
<circle cx="195.7" cy="469.1" r="2.0"/>
<circle cx="195.9" cy="468.0" r="2.0"/>
<circle cx="195.7" cy="466.9" r="2.0"/>
<circle cx="196.5" cy="468.8" r="2.0"/>
<circle cx="196.7" cy="467.8" r="2.0"/>
<circle cx="197.3" cy="469.4" r="2.0"/>
<circle cx="197.5" cy="468.7" r="2.0"/>
<circle cx="198.1" cy="469.3" r="2.0"/>
<circle cx="198.3" cy="467.8" r="2.0"/>
<circle cx="198.9" cy="469.0" r="2.0"/>
<circle cx="199.1" cy="468.7" r="2.0"/>
<circle cx="199.7" cy="468.3" r="2.0"/>
<circle cx="199.9" cy="468.5" r="2.0"/>
<circle cx="199.7" cy="470.3" r="2.0"/>
<circle cx="200.5" cy="468.8" r="2.0"/>
<circle cx="200.7" cy="469.2" r="2.0"/>
<circle cx="201.3" cy="467.9" r="2.0"/>
<circle cx="201.5" cy="467.9" r="2.0"/>
<circle cx="202.1" cy="469.5" r="2.0"/>
<circle cx="202.3" cy="468.2" r="2.0"/>
<circle cx="202.9" cy="469.4" r="2.0"/>
<circle cx="203.1" cy="468.3" r="2.0"/>
<circle cx="203.7" cy="468.7" r="2.0"/>
<circle cx="203.9" cy="468.7" r="2.0"/>
<circle cx="204.5" cy="468.2" r="2.0"/>
<circle cx="204.7" cy="469.2" r="2.0"/>
<circle cx="205.3" cy="469.4" r="2.0"/>
<circle cx="205.5" cy="467.7" r="2.0"/>
<circle cx="206.1" cy="469.2" r="2.0"/>
<circle cx="206.3" cy="468.9" r="2.0"/>
<circle cx="206.9" cy="468.4" r="2.0"/>
<circle cx="207.1" cy="469.1" r="2.0"/>
<circle cx="207.7" cy="467.7" r="2.0"/>
<circle cx="207.9" cy="468.1" r="2.0"/>
<circle cx="208.5" cy="468.1" r="2.0"/>
<circle cx="208.7" cy="467.8" r="2.0"/>
<circle cx="208.5" cy="466.8" r="2.0"/>
<circle cx="209.3" cy="468.1" r="2.0"/>
<circle cx="209.5" cy="469.5" r="2.0"/>
<circle cx="210.1" cy="468.3" r="2.0"/>
<circle cx="210.3" cy="467.8" r="2.0"/>
<circle cx="210.9" cy="468.9" r="2.0"/>
<circle cx="211.1" cy="469.0" r="2.0"/>
<circle cx="211.7" cy="468.7" r="2.0"/>
<circle cx="211.9" cy="468.7" r="2.0"/>
<circle cx="212.5" cy="467.8" r="2.0"/>
<circle cx="212.7" cy="468.2" r="2.0"/>
<circle cx="213.3" cy="469.4" r="2.0"/>
<circle cx="213.5" cy="468.7" r="2.0"/>
<circle cx="214.1" cy="468.8" r="2.0"/>
<circle cx="214.3" cy="469.3" r="2.0"/>
<circle cx="214.9" cy="468.6" r="2.0"/>
<circle cx="215.1" cy="468.5" r="2.0"/>
<circle cx="215.7" cy="469.0" r="2.0"/>
<circle cx="215.9" cy="468.4" r="2.0"/>
<circle cx="216.5" cy="469.5" r="2.0"/>
<circle cx="216.7" cy="468.0" r="2.0"/>
<circle cx="217.3" cy="468.7" r="2.0"/>
<circle cx="217.5" cy="468.0" r="2.0"/>
<circle cx="218.1" cy="467.8" r="2.0"/>
<circle cx="218.3" cy="469.3" r="2.0"/>
<circle cx="218.9" cy="469.3" r="2.0"/>
<circle cx="219.1" cy="468.3" r="2.0"/>
<circle cx="219.7" cy="468.1" r="2.0"/>
<circle cx="219.9" cy="468.8" r="2.0"/>
<circle cx="220.5" cy="467.9" r="2.0"/>
<circle cx="220.7" cy="469.5" r="2.0"/>
<circle cx="221.3" cy="467.7" r="2.0"/>
<circle cx="221.5" cy="469.3" r="2.0"/>
<circle cx="221.3" cy="470.2" r="2.0"/>
<circle cx="222.1" cy="469.4" r="2.0"/>
<circle cx="222.3" cy="469.1" r="2.0"/>
<circle cx="222.9" cy="468.0" r="2.0"/>
<circle cx="223.1" cy="469.4" r="2.0"/>
<circle cx="223.7" cy="469.3" r="2.0"/>
<circle cx="223.9" cy="469.1" r="2.0"/>
<circle cx="224.5" cy="467.8" r="2.0"/>
<circle cx="224.7" cy="468.3" r="2.0"/>
<circle cx="225.3" cy="467.9" r="2.0"/>
<circle cx="225.5" cy="467.8" r="2.0"/>
<circle cx="226.1" cy="468.1" r="2.0"/>
<circle cx="226.3" cy="468.4" r="2.0"/>
<circle cx="226.9" cy="469.5" r="2.0"/>
<circle cx="227.1" cy="469.1" r="2.0"/>
<circle cx="227.7" cy="468.2" r="2.0"/>
<circle cx="227.9" cy="468.9" r="2.0"/>
<circle cx="228.5" cy="468.6" r="2.0"/>
<circle cx="228.7" cy="468.1" r="2.0"/>
<circle cx="229.3" cy="469.5" r="2.0"/>
<circle cx="229.5" cy="469.4" r="2.0"/>
<circle cx="230.1" cy="467.8" r="2.0"/>
<circle cx="230.3" cy="469.3" r="2.0"/>
<circle cx="230.9" cy="468.0" r="2.0"/>
<circle cx="231.1" cy="468.0" r="2.0"/>
<circle cx="231.7" cy="468.6" r="2.0"/>
<circle cx="231.9" cy="468.1" r="2.0"/>
<circle cx="232.5" cy="468.6" r="2.0"/>
<circle cx="232.7" cy="467.8" r="2.0"/>
<circle cx="232.5" cy="470.1" r="2.0"/>
<circle cx="233.3" cy="468.6" r="2.0"/>
<circle cx="233.5" cy="467.8" r="2.0"/>
<circle cx="234.1" cy="467.9" r="2.0"/>
<circle cx="234.3" cy="469.4" r="2.0"/>
<circle cx="234.1" cy="466.6" r="2.0"/>
<circle cx="234.9" cy="468.8" r="2.0"/>
<circle cx="235.1" cy="469.1" r="2.0"/>
<circle cx="235.7" cy="468.9" r="2.0"/>
<circle cx="235.9" cy="469.5" r="2.0"/>
<circle cx="236.5" cy="468.2" r="2.0"/>
<circle cx="236.7" cy="469.0" r="2.0"/>
<circle cx="236.5" cy="466.4" r="2.0"/>
<circle cx="237.3" cy="468.4" r="2.0"/>
<circle cx="237.5" cy="469.6" r="2.0"/>
<circle cx="238.1" cy="469.2" r="2.0"/>
<circle cx="238.3" cy="469.4" r="2.0"/>
<circle cx="238.9" cy="468.3" r="2.0"/>
<circle cx="239.1" cy="468.6" r="2.0"/>
<circle cx="239.7" cy="469.6" r="2.0"/>
<circle cx="239.9" cy="469.3" r="2.0"/>
<circle cx="240.5" cy="468.6" r="2.0"/>
<circle cx="240.7" cy="469.1" r="2.0"/>
<circle cx="241.3" cy="469.5" r="2.0"/>
<circle cx="241.5" cy="468.7" r="2.0"/>
<circle cx="242.1" cy="469.1" r="2.0"/>
<circle cx="242.3" cy="468.5" r="2.0"/>
<circle cx="242.9" cy="468.6" r="2.0"/>
<circle cx="243.1" cy="469.1" r="2.0"/>
<circle cx="243.7" cy="468.9" r="2.0"/>
<circle cx="243.9" cy="468.1" r="2.0"/>
<circle cx="244.5" cy="468.8" r="2.0"/>
<circle cx="244.7" cy="468.7" r="2.0"/>
<circle cx="245.3" cy="469.3" r="2.0"/>
<circle cx="245.5" cy="469.5" r="2.0"/>
<circle cx="246.1" cy="469.3" r="2.0"/>
<circle cx="246.3" cy="468.0" r="2.0"/>
<circle cx="246.9" cy="468.9" r="2.0"/>
<circle cx="247.1" cy="468.0" r="2.0"/>
<circle cx="247.7" cy="469.6" r="2.0"/>
<circle cx="247.9" cy="469.7" r="2.0"/>
<circle cx="248.5" cy="467.8" r="2.0"/>
<circle cx="248.7" cy="468.4" r="2.0"/>
<circle cx="249.3" cy="468.0" r="2.0"/>
<circle cx="249.5" cy="469.5" r="2.0"/>
<circle cx="250.1" cy="468.2" r="2.0"/>
<circle cx="250.3" cy="468.6" r="2.0"/>
<circle cx="250.9" cy="468.3" r="2.0"/>
<circle cx="251.1" cy="469.5" r="2.0"/>
<circle cx="251.7" cy="469.1" r="2.0"/>
<circle cx="251.9" cy="468.8" r="2.0"/>
<circle cx="252.5" cy="468.8" r="2.0"/>
<circle cx="252.7" cy="469.0" r="2.0"/>
<circle cx="253.3" cy="467.9" r="2.0"/>
<circle cx="253.5" cy="468.7" r="2.0"/>
<circle cx="254.1" cy="468.6" r="2.0"/>
<circle cx="254.3" cy="468.2" r="2.0"/>
<circle cx="254.9" cy="468.7" r="2.0"/>
<circle cx="255.1" cy="468.2" r="2.0"/>
<circle cx="255.7" cy="468.2" r="2.0"/>
<circle cx="255.9" cy="469.3" r="2.0"/>
<circle cx="256.5" cy="468.9" r="2.0"/>
<circle cx="256.7" cy="468.9" r="2.0"/>
<circle cx="257.3" cy="468.2" r="2.0"/>
<circle cx="257.5" cy="468.8" r="2.0"/>
<circle cx="258.1" cy="469.7" r="2.0"/>
<circle cx="258.3" cy="468.1" r="2.0"/>
<circle cx="258.9" cy="469.3" r="2.0"/>
<circle cx="259.1" cy="469.1" r="2.0"/>
<circle cx="259.7" cy="468.4" r="2.0"/>
<circle cx="259.9" cy="468.3" r="2.0"/>
<circle cx="260.5" cy="469.2" r="2.0"/>
<circle cx="260.7" cy="468.3" r="2.0"/>
<circle cx="261.3" cy="468.3" r="2.0"/>
<circle cx="261.5" cy="468.3" r="2.0"/>
<circle cx="261.3" cy="466.8" r="2.0"/>
<circle cx="262.1" cy="468.2" r="2.0"/>
<circle cx="262.3" cy="469.3" r="2.0"/>
<circle cx="262.1" cy="466.6" r="2.0"/>
<circle cx="262.9" cy="468.4" r="2.0"/>
<circle cx="263.1" cy="468.0" r="2.0"/>
<circle cx="263.7" cy="469.1" r="2.0"/>
<circle cx="263.9" cy="468.4" r="2.0"/>
<circle cx="264.5" cy="468.2" r="2.0"/>
<circle cx="264.7" cy="468.9" r="2.0"/>
<circle cx="265.3" cy="469.4" r="2.0"/>
<circle cx="265.5" cy="469.1" r="2.0"/>
<circle cx="266.1" cy="469.0" r="2.0"/>
<circle cx="266.3" cy="468.3" r="2.0"/>
<circle cx="266.9" cy="469.4" r="2.0"/>
<circle cx="267.1" cy="468.7" r="2.0"/>
<circle cx="267.7" cy="468.9" r="2.0"/>
<circle cx="267.9" cy="469.3" r="2.0"/>
<circle cx="268.5" cy="468.2" r="2.0"/>
<circle cx="268.7" cy="468.7" r="2.0"/>
<circle cx="269.3" cy="468.3" r="2.0"/>
<circle cx="269.5" cy="468.3" r="2.0"/>
<circle cx="270.1" cy="468.4" r="2.0"/>
<circle cx="270.3" cy="469.2" r="2.0"/>
<circle cx="270.9" cy="468.8" r="2.0"/>
<circle cx="271.1" cy="469.0" r="2.0"/>
<circle cx="271.7" cy="468.3" r="2.0"/>
<circle cx="271.9" cy="469.2" r="2.0"/>
<circle cx="272.5" cy="469.2" r="2.0"/>
<circle cx="272.7" cy="468.6" r="2.0"/>
<circle cx="273.3" cy="468.4" r="2.0"/>
<circle cx="273.5" cy="468.9" r="2.0"/>
<circle cx="274.1" cy="469.4" r="2.0"/>
<circle cx="274.3" cy="468.4" r="2.0"/>
<circle cx="274.9" cy="468.6" r="2.0"/>
<circle cx="275.1" cy="468.6" r="2.0"/>
<circle cx="275.7" cy="469.6" r="2.0"/>
<circle cx="275.9" cy="468.5" r="2.0"/>
<circle cx="276.5" cy="468.6" r="2.0"/>
<circle cx="276.7" cy="468.9" r="2.0"/>
<circle cx="277.3" cy="469.8" r="2.0"/>
<circle cx="277.5" cy="467.9" r="2.0"/>
<circle cx="278.1" cy="469.3" r="2.0"/>
<circle cx="278.3" cy="468.4" r="2.0"/>
<circle cx="278.1" cy="470.7" r="2.0"/>
<circle cx="278.9" cy="469.7" r="2.0"/>
<circle cx="279.1" cy="468.8" r="2.0"/>
<circle cx="279.7" cy="469.5" r="2.0"/>
<circle cx="279.9" cy="469.7" r="2.0"/>
<circle cx="279.7" cy="466.6" r="2.0"/>
<circle cx="280.5" cy="469.2" r="2.0"/>
<circle cx="280.7" cy="469.2" r="2.0"/>
<circle cx="281.3" cy="468.6" r="2.0"/>
<circle cx="281.5" cy="469.7" r="2.0"/>
<circle cx="282.1" cy="468.4" r="2.0"/>
<circle cx="282.3" cy="468.5" r="2.0"/>
<circle cx="282.9" cy="469.2" r="2.0"/>
<circle cx="283.1" cy="469.3" r="2.0"/>
<circle cx="282.9" cy="466.5" r="2.0"/>
<circle cx="283.7" cy="469.4" r="2.0"/>
<circle cx="283.9" cy="468.4" r="2.0"/>
<circle cx="284.5" cy="469.2" r="2.0"/>
<circle cx="284.7" cy="469.3" r="2.0"/>
<circle cx="285.3" cy="468.9" r="2.0"/>
<circle cx="285.5" cy="469.3" r="2.0"/>
<circle cx="286.1" cy="469.4" r="2.0"/>
<circle cx="286.3" cy="468.4" r="2.0"/>
<circle cx="286.9" cy="468.9" r="2.0"/>
<circle cx="287.1" cy="468.3" r="2.0"/>
<circle cx="286.9" cy="470.6" r="2.0"/>
<circle cx="287.7" cy="468.3" r="2.0"/>
<circle cx="287.9" cy="468.1" r="2.0"/>
<circle cx="288.5" cy="469.7" r="2.0"/>
<circle cx="288.7" cy="468.9" r="2.0"/>
<circle cx="289.3" cy="468.6" r="2.0"/>
<circle cx="289.5" cy="469.7" r="2.0"/>
<circle cx="290.1" cy="469.0" r="2.0"/>
<circle cx="290.3" cy="469.1" r="2.0"/>
<circle cx="290.9" cy="468.1" r="2.0"/>
<circle cx="291.1" cy="468.0" r="2.0"/>
<circle cx="291.7" cy="469.0" r="2.0"/>
<circle cx="291.9" cy="469.7" r="2.0"/>
<circle cx="292.5" cy="468.3" r="2.0"/>
<circle cx="292.7" cy="469.5" r="2.0"/>
<circle cx="293.3" cy="468.4" r="2.0"/>
<circle cx="293.5" cy="469.0" r="2.0"/>
<circle cx="294.1" cy="469.8" r="2.0"/>
<circle cx="294.3" cy="468.3" r="2.0"/>
<circle cx="294.9" cy="468.2" r="2.0"/>
<circle cx="295.1" cy="468.8" r="2.0"/>
<circle cx="295.7" cy="468.8" r="2.0"/>
<circle cx="295.9" cy="469.3" r="2.0"/>
<circle cx="296.5" cy="468.3" r="2.0"/>
<circle cx="296.7" cy="468.7" r="2.0"/>
<circle cx="297.3" cy="468.5" r="2.0"/>
<circle cx="297.5" cy="469.6" r="2.0"/>
<circle cx="298.1" cy="469.2" r="2.0"/>
<circle cx="298.3" cy="468.8" r="2.0"/>
<circle cx="298.9" cy="469.4" r="2.0"/>
<circle cx="299.1" cy="469.0" r="2.0"/>
<circle cx="299.7" cy="469.8" r="2.0"/>
<circle cx="299.9" cy="469.4" r="2.0"/>
<circle cx="300.5" cy="468.0" r="2.0"/>
<circle cx="300.7" cy="468.6" r="2.0"/>
<circle cx="301.3" cy="468.2" r="2.0"/>
<circle cx="301.5" cy="469.6" r="2.0"/>
<circle cx="301.3" cy="470.6" r="2.0"/>
<circle cx="302.1" cy="469.1" r="2.0"/>
<circle cx="302.3" cy="468.3" r="2.0"/>
<circle cx="302.9" cy="469.5" r="2.0"/>
<circle cx="303.1" cy="469.8" r="2.0"/>
<circle cx="303.7" cy="469.6" r="2.0"/>
<circle cx="303.9" cy="469.8" r="2.0"/>
<circle cx="304.5" cy="468.9" r="2.0"/>
<circle cx="304.7" cy="469.6" r="2.0"/>
<circle cx="305.3" cy="468.9" r="2.0"/>
<circle cx="305.5" cy="468.2" r="2.0"/>
<circle cx="306.1" cy="468.4" r="2.0"/>
<circle cx="306.3" cy="468.6" r="2.0"/>
<circle cx="306.9" cy="469.5" r="2.0"/>
<circle cx="307.1" cy="468.3" r="2.0"/>
<circle cx="307.7" cy="469.5" r="2.0"/>
<circle cx="307.9" cy="468.4" r="2.0"/>
<circle cx="308.5" cy="468.5" r="2.0"/>
<circle cx="308.7" cy="469.3" r="2.0"/>
<circle cx="308.5" cy="470.7" r="2.0"/>
<circle cx="309.3" cy="469.3" r="2.0"/>
<circle cx="309.5" cy="469.0" r="2.0"/>
<circle cx="310.1" cy="468.7" r="2.0"/>
<circle cx="310.3" cy="468.3" r="2.0"/>
<circle cx="310.9" cy="468.1" r="2.0"/>
<circle cx="311.1" cy="469.1" r="2.0"/>
<circle cx="311.7" cy="469.6" r="2.0"/>
<circle cx="311.9" cy="468.7" r="2.0"/>
<circle cx="312.5" cy="468.9" r="2.0"/>
<circle cx="312.7" cy="469.1" r="2.0"/>
<circle cx="313.3" cy="469.6" r="2.0"/>
<circle cx="313.5" cy="468.4" r="2.0"/>
<circle cx="314.1" cy="469.2" r="2.0"/>
<circle cx="314.3" cy="468.1" r="2.0"/>
<circle cx="314.9" cy="469.7" r="2.0"/>
<circle cx="315.1" cy="468.2" r="2.0"/>
<circle cx="315.7" cy="468.5" r="2.0"/>
<circle cx="315.9" cy="468.2" r="2.0"/>
<circle cx="316.5" cy="469.7" r="2.0"/>
<circle cx="316.7" cy="468.8" r="2.0"/>
<circle cx="317.3" cy="469.8" r="2.0"/>
<circle cx="317.5" cy="469.2" r="2.0"/>
<circle cx="318.1" cy="469.6" r="2.0"/>
<circle cx="318.3" cy="469.5" r="2.0"/>
<circle cx="318.9" cy="469.3" r="2.0"/>
<circle cx="319.1" cy="469.7" r="2.0"/>
<circle cx="319.7" cy="468.1" r="2.0"/>
<circle cx="319.9" cy="469.2" r="2.0"/>
<circle cx="320.5" cy="468.9" r="2.0"/>
<circle cx="320.7" cy="469.2" r="2.0"/>
<circle cx="321.3" cy="469.5" r="2.0"/>
<circle cx="321.5" cy="468.6" r="2.0"/>
<circle cx="322.1" cy="469.6" r="2.0"/>
<circle cx="322.3" cy="469.4" r="2.0"/>
<circle cx="322.9" cy="469.3" r="2.0"/>
<circle cx="323.1" cy="469.0" r="2.0"/>
<circle cx="323.7" cy="468.4" r="2.0"/>
<circle cx="323.9" cy="468.9" r="2.0"/>
<circle cx="323.7" cy="466.6" r="2.0"/>
<circle cx="324.5" cy="469.1" r="2.0"/>
<circle cx="324.7" cy="469.5" r="2.0"/>
<circle cx="325.3" cy="469.1" r="2.0"/>
<circle cx="325.5" cy="469.0" r="2.0"/>
<circle cx="326.1" cy="468.8" r="2.0"/>
<circle cx="326.3" cy="468.7" r="2.0"/>
<circle cx="326.9" cy="469.3" r="2.0"/>
<circle cx="327.1" cy="469.8" r="2.0"/>
<circle cx="327.7" cy="469.0" r="2.0"/>
<circle cx="327.9" cy="469.2" r="2.0"/>
<circle cx="328.5" cy="469.4" r="2.0"/>
<circle cx="328.7" cy="468.7" r="2.0"/>
<circle cx="328.5" cy="470.8" r="2.0"/>
<circle cx="329.3" cy="468.8" r="2.0"/>
<circle cx="329.5" cy="468.3" r="2.0"/>
<circle cx="330.1" cy="468.5" r="2.0"/>
<circle cx="330.3" cy="468.8" r="2.0"/>
<circle cx="330.1" cy="467.0" r="2.0"/>
<circle cx="330.9" cy="468.7" r="2.0"/>
<circle cx="331.1" cy="468.2" r="2.0"/>
<circle cx="331.7" cy="469.9" r="2.0"/>
<circle cx="331.9" cy="468.7" r="2.0"/>
<circle cx="262.7" cy="474.0" r="2.0"/>
<circle cx="271.7" cy="472.7" r="2.0"/>
<circle cx="310.0" cy="476.7" r="2.0"/>
<circle cx="331.5" cy="473.5" r="2.0"/>
<circle cx="331.8" cy="470.5" r="2.0"/>
</g>
<line x1="44.30" y1="363.80" x2="332.20" y2="363.80" stroke="#74a6d0" stroke-width="1" stroke-dasharray="2.6 2.2"/>
<line x1="44.30" y1="437.80" x2="332.20" y2="437.80" stroke="#cc5aa6" stroke-width="1" stroke-dasharray="2.6 2.2"/>
<rect x="44.3" y="291.3" width="287.9" height="219.5" fill="none" stroke="#2c2c2c" stroke-width="1.2"/>
<line x1="44.30" y1="357.50" x2="47.30" y2="357.50" stroke="#2c2c2c" stroke-width="0.8" />
<text x="40.40" y="361.35" font-size="10.8" fill="#1c1c1c" font-weight="normal" text-anchor="end" stroke="#1c1c1c" stroke-width="0.15">0</text>
<line x1="44.30" y1="336.70" x2="47.30" y2="336.70" stroke="#2c2c2c" stroke-width="0.8" />
<text x="40.40" y="340.55" font-size="10.8" fill="#1c1c1c" font-weight="normal" text-anchor="end" stroke="#1c1c1c" stroke-width="0.15">5</text>
<line x1="44.30" y1="315.90" x2="47.30" y2="315.90" stroke="#2c2c2c" stroke-width="0.8" />
<text x="40.40" y="319.75" font-size="10.8" fill="#1c1c1c" font-weight="normal" text-anchor="end" stroke="#1c1c1c" stroke-width="0.15">10</text>
<line x1="44.30" y1="295.10" x2="47.30" y2="295.10" stroke="#2c2c2c" stroke-width="0.8" />
<text x="40.40" y="298.95" font-size="10.8" fill="#1c1c1c" font-weight="normal" text-anchor="end" stroke="#1c1c1c" stroke-width="0.15">15</text>
<line x1="44.30" y1="347.10" x2="46.10" y2="347.10" stroke="#2c2c2c" stroke-width="0.8" />
<line x1="44.30" y1="326.30" x2="46.10" y2="326.30" stroke="#2c2c2c" stroke-width="0.8" />
<line x1="44.30" y1="305.50" x2="46.10" y2="305.50" stroke="#2c2c2c" stroke-width="0.8" />
<line x1="44.30" y1="421.80" x2="47.30" y2="421.80" stroke="#2c2c2c" stroke-width="0.8" />
<text x="40.40" y="425.65" font-size="10.8" fill="#1c1c1c" font-weight="normal" text-anchor="end" stroke="#1c1c1c" stroke-width="0.15">5</text>
<line x1="44.30" y1="404.20" x2="47.30" y2="404.20" stroke="#2c2c2c" stroke-width="0.8" />
<text x="40.40" y="408.05" font-size="10.8" fill="#1c1c1c" font-weight="normal" text-anchor="end" stroke="#1c1c1c" stroke-width="0.15">10</text>
<line x1="44.30" y1="386.60" x2="47.30" y2="386.60" stroke="#2c2c2c" stroke-width="0.8" />
<text x="40.40" y="390.45" font-size="10.8" fill="#1c1c1c" font-weight="normal" text-anchor="end" stroke="#1c1c1c" stroke-width="0.15">15</text>
<line x1="44.30" y1="369.00" x2="47.30" y2="369.00" stroke="#2c2c2c" stroke-width="0.8" />
<text x="40.40" y="372.85" font-size="10.8" fill="#1c1c1c" font-weight="normal" text-anchor="end" stroke="#1c1c1c" stroke-width="0.15">20</text>
<line x1="44.30" y1="430.60" x2="46.10" y2="430.60" stroke="#2c2c2c" stroke-width="0.8" />
<line x1="44.30" y1="413.00" x2="46.10" y2="413.00" stroke="#2c2c2c" stroke-width="0.8" />
<line x1="44.30" y1="395.40" x2="46.10" y2="395.40" stroke="#2c2c2c" stroke-width="0.8" />
<line x1="44.30" y1="377.80" x2="46.10" y2="377.80" stroke="#2c2c2c" stroke-width="0.8" />
<line x1="44.30" y1="507.10" x2="47.30" y2="507.10" stroke="#2c2c2c" stroke-width="0.8" />
<text x="40.40" y="510.95" font-size="10.8" fill="#1c1c1c" font-weight="normal" text-anchor="end" stroke="#1c1c1c" stroke-width="0.15">10</text>
<line x1="44.30" y1="485.75" x2="47.30" y2="485.75" stroke="#2c2c2c" stroke-width="0.8" />
<text x="40.40" y="489.60" font-size="10.8" fill="#1c1c1c" font-weight="normal" text-anchor="end" stroke="#1c1c1c" stroke-width="0.15">15</text>
<line x1="44.30" y1="464.40" x2="47.30" y2="464.40" stroke="#2c2c2c" stroke-width="0.8" />
<text x="40.40" y="468.25" font-size="10.8" fill="#1c1c1c" font-weight="normal" text-anchor="end" stroke="#1c1c1c" stroke-width="0.15">20</text>
<line x1="44.30" y1="443.05" x2="47.30" y2="443.05" stroke="#2c2c2c" stroke-width="0.8" />
<text x="40.40" y="446.90" font-size="10.8" fill="#1c1c1c" font-weight="normal" text-anchor="end" stroke="#1c1c1c" stroke-width="0.15">25</text>
<line x1="44.30" y1="496.42" x2="46.10" y2="496.42" stroke="#2c2c2c" stroke-width="0.8" />
<line x1="44.30" y1="475.07" x2="46.10" y2="475.07" stroke="#2c2c2c" stroke-width="0.8" />
<line x1="44.30" y1="453.72" x2="46.10" y2="453.72" stroke="#2c2c2c" stroke-width="0.8" />
<line x1="44.30" y1="510.80" x2="44.30" y2="507.80" stroke="#2c2c2c" stroke-width="0.8" />
<text x="44.30" y="524.70" font-size="10.8" fill="#1c1c1c" font-weight="normal" text-anchor="middle" stroke="#1c1c1c" stroke-width="0.15">0</text>
<line x1="70.52" y1="510.80" x2="70.52" y2="509.00" stroke="#2c2c2c" stroke-width="0.8" />
<line x1="96.74" y1="510.80" x2="96.74" y2="507.80" stroke="#2c2c2c" stroke-width="0.8" />
<text x="96.74" y="524.70" font-size="10.8" fill="#1c1c1c" font-weight="normal" text-anchor="middle" stroke="#1c1c1c" stroke-width="0.15">2</text>
<line x1="122.96" y1="510.80" x2="122.96" y2="509.00" stroke="#2c2c2c" stroke-width="0.8" />
<line x1="149.18" y1="510.80" x2="149.18" y2="507.80" stroke="#2c2c2c" stroke-width="0.8" />
<text x="149.18" y="524.70" font-size="10.8" fill="#1c1c1c" font-weight="normal" text-anchor="middle" stroke="#1c1c1c" stroke-width="0.15">4</text>
<line x1="175.40" y1="510.80" x2="175.40" y2="509.00" stroke="#2c2c2c" stroke-width="0.8" />
<line x1="201.62" y1="510.80" x2="201.62" y2="507.80" stroke="#2c2c2c" stroke-width="0.8" />
<text x="201.62" y="524.70" font-size="10.8" fill="#1c1c1c" font-weight="normal" text-anchor="middle" stroke="#1c1c1c" stroke-width="0.15">6</text>
<line x1="227.84" y1="510.80" x2="227.84" y2="509.00" stroke="#2c2c2c" stroke-width="0.8" />
<line x1="254.06" y1="510.80" x2="254.06" y2="507.80" stroke="#2c2c2c" stroke-width="0.8" />
<text x="254.06" y="524.70" font-size="10.8" fill="#1c1c1c" font-weight="normal" text-anchor="middle" stroke="#1c1c1c" stroke-width="0.15">8</text>
<line x1="280.28" y1="510.80" x2="280.28" y2="509.00" stroke="#2c2c2c" stroke-width="0.8" />
<line x1="306.50" y1="510.80" x2="306.50" y2="507.80" stroke="#2c2c2c" stroke-width="0.8" />
<text x="306.50" y="524.70" font-size="10.8" fill="#1c1c1c" font-weight="normal" text-anchor="middle" stroke="#1c1c1c" stroke-width="0.15">10</text>
<line x1="332.72" y1="510.80" x2="332.72" y2="509.00" stroke="#2c2c2c" stroke-width="0.8" />
<text x="181.60" y="543.40" font-size="12.5" fill="#1c1c1c" font-weight="normal" text-anchor="middle" textLength="45.5" lengthAdjust="spacingAndGlyphs" stroke="#1c1c1c" stroke-width="0.3">Time (h)</text>
<text transform="translate(15.1,409.3) rotate(-90)" font-size="11.5" fill="#1c1c1c" stroke="#1c1c1c" stroke-width="0.3" text-anchor="middle" textLength="42.5" lengthAdjust="spacingAndGlyphs">PCE (%)</text>
<text x="317.20" y="358.00" font-size="10.3" fill="#3f66a6" font-weight="bold" text-anchor="middle" >Ag</text>
<text x="315.60" y="431.60" font-size="10" fill="#1aa3ab" font-weight="bold" text-anchor="middle" textLength="11.8" lengthAdjust="spacingAndGlyphs">Cu</text>
<text x="310.50" y="502.70" font-size="10" fill="#c10db0" font-weight="bold" text-anchor="middle" textLength="31" lengthAdjust="spacingAndGlyphs">Cu/Au</text>
<text x="12.30" y="291.80" font-size="9" fill="#222" font-weight="normal" text-anchor="start" stroke="#222" stroke-width="0.25">(d)</text>
</svg>
</body></html>
